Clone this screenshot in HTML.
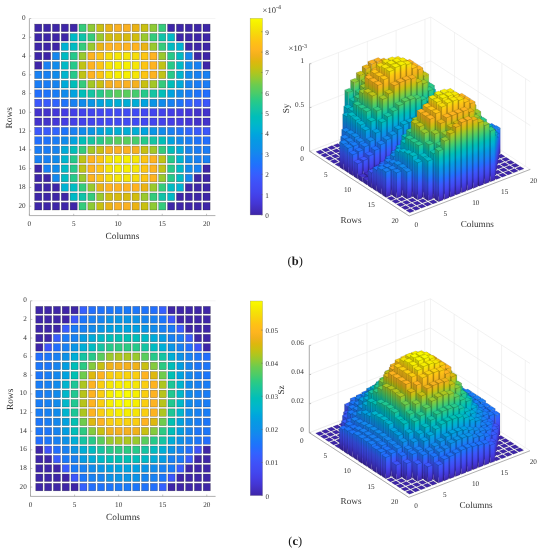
<!DOCTYPE html><html><head><meta charset="utf-8"><title>Sensitivity maps</title><style>html,body{margin:0;padding:0;background:#fff;width:550px;height:551px;overflow:hidden}svg{display:block}</style></head><body><svg width="550" height="551" viewBox="0 0 550 551" text-rendering="geometricPrecision" font-family='"Liberation Serif", "DejaVu Serif", serif'><defs><linearGradient id="cbb" x1="0" y1="1" x2="0" y2="0"><stop offset="0" stop-color="#3e26a8"/><stop offset="0.03" stop-color="#422ebf"/><stop offset="0.06" stop-color="#4436d5"/><stop offset="0.09" stop-color="#443ee5"/><stop offset="0.12" stop-color="#4247ef"/><stop offset="0.16" stop-color="#3f50f7"/><stop offset="0.19" stop-color="#3a59fc"/><stop offset="0.22" stop-color="#3163ff"/><stop offset="0.25" stop-color="#226ffd"/><stop offset="0.28" stop-color="#1a7af8"/><stop offset="0.31" stop-color="#1685f0"/><stop offset="0.34" stop-color="#0d90e9"/><stop offset="0.38" stop-color="#069ae3"/><stop offset="0.41" stop-color="#00a5dd"/><stop offset="0.44" stop-color="#00b1d3"/><stop offset="0.47" stop-color="#00b9c6"/><stop offset="0.5" stop-color="#00beb9"/><stop offset="0.53" stop-color="#11c2a8"/><stop offset="0.56" stop-color="#1ec795"/><stop offset="0.59" stop-color="#2fcb80"/><stop offset="0.62" stop-color="#4bcc69"/><stop offset="0.66" stop-color="#6acc50"/><stop offset="0.69" stop-color="#8cca37"/><stop offset="0.72" stop-color="#acc621"/><stop offset="0.75" stop-color="#c8c011"/><stop offset="0.78" stop-color="#deb70e"/><stop offset="0.81" stop-color="#f1b11b"/><stop offset="0.84" stop-color="#feb51f"/><stop offset="0.88" stop-color="#fec215"/><stop offset="0.91" stop-color="#f9d10e"/><stop offset="0.94" stop-color="#f5e008"/><stop offset="0.97" stop-color="#f6ee00"/><stop offset="1" stop-color="#f9fb00"/></linearGradient><linearGradient id="gbl" gradientUnits="userSpaceOnUse" x1="0" y1="0" x2="0" y2="-84.62" gradientTransform="matrix(1 0.6498 0 1 0 0)"><stop offset="0" stop-color="#311f87"/><stop offset="0.06" stop-color="#372baa"/><stop offset="0.12" stop-color="#3539c0"/><stop offset="0.19" stop-color="#2f47ca"/><stop offset="0.25" stop-color="#1b59ca"/><stop offset="0.31" stop-color="#126ac0"/><stop offset="0.38" stop-color="#057bb6"/><stop offset="0.44" stop-color="#008ea9"/><stop offset="0.5" stop-color="#009894"/><stop offset="0.56" stop-color="#189f77"/><stop offset="0.62" stop-color="#3ca454"/><stop offset="0.69" stop-color="#70a22c"/><stop offset="0.75" stop-color="#a09a0d"/><stop offset="0.81" stop-color="#c18e16"/><stop offset="0.88" stop-color="#cb9b11"/><stop offset="0.94" stop-color="#c4b407"/><stop offset="1" stop-color="#c7c900"/></linearGradient><linearGradient id="gbf" gradientUnits="userSpaceOnUse" x1="0" y1="0" x2="0" y2="-84.62" gradientTransform="matrix(1 -0.3847 0 1 0 0)"><stop offset="0" stop-color="#3e26a8"/><stop offset="0.06" stop-color="#4436d5"/><stop offset="0.12" stop-color="#4247ef"/><stop offset="0.19" stop-color="#3a59fc"/><stop offset="0.25" stop-color="#226ffd"/><stop offset="0.31" stop-color="#1685f0"/><stop offset="0.38" stop-color="#069ae3"/><stop offset="0.44" stop-color="#00b1d3"/><stop offset="0.5" stop-color="#00beb9"/><stop offset="0.56" stop-color="#1ec795"/><stop offset="0.62" stop-color="#4bcc69"/><stop offset="0.69" stop-color="#8cca37"/><stop offset="0.75" stop-color="#c8c011"/><stop offset="0.81" stop-color="#f1b11b"/><stop offset="0.88" stop-color="#fec215"/><stop offset="0.94" stop-color="#f5e008"/><stop offset="1" stop-color="#f9fb00"/></linearGradient><linearGradient id="cbc" x1="0" y1="1" x2="0" y2="0"><stop offset="0" stop-color="#3e26a8"/><stop offset="0.03" stop-color="#422ebf"/><stop offset="0.06" stop-color="#4436d5"/><stop offset="0.09" stop-color="#443ee5"/><stop offset="0.12" stop-color="#4247ef"/><stop offset="0.16" stop-color="#3f50f7"/><stop offset="0.19" stop-color="#3a59fc"/><stop offset="0.22" stop-color="#3163ff"/><stop offset="0.25" stop-color="#226ffd"/><stop offset="0.28" stop-color="#1a7af8"/><stop offset="0.31" stop-color="#1685f0"/><stop offset="0.34" stop-color="#0d90e9"/><stop offset="0.38" stop-color="#069ae3"/><stop offset="0.41" stop-color="#00a5dd"/><stop offset="0.44" stop-color="#00b1d3"/><stop offset="0.47" stop-color="#00b9c6"/><stop offset="0.5" stop-color="#00beb9"/><stop offset="0.53" stop-color="#11c2a8"/><stop offset="0.56" stop-color="#1ec795"/><stop offset="0.59" stop-color="#2fcb80"/><stop offset="0.62" stop-color="#4bcc69"/><stop offset="0.66" stop-color="#6acc50"/><stop offset="0.69" stop-color="#8cca37"/><stop offset="0.72" stop-color="#acc621"/><stop offset="0.75" stop-color="#c8c011"/><stop offset="0.78" stop-color="#deb70e"/><stop offset="0.81" stop-color="#f1b11b"/><stop offset="0.84" stop-color="#feb51f"/><stop offset="0.88" stop-color="#fec215"/><stop offset="0.91" stop-color="#f9d10e"/><stop offset="0.94" stop-color="#f5e008"/><stop offset="0.97" stop-color="#f6ee00"/><stop offset="1" stop-color="#f9fb00"/></linearGradient><linearGradient id="gcl" gradientUnits="userSpaceOnUse" x1="0" y1="0" x2="0" y2="-85.55" gradientTransform="matrix(1 0.6498 0 1 0 0)"><stop offset="0" stop-color="#311f87"/><stop offset="0.06" stop-color="#372baa"/><stop offset="0.12" stop-color="#3539c0"/><stop offset="0.19" stop-color="#2f47ca"/><stop offset="0.25" stop-color="#1b59ca"/><stop offset="0.31" stop-color="#126ac0"/><stop offset="0.38" stop-color="#057bb6"/><stop offset="0.44" stop-color="#008ea9"/><stop offset="0.5" stop-color="#009894"/><stop offset="0.56" stop-color="#189f77"/><stop offset="0.62" stop-color="#3ca454"/><stop offset="0.69" stop-color="#70a22c"/><stop offset="0.75" stop-color="#a09a0d"/><stop offset="0.81" stop-color="#c18e16"/><stop offset="0.88" stop-color="#cb9b11"/><stop offset="0.94" stop-color="#c4b407"/><stop offset="1" stop-color="#c7c900"/></linearGradient><linearGradient id="gcf" gradientUnits="userSpaceOnUse" x1="0" y1="0" x2="0" y2="-85.55" gradientTransform="matrix(1 -0.3847 0 1 0 0)"><stop offset="0" stop-color="#3e26a8"/><stop offset="0.06" stop-color="#4436d5"/><stop offset="0.12" stop-color="#4247ef"/><stop offset="0.19" stop-color="#3a59fc"/><stop offset="0.25" stop-color="#226ffd"/><stop offset="0.31" stop-color="#1685f0"/><stop offset="0.38" stop-color="#069ae3"/><stop offset="0.44" stop-color="#00b1d3"/><stop offset="0.5" stop-color="#00beb9"/><stop offset="0.56" stop-color="#1ec795"/><stop offset="0.62" stop-color="#4bcc69"/><stop offset="0.69" stop-color="#8cca37"/><stop offset="0.75" stop-color="#c8c011"/><stop offset="0.81" stop-color="#f1b11b"/><stop offset="0.88" stop-color="#fec215"/><stop offset="0.94" stop-color="#f5e008"/><stop offset="1" stop-color="#f9fb00"/></linearGradient></defs><rect width="550" height="551" fill="#fff"/><g stroke="#000" stroke-opacity="0.45" stroke-width="0.5"><rect x="34.71" y="24.13" width="7.09" height="7.51" fill="#3e26a8"/><rect x="43.57" y="24.13" width="7.09" height="7.51" fill="#3e26a8"/><rect x="52.43" y="24.13" width="7.09" height="7.51" fill="#3e26a8"/><rect x="61.29" y="24.13" width="7.09" height="7.51" fill="#3e26a8"/><rect x="70.14" y="24.13" width="7.09" height="7.51" fill="#3e26a8"/><rect x="79" y="24.13" width="7.09" height="7.51" fill="#34cb7c"/><rect x="87.86" y="24.13" width="7.09" height="7.51" fill="#8eca35"/><rect x="96.71" y="24.13" width="7.09" height="7.51" fill="#c8c011"/><rect x="105.57" y="24.13" width="7.09" height="7.51" fill="#eab314"/><rect x="114.43" y="24.13" width="7.09" height="7.51" fill="#fab122"/><rect x="123.29" y="24.13" width="7.09" height="7.51" fill="#fab122"/><rect x="132.14" y="24.13" width="7.09" height="7.51" fill="#eab314"/><rect x="141" y="24.13" width="7.09" height="7.51" fill="#c8c011"/><rect x="149.86" y="24.13" width="7.09" height="7.51" fill="#8eca35"/><rect x="158.71" y="24.13" width="7.09" height="7.51" fill="#34cb7c"/><rect x="167.57" y="24.13" width="7.09" height="7.51" fill="#3e26a8"/><rect x="176.43" y="24.13" width="7.09" height="7.51" fill="#3e26a8"/><rect x="185.29" y="24.13" width="7.09" height="7.51" fill="#3e26a8"/><rect x="194.14" y="24.13" width="7.09" height="7.51" fill="#3e26a8"/><rect x="203" y="24.13" width="7.09" height="7.51" fill="#3e26a8"/><rect x="34.71" y="33.52" width="7.09" height="7.51" fill="#3e26a8"/><rect x="43.57" y="33.52" width="7.09" height="7.51" fill="#3e26a8"/><rect x="52.43" y="33.52" width="7.09" height="7.51" fill="#3e26a8"/><rect x="61.29" y="33.52" width="7.09" height="7.51" fill="#3e26a8"/><rect x="70.14" y="33.52" width="7.09" height="7.51" fill="#00b9c6"/><rect x="79" y="33.52" width="7.09" height="7.51" fill="#10c2a8"/><rect x="87.86" y="33.52" width="7.09" height="7.51" fill="#34cb7c"/><rect x="96.71" y="33.52" width="7.09" height="7.51" fill="#99c92d"/><rect x="105.57" y="33.52" width="7.09" height="7.51" fill="#d0bd0e"/><rect x="114.43" y="33.52" width="7.09" height="7.51" fill="#d7ba0d"/><rect x="123.29" y="33.52" width="7.09" height="7.51" fill="#d7ba0d"/><rect x="132.14" y="33.52" width="7.09" height="7.51" fill="#d0bd0e"/><rect x="141" y="33.52" width="7.09" height="7.51" fill="#99c92d"/><rect x="149.86" y="33.52" width="7.09" height="7.51" fill="#34cb7c"/><rect x="158.71" y="33.52" width="7.09" height="7.51" fill="#10c2a8"/><rect x="167.57" y="33.52" width="7.09" height="7.51" fill="#00b9c6"/><rect x="176.43" y="33.52" width="7.09" height="7.51" fill="#3e26a8"/><rect x="185.29" y="33.52" width="7.09" height="7.51" fill="#3e26a8"/><rect x="194.14" y="33.52" width="7.09" height="7.51" fill="#3e26a8"/><rect x="203" y="33.52" width="7.09" height="7.51" fill="#3e26a8"/><rect x="34.71" y="42.9" width="7.09" height="7.51" fill="#3e26a8"/><rect x="43.57" y="42.9" width="7.09" height="7.51" fill="#3e26a8"/><rect x="52.43" y="42.9" width="7.09" height="7.51" fill="#3e26a8"/><rect x="61.29" y="42.9" width="7.09" height="7.51" fill="#00b2d2"/><rect x="70.14" y="42.9" width="7.09" height="7.51" fill="#00bbc2"/><rect x="79" y="42.9" width="7.09" height="7.51" fill="#34cb7c"/><rect x="87.86" y="42.9" width="7.09" height="7.51" fill="#99c92d"/><rect x="96.71" y="42.9" width="7.09" height="7.51" fill="#eab314"/><rect x="105.57" y="42.9" width="7.09" height="7.51" fill="#feb320"/><rect x="114.43" y="42.9" width="7.09" height="7.51" fill="#feb320"/><rect x="123.29" y="42.9" width="7.09" height="7.51" fill="#feb320"/><rect x="132.14" y="42.9" width="7.09" height="7.51" fill="#feb320"/><rect x="141" y="42.9" width="7.09" height="7.51" fill="#eab314"/><rect x="149.86" y="42.9" width="7.09" height="7.51" fill="#99c92d"/><rect x="158.71" y="42.9" width="7.09" height="7.51" fill="#34cb7c"/><rect x="167.57" y="42.9" width="7.09" height="7.51" fill="#00bbc2"/><rect x="176.43" y="42.9" width="7.09" height="7.51" fill="#00b2d2"/><rect x="185.29" y="42.9" width="7.09" height="7.51" fill="#3e26a8"/><rect x="194.14" y="42.9" width="7.09" height="7.51" fill="#3e26a8"/><rect x="203" y="42.9" width="7.09" height="7.51" fill="#3e26a8"/><rect x="34.71" y="52.29" width="7.09" height="7.51" fill="#3e26a8"/><rect x="43.57" y="52.29" width="7.09" height="7.51" fill="#3e26a8"/><rect x="52.43" y="52.29" width="7.09" height="7.51" fill="#1488ee"/><rect x="61.29" y="52.29" width="7.09" height="7.51" fill="#00bbc2"/><rect x="70.14" y="52.29" width="7.09" height="7.51" fill="#26c98a"/><rect x="79" y="52.29" width="7.09" height="7.51" fill="#99c92d"/><rect x="87.86" y="52.29" width="7.09" height="7.51" fill="#feb320"/><rect x="96.71" y="52.29" width="7.09" height="7.51" fill="#fdc513"/><rect x="105.57" y="52.29" width="7.09" height="7.51" fill="#f6dd09"/><rect x="114.43" y="52.29" width="7.09" height="7.51" fill="#f5e606"/><rect x="123.29" y="52.29" width="7.09" height="7.51" fill="#f5e606"/><rect x="132.14" y="52.29" width="7.09" height="7.51" fill="#f6dd09"/><rect x="141" y="52.29" width="7.09" height="7.51" fill="#fdc513"/><rect x="149.86" y="52.29" width="7.09" height="7.51" fill="#feb320"/><rect x="158.71" y="52.29" width="7.09" height="7.51" fill="#99c92d"/><rect x="167.57" y="52.29" width="7.09" height="7.51" fill="#26c98a"/><rect x="176.43" y="52.29" width="7.09" height="7.51" fill="#00bbc2"/><rect x="185.29" y="52.29" width="7.09" height="7.51" fill="#1488ee"/><rect x="194.14" y="52.29" width="7.09" height="7.51" fill="#3e26a8"/><rect x="203" y="52.29" width="7.09" height="7.51" fill="#3e26a8"/><rect x="34.71" y="61.67" width="7.09" height="7.51" fill="#3e26a8"/><rect x="43.57" y="61.67" width="7.09" height="7.51" fill="#1881f3"/><rect x="52.43" y="61.67" width="7.09" height="7.51" fill="#108bec"/><rect x="61.29" y="61.67" width="7.09" height="7.51" fill="#00b9c6"/><rect x="70.14" y="61.67" width="7.09" height="7.51" fill="#26c98a"/><rect x="79" y="61.67" width="7.09" height="7.51" fill="#c0c316"/><rect x="87.86" y="61.67" width="7.09" height="7.51" fill="#feb320"/><rect x="96.71" y="61.67" width="7.09" height="7.51" fill="#fdc513"/><rect x="105.57" y="61.67" width="7.09" height="7.51" fill="#f5e606"/><rect x="114.43" y="61.67" width="7.09" height="7.51" fill="#f6ef00"/><rect x="123.29" y="61.67" width="7.09" height="7.51" fill="#f6ef00"/><rect x="132.14" y="61.67" width="7.09" height="7.51" fill="#f5e606"/><rect x="141" y="61.67" width="7.09" height="7.51" fill="#fdc513"/><rect x="149.86" y="61.67" width="7.09" height="7.51" fill="#feb320"/><rect x="158.71" y="61.67" width="7.09" height="7.51" fill="#c0c316"/><rect x="167.57" y="61.67" width="7.09" height="7.51" fill="#26c98a"/><rect x="176.43" y="61.67" width="7.09" height="7.51" fill="#00b9c6"/><rect x="185.29" y="61.67" width="7.09" height="7.51" fill="#108bec"/><rect x="194.14" y="61.67" width="7.09" height="7.51" fill="#1881f3"/><rect x="203" y="61.67" width="7.09" height="7.51" fill="#3e26a8"/><rect x="34.71" y="71.06" width="7.09" height="7.51" fill="#1881f3"/><rect x="43.57" y="71.06" width="7.09" height="7.51" fill="#1881f3"/><rect x="52.43" y="71.06" width="7.09" height="7.51" fill="#108bec"/><rect x="61.29" y="71.06" width="7.09" height="7.51" fill="#00b5ce"/><rect x="70.14" y="71.06" width="7.09" height="7.51" fill="#26c98a"/><rect x="79" y="71.06" width="7.09" height="7.51" fill="#c0c316"/><rect x="87.86" y="71.06" width="7.09" height="7.51" fill="#feb320"/><rect x="96.71" y="71.06" width="7.09" height="7.51" fill="#fdc513"/><rect x="105.57" y="71.06" width="7.09" height="7.51" fill="#f5e606"/><rect x="114.43" y="71.06" width="7.09" height="7.51" fill="#f6ef00"/><rect x="123.29" y="71.06" width="7.09" height="7.51" fill="#f6ef00"/><rect x="132.14" y="71.06" width="7.09" height="7.51" fill="#f5e606"/><rect x="141" y="71.06" width="7.09" height="7.51" fill="#fdc513"/><rect x="149.86" y="71.06" width="7.09" height="7.51" fill="#feb320"/><rect x="158.71" y="71.06" width="7.09" height="7.51" fill="#c0c316"/><rect x="167.57" y="71.06" width="7.09" height="7.51" fill="#26c98a"/><rect x="176.43" y="71.06" width="7.09" height="7.51" fill="#00b5ce"/><rect x="185.29" y="71.06" width="7.09" height="7.51" fill="#108bec"/><rect x="194.14" y="71.06" width="7.09" height="7.51" fill="#1881f3"/><rect x="203" y="71.06" width="7.09" height="7.51" fill="#1881f3"/><rect x="34.71" y="80.45" width="7.09" height="7.51" fill="#197df6"/><rect x="43.57" y="80.45" width="7.09" height="7.51" fill="#197df6"/><rect x="52.43" y="80.45" width="7.09" height="7.51" fill="#1684f0"/><rect x="61.29" y="80.45" width="7.09" height="7.51" fill="#00abd9"/><rect x="70.14" y="80.45" width="7.09" height="7.51" fill="#00beb9"/><rect x="79" y="80.45" width="7.09" height="7.51" fill="#34cb7c"/><rect x="87.86" y="80.45" width="7.09" height="7.51" fill="#a3c726"/><rect x="96.71" y="80.45" width="7.09" height="7.51" fill="#c8c011"/><rect x="105.57" y="80.45" width="7.09" height="7.51" fill="#f5b11f"/><rect x="114.43" y="80.45" width="7.09" height="7.51" fill="#fab122"/><rect x="123.29" y="80.45" width="7.09" height="7.51" fill="#fab122"/><rect x="132.14" y="80.45" width="7.09" height="7.51" fill="#f5b11f"/><rect x="141" y="80.45" width="7.09" height="7.51" fill="#c8c011"/><rect x="149.86" y="80.45" width="7.09" height="7.51" fill="#a3c726"/><rect x="158.71" y="80.45" width="7.09" height="7.51" fill="#34cb7c"/><rect x="167.57" y="80.45" width="7.09" height="7.51" fill="#00beb9"/><rect x="176.43" y="80.45" width="7.09" height="7.51" fill="#00abd9"/><rect x="185.29" y="80.45" width="7.09" height="7.51" fill="#1684f0"/><rect x="194.14" y="80.45" width="7.09" height="7.51" fill="#197df6"/><rect x="203" y="80.45" width="7.09" height="7.51" fill="#197df6"/><rect x="34.71" y="89.83" width="7.09" height="7.51" fill="#226ffd"/><rect x="43.57" y="89.83" width="7.09" height="7.51" fill="#1e73fb"/><rect x="52.43" y="89.83" width="7.09" height="7.51" fill="#197df6"/><rect x="61.29" y="89.83" width="7.09" height="7.51" fill="#108bec"/><rect x="70.14" y="89.83" width="7.09" height="7.51" fill="#00a3df"/><rect x="79" y="89.83" width="7.09" height="7.51" fill="#00beb9"/><rect x="87.86" y="89.83" width="7.09" height="7.51" fill="#15c4a3"/><rect x="96.71" y="89.83" width="7.09" height="7.51" fill="#26c98a"/><rect x="105.57" y="89.83" width="7.09" height="7.51" fill="#46cc6d"/><rect x="114.43" y="89.83" width="7.09" height="7.51" fill="#59cd5d"/><rect x="123.29" y="89.83" width="7.09" height="7.51" fill="#59cd5d"/><rect x="132.14" y="89.83" width="7.09" height="7.51" fill="#46cc6d"/><rect x="141" y="89.83" width="7.09" height="7.51" fill="#26c98a"/><rect x="149.86" y="89.83" width="7.09" height="7.51" fill="#15c4a3"/><rect x="158.71" y="89.83" width="7.09" height="7.51" fill="#00beb9"/><rect x="167.57" y="89.83" width="7.09" height="7.51" fill="#00a3df"/><rect x="176.43" y="89.83" width="7.09" height="7.51" fill="#108bec"/><rect x="185.29" y="89.83" width="7.09" height="7.51" fill="#197df6"/><rect x="194.14" y="89.83" width="7.09" height="7.51" fill="#1e73fb"/><rect x="203" y="89.83" width="7.09" height="7.51" fill="#226ffd"/><rect x="34.71" y="99.22" width="7.09" height="7.51" fill="#3c57fb"/><rect x="43.57" y="99.22" width="7.09" height="7.51" fill="#3a5afd"/><rect x="52.43" y="99.22" width="7.09" height="7.51" fill="#3164ff"/><rect x="61.29" y="99.22" width="7.09" height="7.51" fill="#1e73fb"/><rect x="70.14" y="99.22" width="7.09" height="7.51" fill="#1881f3"/><rect x="79" y="99.22" width="7.09" height="7.51" fill="#108bec"/><rect x="87.86" y="99.22" width="7.09" height="7.51" fill="#0a95e6"/><rect x="96.71" y="99.22" width="7.09" height="7.51" fill="#00a3df"/><rect x="105.57" y="99.22" width="7.09" height="7.51" fill="#00aed6"/><rect x="114.43" y="99.22" width="7.09" height="7.51" fill="#00aed6"/><rect x="123.29" y="99.22" width="7.09" height="7.51" fill="#00aed6"/><rect x="132.14" y="99.22" width="7.09" height="7.51" fill="#00aed6"/><rect x="141" y="99.22" width="7.09" height="7.51" fill="#00a3df"/><rect x="149.86" y="99.22" width="7.09" height="7.51" fill="#0a95e6"/><rect x="158.71" y="99.22" width="7.09" height="7.51" fill="#108bec"/><rect x="167.57" y="99.22" width="7.09" height="7.51" fill="#1881f3"/><rect x="176.43" y="99.22" width="7.09" height="7.51" fill="#1e73fb"/><rect x="185.29" y="99.22" width="7.09" height="7.51" fill="#3164ff"/><rect x="194.14" y="99.22" width="7.09" height="7.51" fill="#3a5afd"/><rect x="203" y="99.22" width="7.09" height="7.51" fill="#3c57fb"/><rect x="34.71" y="108.6" width="7.09" height="7.51" fill="#4433cc"/><rect x="43.57" y="108.6" width="7.09" height="7.51" fill="#4433cc"/><rect x="52.43" y="108.6" width="7.09" height="7.51" fill="#4437d9"/><rect x="61.29" y="108.6" width="7.09" height="7.51" fill="#443de3"/><rect x="70.14" y="108.6" width="7.09" height="7.51" fill="#443fe7"/><rect x="79" y="108.6" width="7.09" height="7.51" fill="#4342eb"/><rect x="87.86" y="108.6" width="7.09" height="7.51" fill="#4345ee"/><rect x="96.71" y="108.6" width="7.09" height="7.51" fill="#4248f1"/><rect x="105.57" y="108.6" width="7.09" height="7.51" fill="#414bf4"/><rect x="114.43" y="108.6" width="7.09" height="7.51" fill="#414bf4"/><rect x="123.29" y="108.6" width="7.09" height="7.51" fill="#414bf4"/><rect x="132.14" y="108.6" width="7.09" height="7.51" fill="#414bf4"/><rect x="141" y="108.6" width="7.09" height="7.51" fill="#4248f1"/><rect x="149.86" y="108.6" width="7.09" height="7.51" fill="#4345ee"/><rect x="158.71" y="108.6" width="7.09" height="7.51" fill="#4342eb"/><rect x="167.57" y="108.6" width="7.09" height="7.51" fill="#443fe7"/><rect x="176.43" y="108.6" width="7.09" height="7.51" fill="#443de3"/><rect x="185.29" y="108.6" width="7.09" height="7.51" fill="#4437d9"/><rect x="194.14" y="108.6" width="7.09" height="7.51" fill="#4433cc"/><rect x="203" y="108.6" width="7.09" height="7.51" fill="#4433cc"/><rect x="34.71" y="117.99" width="7.09" height="7.51" fill="#4433cc"/><rect x="43.57" y="117.99" width="7.09" height="7.51" fill="#4433cc"/><rect x="52.43" y="117.99" width="7.09" height="7.51" fill="#4437d9"/><rect x="61.29" y="117.99" width="7.09" height="7.51" fill="#443de3"/><rect x="70.14" y="117.99" width="7.09" height="7.51" fill="#443fe7"/><rect x="79" y="117.99" width="7.09" height="7.51" fill="#4342eb"/><rect x="87.86" y="117.99" width="7.09" height="7.51" fill="#4345ee"/><rect x="96.71" y="117.99" width="7.09" height="7.51" fill="#4248f1"/><rect x="105.57" y="117.99" width="7.09" height="7.51" fill="#414bf4"/><rect x="114.43" y="117.99" width="7.09" height="7.51" fill="#414bf4"/><rect x="123.29" y="117.99" width="7.09" height="7.51" fill="#414bf4"/><rect x="132.14" y="117.99" width="7.09" height="7.51" fill="#414bf4"/><rect x="141" y="117.99" width="7.09" height="7.51" fill="#4248f1"/><rect x="149.86" y="117.99" width="7.09" height="7.51" fill="#4345ee"/><rect x="158.71" y="117.99" width="7.09" height="7.51" fill="#4342eb"/><rect x="167.57" y="117.99" width="7.09" height="7.51" fill="#443fe7"/><rect x="176.43" y="117.99" width="7.09" height="7.51" fill="#443de3"/><rect x="185.29" y="117.99" width="7.09" height="7.51" fill="#4437d9"/><rect x="194.14" y="117.99" width="7.09" height="7.51" fill="#4433cc"/><rect x="203" y="117.99" width="7.09" height="7.51" fill="#4433cc"/><rect x="34.71" y="127.37" width="7.09" height="7.51" fill="#3c57fb"/><rect x="43.57" y="127.37" width="7.09" height="7.51" fill="#3a5afd"/><rect x="52.43" y="127.37" width="7.09" height="7.51" fill="#3164ff"/><rect x="61.29" y="127.37" width="7.09" height="7.51" fill="#1e73fb"/><rect x="70.14" y="127.37" width="7.09" height="7.51" fill="#1881f3"/><rect x="79" y="127.37" width="7.09" height="7.51" fill="#108bec"/><rect x="87.86" y="127.37" width="7.09" height="7.51" fill="#0a95e6"/><rect x="96.71" y="127.37" width="7.09" height="7.51" fill="#00a3df"/><rect x="105.57" y="127.37" width="7.09" height="7.51" fill="#00aed6"/><rect x="114.43" y="127.37" width="7.09" height="7.51" fill="#00aed6"/><rect x="123.29" y="127.37" width="7.09" height="7.51" fill="#00aed6"/><rect x="132.14" y="127.37" width="7.09" height="7.51" fill="#00aed6"/><rect x="141" y="127.37" width="7.09" height="7.51" fill="#00a3df"/><rect x="149.86" y="127.37" width="7.09" height="7.51" fill="#0a95e6"/><rect x="158.71" y="127.37" width="7.09" height="7.51" fill="#108bec"/><rect x="167.57" y="127.37" width="7.09" height="7.51" fill="#1881f3"/><rect x="176.43" y="127.37" width="7.09" height="7.51" fill="#1e73fb"/><rect x="185.29" y="127.37" width="7.09" height="7.51" fill="#3164ff"/><rect x="194.14" y="127.37" width="7.09" height="7.51" fill="#3a5afd"/><rect x="203" y="127.37" width="7.09" height="7.51" fill="#3c57fb"/><rect x="34.71" y="136.76" width="7.09" height="7.51" fill="#226ffd"/><rect x="43.57" y="136.76" width="7.09" height="7.51" fill="#1e73fb"/><rect x="52.43" y="136.76" width="7.09" height="7.51" fill="#197df6"/><rect x="61.29" y="136.76" width="7.09" height="7.51" fill="#108bec"/><rect x="70.14" y="136.76" width="7.09" height="7.51" fill="#00a3df"/><rect x="79" y="136.76" width="7.09" height="7.51" fill="#00beb9"/><rect x="87.86" y="136.76" width="7.09" height="7.51" fill="#15c4a3"/><rect x="96.71" y="136.76" width="7.09" height="7.51" fill="#26c98a"/><rect x="105.57" y="136.76" width="7.09" height="7.51" fill="#46cc6d"/><rect x="114.43" y="136.76" width="7.09" height="7.51" fill="#59cd5d"/><rect x="123.29" y="136.76" width="7.09" height="7.51" fill="#59cd5d"/><rect x="132.14" y="136.76" width="7.09" height="7.51" fill="#46cc6d"/><rect x="141" y="136.76" width="7.09" height="7.51" fill="#26c98a"/><rect x="149.86" y="136.76" width="7.09" height="7.51" fill="#15c4a3"/><rect x="158.71" y="136.76" width="7.09" height="7.51" fill="#00beb9"/><rect x="167.57" y="136.76" width="7.09" height="7.51" fill="#00a3df"/><rect x="176.43" y="136.76" width="7.09" height="7.51" fill="#108bec"/><rect x="185.29" y="136.76" width="7.09" height="7.51" fill="#197df6"/><rect x="194.14" y="136.76" width="7.09" height="7.51" fill="#1e73fb"/><rect x="203" y="136.76" width="7.09" height="7.51" fill="#226ffd"/><rect x="34.71" y="146.15" width="7.09" height="7.51" fill="#197df6"/><rect x="43.57" y="146.15" width="7.09" height="7.51" fill="#197df6"/><rect x="52.43" y="146.15" width="7.09" height="7.51" fill="#1684f0"/><rect x="61.29" y="146.15" width="7.09" height="7.51" fill="#00abd9"/><rect x="70.14" y="146.15" width="7.09" height="7.51" fill="#00beb9"/><rect x="79" y="146.15" width="7.09" height="7.51" fill="#34cb7c"/><rect x="87.86" y="146.15" width="7.09" height="7.51" fill="#a3c726"/><rect x="96.71" y="146.15" width="7.09" height="7.51" fill="#c8c011"/><rect x="105.57" y="146.15" width="7.09" height="7.51" fill="#f5b11f"/><rect x="114.43" y="146.15" width="7.09" height="7.51" fill="#fab122"/><rect x="123.29" y="146.15" width="7.09" height="7.51" fill="#fab122"/><rect x="132.14" y="146.15" width="7.09" height="7.51" fill="#f5b11f"/><rect x="141" y="146.15" width="7.09" height="7.51" fill="#c8c011"/><rect x="149.86" y="146.15" width="7.09" height="7.51" fill="#a3c726"/><rect x="158.71" y="146.15" width="7.09" height="7.51" fill="#34cb7c"/><rect x="167.57" y="146.15" width="7.09" height="7.51" fill="#00beb9"/><rect x="176.43" y="146.15" width="7.09" height="7.51" fill="#00abd9"/><rect x="185.29" y="146.15" width="7.09" height="7.51" fill="#1684f0"/><rect x="194.14" y="146.15" width="7.09" height="7.51" fill="#197df6"/><rect x="203" y="146.15" width="7.09" height="7.51" fill="#197df6"/><rect x="34.71" y="155.53" width="7.09" height="7.51" fill="#1881f3"/><rect x="43.57" y="155.53" width="7.09" height="7.51" fill="#1881f3"/><rect x="52.43" y="155.53" width="7.09" height="7.51" fill="#108bec"/><rect x="61.29" y="155.53" width="7.09" height="7.51" fill="#00b5ce"/><rect x="70.14" y="155.53" width="7.09" height="7.51" fill="#26c98a"/><rect x="79" y="155.53" width="7.09" height="7.51" fill="#c0c316"/><rect x="87.86" y="155.53" width="7.09" height="7.51" fill="#feb320"/><rect x="96.71" y="155.53" width="7.09" height="7.51" fill="#fdc513"/><rect x="105.57" y="155.53" width="7.09" height="7.51" fill="#f5e606"/><rect x="114.43" y="155.53" width="7.09" height="7.51" fill="#f6ef00"/><rect x="123.29" y="155.53" width="7.09" height="7.51" fill="#f6ef00"/><rect x="132.14" y="155.53" width="7.09" height="7.51" fill="#f5e606"/><rect x="141" y="155.53" width="7.09" height="7.51" fill="#fdc513"/><rect x="149.86" y="155.53" width="7.09" height="7.51" fill="#feb320"/><rect x="158.71" y="155.53" width="7.09" height="7.51" fill="#c0c316"/><rect x="167.57" y="155.53" width="7.09" height="7.51" fill="#26c98a"/><rect x="176.43" y="155.53" width="7.09" height="7.51" fill="#00b5ce"/><rect x="185.29" y="155.53" width="7.09" height="7.51" fill="#108bec"/><rect x="194.14" y="155.53" width="7.09" height="7.51" fill="#1881f3"/><rect x="203" y="155.53" width="7.09" height="7.51" fill="#1881f3"/><rect x="34.71" y="164.92" width="7.09" height="7.51" fill="#3e26a8"/><rect x="43.57" y="164.92" width="7.09" height="7.51" fill="#1881f3"/><rect x="52.43" y="164.92" width="7.09" height="7.51" fill="#108bec"/><rect x="61.29" y="164.92" width="7.09" height="7.51" fill="#00b9c6"/><rect x="70.14" y="164.92" width="7.09" height="7.51" fill="#26c98a"/><rect x="79" y="164.92" width="7.09" height="7.51" fill="#c0c316"/><rect x="87.86" y="164.92" width="7.09" height="7.51" fill="#feb320"/><rect x="96.71" y="164.92" width="7.09" height="7.51" fill="#fdc513"/><rect x="105.57" y="164.92" width="7.09" height="7.51" fill="#f5e606"/><rect x="114.43" y="164.92" width="7.09" height="7.51" fill="#f6ef00"/><rect x="123.29" y="164.92" width="7.09" height="7.51" fill="#f6ef00"/><rect x="132.14" y="164.92" width="7.09" height="7.51" fill="#f5e606"/><rect x="141" y="164.92" width="7.09" height="7.51" fill="#fdc513"/><rect x="149.86" y="164.92" width="7.09" height="7.51" fill="#feb320"/><rect x="158.71" y="164.92" width="7.09" height="7.51" fill="#c0c316"/><rect x="167.57" y="164.92" width="7.09" height="7.51" fill="#26c98a"/><rect x="176.43" y="164.92" width="7.09" height="7.51" fill="#00b9c6"/><rect x="185.29" y="164.92" width="7.09" height="7.51" fill="#108bec"/><rect x="194.14" y="164.92" width="7.09" height="7.51" fill="#1881f3"/><rect x="203" y="164.92" width="7.09" height="7.51" fill="#3e26a8"/><rect x="34.71" y="174.3" width="7.09" height="7.51" fill="#3e26a8"/><rect x="43.57" y="174.3" width="7.09" height="7.51" fill="#3e26a8"/><rect x="52.43" y="174.3" width="7.09" height="7.51" fill="#1488ee"/><rect x="61.29" y="174.3" width="7.09" height="7.51" fill="#00bbc2"/><rect x="70.14" y="174.3" width="7.09" height="7.51" fill="#26c98a"/><rect x="79" y="174.3" width="7.09" height="7.51" fill="#99c92d"/><rect x="87.86" y="174.3" width="7.09" height="7.51" fill="#feb320"/><rect x="96.71" y="174.3" width="7.09" height="7.51" fill="#fdc513"/><rect x="105.57" y="174.3" width="7.09" height="7.51" fill="#f6dd09"/><rect x="114.43" y="174.3" width="7.09" height="7.51" fill="#f5e606"/><rect x="123.29" y="174.3" width="7.09" height="7.51" fill="#f5e606"/><rect x="132.14" y="174.3" width="7.09" height="7.51" fill="#f6dd09"/><rect x="141" y="174.3" width="7.09" height="7.51" fill="#fdc513"/><rect x="149.86" y="174.3" width="7.09" height="7.51" fill="#feb320"/><rect x="158.71" y="174.3" width="7.09" height="7.51" fill="#99c92d"/><rect x="167.57" y="174.3" width="7.09" height="7.51" fill="#26c98a"/><rect x="176.43" y="174.3" width="7.09" height="7.51" fill="#00bbc2"/><rect x="185.29" y="174.3" width="7.09" height="7.51" fill="#1488ee"/><rect x="194.14" y="174.3" width="7.09" height="7.51" fill="#3e26a8"/><rect x="203" y="174.3" width="7.09" height="7.51" fill="#3e26a8"/><rect x="34.71" y="183.69" width="7.09" height="7.51" fill="#3e26a8"/><rect x="43.57" y="183.69" width="7.09" height="7.51" fill="#3e26a8"/><rect x="52.43" y="183.69" width="7.09" height="7.51" fill="#3e26a8"/><rect x="61.29" y="183.69" width="7.09" height="7.51" fill="#00b2d2"/><rect x="70.14" y="183.69" width="7.09" height="7.51" fill="#00bbc2"/><rect x="79" y="183.69" width="7.09" height="7.51" fill="#34cb7c"/><rect x="87.86" y="183.69" width="7.09" height="7.51" fill="#99c92d"/><rect x="96.71" y="183.69" width="7.09" height="7.51" fill="#eab314"/><rect x="105.57" y="183.69" width="7.09" height="7.51" fill="#feb320"/><rect x="114.43" y="183.69" width="7.09" height="7.51" fill="#feb320"/><rect x="123.29" y="183.69" width="7.09" height="7.51" fill="#feb320"/><rect x="132.14" y="183.69" width="7.09" height="7.51" fill="#feb320"/><rect x="141" y="183.69" width="7.09" height="7.51" fill="#eab314"/><rect x="149.86" y="183.69" width="7.09" height="7.51" fill="#99c92d"/><rect x="158.71" y="183.69" width="7.09" height="7.51" fill="#34cb7c"/><rect x="167.57" y="183.69" width="7.09" height="7.51" fill="#00bbc2"/><rect x="176.43" y="183.69" width="7.09" height="7.51" fill="#00b2d2"/><rect x="185.29" y="183.69" width="7.09" height="7.51" fill="#3e26a8"/><rect x="194.14" y="183.69" width="7.09" height="7.51" fill="#3e26a8"/><rect x="203" y="183.69" width="7.09" height="7.51" fill="#3e26a8"/><rect x="34.71" y="193.07" width="7.09" height="7.51" fill="#3e26a8"/><rect x="43.57" y="193.07" width="7.09" height="7.51" fill="#3e26a8"/><rect x="52.43" y="193.07" width="7.09" height="7.51" fill="#3e26a8"/><rect x="61.29" y="193.07" width="7.09" height="7.51" fill="#3e26a8"/><rect x="70.14" y="193.07" width="7.09" height="7.51" fill="#00b9c6"/><rect x="79" y="193.07" width="7.09" height="7.51" fill="#10c2a8"/><rect x="87.86" y="193.07" width="7.09" height="7.51" fill="#34cb7c"/><rect x="96.71" y="193.07" width="7.09" height="7.51" fill="#99c92d"/><rect x="105.57" y="193.07" width="7.09" height="7.51" fill="#d0bd0e"/><rect x="114.43" y="193.07" width="7.09" height="7.51" fill="#d7ba0d"/><rect x="123.29" y="193.07" width="7.09" height="7.51" fill="#d7ba0d"/><rect x="132.14" y="193.07" width="7.09" height="7.51" fill="#d0bd0e"/><rect x="141" y="193.07" width="7.09" height="7.51" fill="#99c92d"/><rect x="149.86" y="193.07" width="7.09" height="7.51" fill="#34cb7c"/><rect x="158.71" y="193.07" width="7.09" height="7.51" fill="#10c2a8"/><rect x="167.57" y="193.07" width="7.09" height="7.51" fill="#00b9c6"/><rect x="176.43" y="193.07" width="7.09" height="7.51" fill="#3e26a8"/><rect x="185.29" y="193.07" width="7.09" height="7.51" fill="#3e26a8"/><rect x="194.14" y="193.07" width="7.09" height="7.51" fill="#3e26a8"/><rect x="203" y="193.07" width="7.09" height="7.51" fill="#3e26a8"/><rect x="34.71" y="202.46" width="7.09" height="7.51" fill="#3e26a8"/><rect x="43.57" y="202.46" width="7.09" height="7.51" fill="#3e26a8"/><rect x="52.43" y="202.46" width="7.09" height="7.51" fill="#3e26a8"/><rect x="61.29" y="202.46" width="7.09" height="7.51" fill="#3e26a8"/><rect x="70.14" y="202.46" width="7.09" height="7.51" fill="#3e26a8"/><rect x="79" y="202.46" width="7.09" height="7.51" fill="#34cb7c"/><rect x="87.86" y="202.46" width="7.09" height="7.51" fill="#8eca35"/><rect x="96.71" y="202.46" width="7.09" height="7.51" fill="#c8c011"/><rect x="105.57" y="202.46" width="7.09" height="7.51" fill="#eab314"/><rect x="114.43" y="202.46" width="7.09" height="7.51" fill="#fab122"/><rect x="123.29" y="202.46" width="7.09" height="7.51" fill="#fab122"/><rect x="132.14" y="202.46" width="7.09" height="7.51" fill="#eab314"/><rect x="141" y="202.46" width="7.09" height="7.51" fill="#c8c011"/><rect x="149.86" y="202.46" width="7.09" height="7.51" fill="#8eca35"/><rect x="158.71" y="202.46" width="7.09" height="7.51" fill="#34cb7c"/><rect x="167.57" y="202.46" width="7.09" height="7.51" fill="#3e26a8"/><rect x="176.43" y="202.46" width="7.09" height="7.51" fill="#3e26a8"/><rect x="185.29" y="202.46" width="7.09" height="7.51" fill="#3e26a8"/><rect x="194.14" y="202.46" width="7.09" height="7.51" fill="#3e26a8"/><rect x="203" y="202.46" width="7.09" height="7.51" fill="#3e26a8"/></g>
<path d="M29.4 18.5V215.6H215.4" fill="none" stroke="#9a9a9a" stroke-width="0.8"/>
<path d="M29.4 18.5H215.4" fill="none" stroke="#eeeeee" stroke-width="0.6"/>
<path d="M29.4 18.5h1.8M29.4 37.27h1.8M29.4 56.04h1.8M29.4 74.81h1.8M29.4 93.59h1.8M29.4 112.36h1.8M29.4 131.13h1.8M29.4 149.9h1.8M29.4 168.67h1.8M29.4 187.44h1.8M29.4 206.21h1.8M29.4 215.6v-1.8M73.69 215.6v-1.8M117.97 215.6v-1.8M162.26 215.6v-1.8M206.54 215.6v-1.8" stroke="#9a9a9a" stroke-width="0.6"/>
<text x="25.7" y="20" font-size="7.2" text-anchor="end" fill="#333333" >0</text>
<text x="25.7" y="38.77" font-size="7.2" text-anchor="end" fill="#333333" >2</text>
<text x="25.7" y="57.54" font-size="7.2" text-anchor="end" fill="#333333" >4</text>
<text x="25.7" y="76.31" font-size="7.2" text-anchor="end" fill="#333333" >6</text>
<text x="25.7" y="95.09" font-size="7.2" text-anchor="end" fill="#333333" >8</text>
<text x="25.7" y="113.86" font-size="7.2" text-anchor="end" fill="#333333" >10</text>
<text x="25.7" y="132.63" font-size="7.2" text-anchor="end" fill="#333333" >12</text>
<text x="25.7" y="151.4" font-size="7.2" text-anchor="end" fill="#333333" >14</text>
<text x="25.7" y="170.17" font-size="7.2" text-anchor="end" fill="#333333" >16</text>
<text x="25.7" y="188.94" font-size="7.2" text-anchor="end" fill="#333333" >18</text>
<text x="25.7" y="207.71" font-size="7.2" text-anchor="end" fill="#333333" >20</text>
<text x="29.4" y="226.2" font-size="7.2" text-anchor="middle" fill="#333333" >0</text>
<text x="73.69" y="226.2" font-size="7.2" text-anchor="middle" fill="#333333" >5</text>
<text x="117.97" y="226.2" font-size="7.2" text-anchor="middle" fill="#333333" >10</text>
<text x="162.26" y="226.2" font-size="7.2" text-anchor="middle" fill="#333333" >15</text>
<text x="206.54" y="226.2" font-size="7.2" text-anchor="middle" fill="#333333" >20</text>
<text x="122.4" y="239" font-size="9.4" text-anchor="middle" fill="#333333" >Columns</text>
<text x="0" y="0" font-size="9.4" text-anchor="middle" fill="#333333" transform="translate(11.9,117.85) rotate(-90)">Rows</text>
<rect x="250.1" y="18.3" width="12.4" height="196.7" fill="url(#cbb)" stroke="#888" stroke-width="0.3"/>
<text x="265.3" y="217.9" font-size="7.2" text-anchor="start" fill="#333333" >0</text>
<text x="265.3" y="197.54" font-size="7.2" text-anchor="start" fill="#333333" >1</text>
<text x="265.3" y="177.18" font-size="7.2" text-anchor="start" fill="#333333" >2</text>
<text x="265.3" y="156.81" font-size="7.2" text-anchor="start" fill="#333333" >3</text>
<text x="265.3" y="136.45" font-size="7.2" text-anchor="start" fill="#333333" >4</text>
<text x="265.3" y="116.09" font-size="7.2" text-anchor="start" fill="#333333" >5</text>
<text x="265.3" y="95.73" font-size="7.2" text-anchor="start" fill="#333333" >6</text>
<text x="265.3" y="75.36" font-size="7.2" text-anchor="start" fill="#333333" >7</text>
<text x="265.3" y="55" font-size="7.2" text-anchor="start" fill="#333333" >8</text>
<text x="265.3" y="34.64" font-size="7.2" text-anchor="start" fill="#333333" >9</text>
<path d="M262.5 215h-1.5M262.5 194.64h-1.5M262.5 174.28h-1.5M262.5 153.91h-1.5M262.5 133.55h-1.5M262.5 113.19h-1.5M262.5 92.83h-1.5M262.5 72.46h-1.5M262.5 52.1h-1.5M262.5 31.74h-1.5" stroke="#666" stroke-width="0.5"/>
<text x="262.6" y="12.6" font-size="8.5" fill="#333333">×10<tspan font-size="6" dy="-3.6">-4</tspan></text>
<path d="M309.6 151.3L309.6 63.7M430.77 104.68L430.77 17.08M309.6 151.3L409.14 215.98M309.6 151.3L430.77 104.68M338.45 140.2L338.45 52.6M454.47 120.08L454.47 32.48M338.45 140.2L437.99 204.88M333.3 166.7L454.47 120.08M367.3 129.1L367.3 41.5M478.17 135.48L478.17 47.88M367.3 129.1L466.84 193.78M357 182.1L478.17 135.48M396.15 118L396.15 30.4M501.87 150.88L501.87 63.28M396.15 118L495.69 182.68M380.7 197.5L501.87 150.88M425 106.9L425 19.3M525.57 166.28L525.57 78.68M425 106.9L524.54 171.58M404.4 212.9L525.57 166.28M309.6 151.3L430.77 104.68L530.31 169.36M309.6 107.5L430.77 60.88L530.31 125.56M309.6 63.7L430.77 17.08L530.31 81.76" fill="none" stroke="#e9e9e9" stroke-width="0.6"/>
<g stroke="#000" stroke-opacity="0.3" stroke-width="0.35" stroke-linejoin="round"><g transform="translate(429.33,112.1)"><path d="M0 0L4.62 -1.78L0.82 -4.24L-3.79 -2.46Z" fill="#3e26a8"/></g><g transform="translate(423.56,114.32)"><path d="M0 0L4.62 -1.78L0.82 -4.24L-3.79 -2.46Z" fill="#3e26a8"/></g><g transform="translate(434.07,115.18)"><path d="M0 0L4.62 -1.78L0.82 -4.24L-3.79 -2.46Z" fill="#3e26a8"/></g><g transform="translate(417.79,116.54)"><path d="M0 0L4.62 -1.78L0.82 -4.24L-3.79 -2.46Z" fill="#3e26a8"/></g><g transform="translate(428.3,117.4)"><path d="M0 0L4.62 -1.78L0.82 -4.24L-3.79 -2.46Z" fill="#3e26a8"/></g><g transform="translate(438.81,118.26)"><path d="M0 0L4.62 -1.78L0.82 -4.24L-3.79 -2.46Z" fill="#3e26a8"/></g><g transform="translate(412.02,118.76)"><path d="M0 0L4.62 -1.78L0.82 -4.24L-3.79 -2.46Z" fill="#3e26a8"/></g><g transform="translate(422.53,119.62)"><path d="M0 0L4.62 -1.78L0.82 -4.24L-3.79 -2.46Z" fill="#3e26a8"/></g><g transform="translate(433.04,120.48)"><path d="M0 0L4.62 -1.78L0.82 -4.24L-3.79 -2.46Z" fill="#3e26a8"/></g><g transform="translate(443.55,121.34)"><path d="M0 0L4.62 -1.78L0.82 -4.24L-3.79 -2.46Z" fill="#3e26a8"/></g><g transform="translate(406.25,120.98)"><path d="M0 0L4.62 -1.78L0.82 -4.24L-3.79 -2.46Z" fill="#3e26a8"/></g><g transform="translate(416.76,121.84)"><path d="M0 0L4.62 -1.78L0.82 -4.24L-3.79 -2.46Z" fill="#3e26a8"/></g><g transform="translate(427.27,122.7)"><path d="M0 0L4.62 -1.78L0.82 -4.24L-3.79 -2.46Z" fill="#3e26a8"/></g><g transform="translate(437.78,123.56)"><path d="M0 0L4.62 -1.78L0.82 -4.24L-3.79 -2.46Z" fill="#3e26a8"/></g><g transform="translate(400.48,123.2)"><path d="M-3.79 -2.46L0 0V-50.77L-3.79 -53.24Z" fill="url(#gbl)"/><path d="M0 0L4.62 -1.78V-52.55L0 -50.77Z" fill="url(#gbf)"/><path d="M0 -50.77L4.62 -52.55L0.82 -55.01L-3.79 -53.24Z" fill="#34cb7c"/></g><g transform="translate(448.29,124.42)"><path d="M0 0L4.62 -1.78L0.82 -4.24L-3.79 -2.46Z" fill="#3e26a8"/></g><g transform="translate(410.99,124.06)"><path d="M-3.79 -2.46L0 0V-39.77L-3.79 -42.24Z" fill="url(#gbl)"/><path d="M0 0L4.62 -1.78V-41.55L0 -39.77Z" fill="url(#gbf)"/><path d="M0 -39.77L4.62 -41.55L0.82 -44.01L-3.79 -42.24Z" fill="#00b9c6"/></g><g transform="translate(421.5,124.92)"><path d="M-3.79 -2.46L0 0V-37.23L-3.79 -39.7Z" fill="url(#gbl)"/><path d="M0 0L4.62 -1.78V-39.01L0 -37.23Z" fill="url(#gbf)"/><path d="M0 -37.23L4.62 -39.01L0.82 -41.47L-3.79 -39.7Z" fill="#00b2d2"/></g><g transform="translate(432.01,125.78)"><path d="M-3.79 -2.46L0 0V-27.08L-3.79 -29.54Z" fill="url(#gbl)"/><path d="M0 0L4.62 -1.78V-28.85L0 -27.08Z" fill="url(#gbf)"/><path d="M0 -27.08L4.62 -28.85L0.82 -31.32L-3.79 -29.54Z" fill="#1488ee"/></g><g transform="translate(394.71,125.42)"><path d="M-3.79 -2.46L0 0V-58.39L-3.79 -60.85Z" fill="url(#gbl)"/><path d="M0 0L4.62 -1.78V-60.16L0 -58.39Z" fill="url(#gbf)"/><path d="M0 -58.39L4.62 -60.16L0.82 -62.63L-3.79 -60.85Z" fill="#8eca35"/></g><g transform="translate(442.52,126.64)"><path d="M-3.79 -2.46L0 0V-25.39L-3.79 -27.85Z" fill="url(#gbl)"/><path d="M0 0L4.62 -1.78V-27.16L0 -25.39Z" fill="url(#gbf)"/><path d="M0 -25.39L4.62 -27.16L0.82 -29.63L-3.79 -27.85Z" fill="#1881f3"/></g><g transform="translate(405.22,126.28)"><path d="M-3.79 -2.46L0 0V-44.85L-3.79 -47.31Z" fill="url(#gbl)"/><path d="M0 0L4.62 -1.78V-46.63L0 -44.85Z" fill="url(#gbf)"/><path d="M0 -44.85L4.62 -46.63L0.82 -49.09L-3.79 -47.31Z" fill="#10c2a8"/></g><g transform="translate(453.03,127.5)"><path d="M-3.79 -2.46L0 0V-25.39L-3.79 -27.85Z" fill="url(#gbl)"/><path d="M0 0L4.62 -1.78V-27.16L0 -25.39Z" fill="url(#gbf)"/><path d="M0 -25.39L4.62 -27.16L0.82 -29.63L-3.79 -27.85Z" fill="#1881f3"/></g><g transform="translate(415.73,127.14)"><path d="M-3.79 -2.46L0 0V-40.62L-3.79 -43.08Z" fill="url(#gbl)"/><path d="M0 0L4.62 -1.78V-42.39L0 -40.62Z" fill="url(#gbf)"/><path d="M0 -40.62L4.62 -42.39L0.82 -44.86L-3.79 -43.08Z" fill="#00bbc2"/></g><g transform="translate(426.24,128)"><path d="M-3.79 -2.46L0 0V-40.62L-3.79 -43.08Z" fill="url(#gbl)"/><path d="M0 0L4.62 -1.78V-42.39L0 -40.62Z" fill="url(#gbf)"/><path d="M0 -40.62L4.62 -42.39L0.82 -44.86L-3.79 -43.08Z" fill="#00bbc2"/></g><g transform="translate(388.94,127.64)"><path d="M-3.79 -2.46L0 0V-63.47L-3.79 -65.93Z" fill="url(#gbl)"/><path d="M0 0L4.62 -1.78V-65.24L0 -63.47Z" fill="url(#gbf)"/><path d="M0 -63.47L4.62 -65.24L0.82 -67.71L-3.79 -65.93Z" fill="#c8c011"/></g><g transform="translate(436.75,128.86)"><path d="M-3.79 -2.46L0 0V-27.93L-3.79 -30.39Z" fill="url(#gbl)"/><path d="M0 0L4.62 -1.78V-29.7L0 -27.93Z" fill="url(#gbf)"/><path d="M0 -27.93L4.62 -29.7L0.82 -32.17L-3.79 -30.39Z" fill="#108bec"/></g><g transform="translate(399.45,128.5)"><path d="M-3.79 -2.46L0 0V-50.77L-3.79 -53.24Z" fill="url(#gbl)"/><path d="M0 0L4.62 -1.78V-52.55L0 -50.77Z" fill="url(#gbf)"/><path d="M0 -50.77L4.62 -52.55L0.82 -55.01L-3.79 -53.24Z" fill="#34cb7c"/></g><g transform="translate(447.26,129.72)"><path d="M-3.79 -2.46L0 0V-25.39L-3.79 -27.85Z" fill="url(#gbl)"/><path d="M0 0L4.62 -1.78V-27.16L0 -25.39Z" fill="url(#gbf)"/><path d="M0 -25.39L4.62 -27.16L0.82 -29.63L-3.79 -27.85Z" fill="#1881f3"/></g><g transform="translate(409.96,129.36)"><path d="M-3.79 -2.46L0 0V-50.77L-3.79 -53.24Z" fill="url(#gbl)"/><path d="M0 0L4.62 -1.78V-52.55L0 -50.77Z" fill="url(#gbf)"/><path d="M0 -50.77L4.62 -52.55L0.82 -55.01L-3.79 -53.24Z" fill="#34cb7c"/></g><g transform="translate(457.77,130.58)"><path d="M-3.79 -2.46L0 0V-24.54L-3.79 -27Z" fill="url(#gbl)"/><path d="M0 0L4.62 -1.78V-26.32L0 -24.54Z" fill="url(#gbf)"/><path d="M0 -24.54L4.62 -26.32L0.82 -28.78L-3.79 -27Z" fill="#197df6"/></g><g transform="translate(420.47,130.22)"><path d="M-3.79 -2.46L0 0V-49.08L-3.79 -51.54Z" fill="url(#gbl)"/><path d="M0 0L4.62 -1.78V-50.86L0 -49.08Z" fill="url(#gbf)"/><path d="M0 -49.08L4.62 -50.86L0.82 -53.32L-3.79 -51.54Z" fill="#26c98a"/></g><g transform="translate(383.17,129.86)"><path d="M-3.79 -2.46L0 0V-67.7L-3.79 -70.16Z" fill="url(#gbl)"/><path d="M0 0L4.62 -1.78V-69.47L0 -67.7Z" fill="url(#gbf)"/><path d="M0 -67.7L4.62 -69.47L0.82 -71.94L-3.79 -70.16Z" fill="#eab314"/></g><g transform="translate(430.98,131.08)"><path d="M-3.79 -2.46L0 0V-39.77L-3.79 -42.24Z" fill="url(#gbl)"/><path d="M0 0L4.62 -1.78V-41.55L0 -39.77Z" fill="url(#gbf)"/><path d="M0 -39.77L4.62 -41.55L0.82 -44.01L-3.79 -42.24Z" fill="#00b9c6"/></g><g transform="translate(393.68,130.72)"><path d="M-3.79 -2.46L0 0V-59.24L-3.79 -61.7Z" fill="url(#gbl)"/><path d="M0 0L4.62 -1.78V-61.01L0 -59.24Z" fill="url(#gbf)"/><path d="M0 -59.24L4.62 -61.01L0.82 -63.48L-3.79 -61.7Z" fill="#99c92d"/></g><g transform="translate(441.49,131.94)"><path d="M-3.79 -2.46L0 0V-27.93L-3.79 -30.39Z" fill="url(#gbl)"/><path d="M0 0L4.62 -1.78V-29.7L0 -27.93Z" fill="url(#gbf)"/><path d="M0 -27.93L4.62 -29.7L0.82 -32.17L-3.79 -30.39Z" fill="#108bec"/></g><g transform="translate(404.19,131.58)"><path d="M-3.79 -2.46L0 0V-59.24L-3.79 -61.7Z" fill="url(#gbl)"/><path d="M0 0L4.62 -1.78V-61.01L0 -59.24Z" fill="url(#gbf)"/><path d="M0 -59.24L4.62 -61.01L0.82 -63.48L-3.79 -61.7Z" fill="#99c92d"/></g><g transform="translate(452,132.8)"><path d="M-3.79 -2.46L0 0V-24.54L-3.79 -27Z" fill="url(#gbl)"/><path d="M0 0L4.62 -1.78V-26.32L0 -24.54Z" fill="url(#gbf)"/><path d="M0 -24.54L4.62 -26.32L0.82 -28.78L-3.79 -27Z" fill="#197df6"/></g><g transform="translate(414.7,132.44)"><path d="M-3.79 -2.46L0 0V-59.24L-3.79 -61.7Z" fill="url(#gbl)"/><path d="M0 0L4.62 -1.78V-61.01L0 -59.24Z" fill="url(#gbf)"/><path d="M0 -59.24L4.62 -61.01L0.82 -63.48L-3.79 -61.7Z" fill="#99c92d"/></g><g transform="translate(377.4,132.08)"><path d="M-3.79 -2.46L0 0V-70.24L-3.79 -72.7Z" fill="url(#gbl)"/><path d="M0 0L4.62 -1.78V-72.01L0 -70.24Z" fill="url(#gbf)"/><path d="M0 -70.24L4.62 -72.01L0.82 -74.48L-3.79 -72.7Z" fill="#fab122"/></g><g transform="translate(462.51,133.66)"><path d="M-3.79 -2.46L0 0V-21.16L-3.79 -23.62Z" fill="url(#gbl)"/><path d="M0 0L4.62 -1.78V-22.93L0 -21.16Z" fill="url(#gbf)"/><path d="M0 -21.16L4.62 -22.93L0.82 -25.4L-3.79 -23.62Z" fill="#226ffd"/></g><g transform="translate(425.21,133.3)"><path d="M-3.79 -2.46L0 0V-49.08L-3.79 -51.54Z" fill="url(#gbl)"/><path d="M0 0L4.62 -1.78V-50.86L0 -49.08Z" fill="url(#gbf)"/><path d="M0 -49.08L4.62 -50.86L0.82 -53.32L-3.79 -51.54Z" fill="#26c98a"/></g><g transform="translate(387.91,132.94)"><path d="M-3.79 -2.46L0 0V-64.31L-3.79 -66.78Z" fill="url(#gbl)"/><path d="M0 0L4.62 -1.78V-66.09L0 -64.31Z" fill="url(#gbf)"/><path d="M0 -64.31L4.62 -66.09L0.82 -68.55L-3.79 -66.78Z" fill="#d0bd0e"/></g><g transform="translate(435.72,134.16)"><path d="M-3.79 -2.46L0 0V-38.08L-3.79 -40.54Z" fill="url(#gbl)"/><path d="M0 0L4.62 -1.78V-39.86L0 -38.08Z" fill="url(#gbf)"/><path d="M0 -38.08L4.62 -39.86L0.82 -42.32L-3.79 -40.54Z" fill="#00b5ce"/></g><g transform="translate(398.42,133.8)"><path d="M-3.79 -2.46L0 0V-67.7L-3.79 -70.16Z" fill="url(#gbl)"/><path d="M0 0L4.62 -1.78V-69.47L0 -67.7Z" fill="url(#gbf)"/><path d="M0 -67.7L4.62 -69.47L0.82 -71.94L-3.79 -70.16Z" fill="#eab314"/></g><g transform="translate(446.23,135.02)"><path d="M-3.79 -2.46L0 0V-26.23L-3.79 -28.7Z" fill="url(#gbl)"/><path d="M0 0L4.62 -1.78V-28.01L0 -26.23Z" fill="url(#gbf)"/><path d="M0 -26.23L4.62 -28.01L0.82 -30.47L-3.79 -28.7Z" fill="#1684f0"/></g><g transform="translate(408.93,134.66)"><path d="M-3.79 -2.46L0 0V-71.08L-3.79 -73.55Z" fill="url(#gbl)"/><path d="M0 0L4.62 -1.78V-72.86L0 -71.08Z" fill="url(#gbf)"/><path d="M0 -71.08L4.62 -72.86L0.82 -75.32L-3.79 -73.55Z" fill="#feb320"/></g><g transform="translate(371.63,134.3)"><path d="M-3.79 -2.46L0 0V-70.24L-3.79 -72.7Z" fill="url(#gbl)"/><path d="M0 0L4.62 -1.78V-72.01L0 -70.24Z" fill="url(#gbf)"/><path d="M0 -70.24L4.62 -72.01L0.82 -74.48L-3.79 -72.7Z" fill="#fab122"/></g><g transform="translate(456.74,135.88)"><path d="M-3.79 -2.46L0 0V-22L-3.79 -24.47Z" fill="url(#gbl)"/><path d="M0 0L4.62 -1.78V-23.78L0 -22Z" fill="url(#gbf)"/><path d="M0 -22L4.62 -23.78L0.82 -26.24L-3.79 -24.47Z" fill="#1e73fb"/></g><g transform="translate(419.44,135.52)"><path d="M-3.79 -2.46L0 0V-62.62L-3.79 -65.08Z" fill="url(#gbl)"/><path d="M0 0L4.62 -1.78V-64.4L0 -62.62Z" fill="url(#gbf)"/><path d="M0 -62.62L4.62 -64.4L0.82 -66.86L-3.79 -65.08Z" fill="#c0c316"/></g><g transform="translate(382.14,135.16)"><path d="M-3.79 -2.46L0 0V-65.16L-3.79 -67.62Z" fill="url(#gbl)"/><path d="M0 0L4.62 -1.78V-66.93L0 -65.16Z" fill="url(#gbf)"/><path d="M0 -65.16L4.62 -66.93L0.82 -69.4L-3.79 -67.62Z" fill="#d7ba0d"/></g><g transform="translate(467.25,136.74)"><path d="M-3.79 -2.46L0 0V-15.23L-3.79 -17.7Z" fill="url(#gbl)"/><path d="M0 0L4.62 -1.78V-17.01L0 -15.23Z" fill="url(#gbf)"/><path d="M0 -15.23L4.62 -17.01L0.82 -19.47L-3.79 -17.7Z" fill="#3c57fb"/></g><g transform="translate(429.95,136.38)"><path d="M-3.79 -2.46L0 0V-49.08L-3.79 -51.54Z" fill="url(#gbl)"/><path d="M0 0L4.62 -1.78V-50.86L0 -49.08Z" fill="url(#gbf)"/><path d="M0 -49.08L4.62 -50.86L0.82 -53.32L-3.79 -51.54Z" fill="#26c98a"/></g><g transform="translate(392.65,136.02)"><path d="M-3.79 -2.46L0 0V-71.08L-3.79 -73.55Z" fill="url(#gbl)"/><path d="M0 0L4.62 -1.78V-72.86L0 -71.08Z" fill="url(#gbf)"/><path d="M0 -71.08L4.62 -72.86L0.82 -75.32L-3.79 -73.55Z" fill="#feb320"/></g><g transform="translate(440.46,137.24)"><path d="M-3.79 -2.46L0 0V-35.54L-3.79 -38.01Z" fill="url(#gbl)"/><path d="M0 0L4.62 -1.78V-37.32L0 -35.54Z" fill="url(#gbf)"/><path d="M0 -35.54L4.62 -37.32L0.82 -39.78L-3.79 -38.01Z" fill="#00abd9"/></g><g transform="translate(403.16,136.88)"><path d="M-3.79 -2.46L0 0V-74.47L-3.79 -76.93Z" fill="url(#gbl)"/><path d="M0 0L4.62 -1.78V-76.24L0 -74.47Z" fill="url(#gbf)"/><path d="M0 -74.47L4.62 -76.24L0.82 -78.71L-3.79 -76.93Z" fill="#fdc513"/></g><g transform="translate(365.86,136.52)"><path d="M-3.79 -2.46L0 0V-67.7L-3.79 -70.16Z" fill="url(#gbl)"/><path d="M0 0L4.62 -1.78V-69.47L0 -67.7Z" fill="url(#gbf)"/><path d="M0 -67.7L4.62 -69.47L0.82 -71.94L-3.79 -70.16Z" fill="#eab314"/></g><g transform="translate(450.97,138.1)"><path d="M-3.79 -2.46L0 0V-24.54L-3.79 -27Z" fill="url(#gbl)"/><path d="M0 0L4.62 -1.78V-26.32L0 -24.54Z" fill="url(#gbf)"/><path d="M0 -24.54L4.62 -26.32L0.82 -28.78L-3.79 -27Z" fill="#197df6"/></g><g transform="translate(413.67,137.74)"><path d="M-3.79 -2.46L0 0V-71.08L-3.79 -73.55Z" fill="url(#gbl)"/><path d="M0 0L4.62 -1.78V-72.86L0 -71.08Z" fill="url(#gbf)"/><path d="M0 -71.08L4.62 -72.86L0.82 -75.32L-3.79 -73.55Z" fill="#feb320"/></g><g transform="translate(376.37,137.38)"><path d="M-3.79 -2.46L0 0V-65.16L-3.79 -67.62Z" fill="url(#gbl)"/><path d="M0 0L4.62 -1.78V-66.93L0 -65.16Z" fill="url(#gbf)"/><path d="M0 -65.16L4.62 -66.93L0.82 -69.4L-3.79 -67.62Z" fill="#d7ba0d"/></g><g transform="translate(461.48,138.96)"><path d="M-3.79 -2.46L0 0V-16.08L-3.79 -18.54Z" fill="url(#gbl)"/><path d="M0 0L4.62 -1.78V-17.85L0 -16.08Z" fill="url(#gbf)"/><path d="M0 -16.08L4.62 -17.85L0.82 -20.32L-3.79 -18.54Z" fill="#3a5afd"/></g><g transform="translate(424.18,138.6)"><path d="M-3.79 -2.46L0 0V-62.62L-3.79 -65.08Z" fill="url(#gbl)"/><path d="M0 0L4.62 -1.78V-64.4L0 -62.62Z" fill="url(#gbf)"/><path d="M0 -62.62L4.62 -64.4L0.82 -66.86L-3.79 -65.08Z" fill="#c0c316"/></g><g transform="translate(386.88,138.24)"><path d="M-3.79 -2.46L0 0V-71.08L-3.79 -73.55Z" fill="url(#gbl)"/><path d="M0 0L4.62 -1.78V-72.86L0 -71.08Z" fill="url(#gbf)"/><path d="M0 -71.08L4.62 -72.86L0.82 -75.32L-3.79 -73.55Z" fill="#feb320"/></g><g transform="translate(471.99,139.82)"><path d="M-3.79 -2.46L0 0V-4.23L-3.79 -6.7Z" fill="url(#gbl)"/><path d="M0 0L4.62 -1.78V-6.01L0 -4.23Z" fill="url(#gbf)"/><path d="M0 -4.23L4.62 -6.01L0.82 -8.47L-3.79 -6.7Z" fill="#4433cc"/></g><g transform="translate(434.69,139.46)"><path d="M-3.79 -2.46L0 0V-42.31L-3.79 -44.77Z" fill="url(#gbl)"/><path d="M0 0L4.62 -1.78V-44.09L0 -42.31Z" fill="url(#gbf)"/><path d="M0 -42.31L4.62 -44.09L0.82 -46.55L-3.79 -44.77Z" fill="#00beb9"/></g><g transform="translate(397.39,139.1)"><path d="M-3.79 -2.46L0 0V-78.7L-3.79 -81.16Z" fill="url(#gbl)"/><path d="M0 0L4.62 -1.78V-80.47L0 -78.7Z" fill="url(#gbf)"/><path d="M0 -78.7L4.62 -80.47L0.82 -82.94L-3.79 -81.16Z" fill="#f6dd09"/></g><g transform="translate(360.09,138.74)"><path d="M-3.79 -2.46L0 0V-63.47L-3.79 -65.93Z" fill="url(#gbl)"/><path d="M0 0L4.62 -1.78V-65.24L0 -63.47Z" fill="url(#gbf)"/><path d="M0 -63.47L4.62 -65.24L0.82 -67.71L-3.79 -65.93Z" fill="#c8c011"/></g><g transform="translate(445.2,140.32)"><path d="M-3.79 -2.46L0 0V-27.93L-3.79 -30.39Z" fill="url(#gbl)"/><path d="M0 0L4.62 -1.78V-29.7L0 -27.93Z" fill="url(#gbf)"/><path d="M0 -27.93L4.62 -29.7L0.82 -32.17L-3.79 -30.39Z" fill="#108bec"/></g><g transform="translate(407.9,139.96)"><path d="M-3.79 -2.46L0 0V-74.47L-3.79 -76.93Z" fill="url(#gbl)"/><path d="M0 0L4.62 -1.78V-76.24L0 -74.47Z" fill="url(#gbf)"/><path d="M0 -74.47L4.62 -76.24L0.82 -78.71L-3.79 -76.93Z" fill="#fdc513"/></g><g transform="translate(370.6,139.6)"><path d="M-3.79 -2.46L0 0V-64.31L-3.79 -66.78Z" fill="url(#gbl)"/><path d="M0 0L4.62 -1.78V-66.09L0 -64.31Z" fill="url(#gbf)"/><path d="M0 -64.31L4.62 -66.09L0.82 -68.55L-3.79 -66.78Z" fill="#d0bd0e"/></g><g transform="translate(455.71,141.18)"><path d="M-3.79 -2.46L0 0V-18.62L-3.79 -21.08Z" fill="url(#gbl)"/><path d="M0 0L4.62 -1.78V-20.39L0 -18.62Z" fill="url(#gbf)"/><path d="M0 -18.62L4.62 -20.39L0.82 -22.86L-3.79 -21.08Z" fill="#3164ff"/></g><g transform="translate(418.41,140.82)"><path d="M-3.79 -2.46L0 0V-71.08L-3.79 -73.55Z" fill="url(#gbl)"/><path d="M0 0L4.62 -1.78V-72.86L0 -71.08Z" fill="url(#gbf)"/><path d="M0 -71.08L4.62 -72.86L0.82 -75.32L-3.79 -73.55Z" fill="#feb320"/></g><g transform="translate(381.11,140.46)"><path d="M-3.79 -2.46L0 0V-71.08L-3.79 -73.55Z" fill="url(#gbl)"/><path d="M0 0L4.62 -1.78V-72.86L0 -71.08Z" fill="url(#gbf)"/><path d="M0 -71.08L4.62 -72.86L0.82 -75.32L-3.79 -73.55Z" fill="#feb320"/></g><g transform="translate(466.22,142.04)"><path d="M-3.79 -2.46L0 0V-4.23L-3.79 -6.7Z" fill="url(#gbl)"/><path d="M0 0L4.62 -1.78V-6.01L0 -4.23Z" fill="url(#gbf)"/><path d="M0 -4.23L4.62 -6.01L0.82 -8.47L-3.79 -6.7Z" fill="#4433cc"/></g><g transform="translate(428.92,141.68)"><path d="M-3.79 -2.46L0 0V-50.77L-3.79 -53.24Z" fill="url(#gbl)"/><path d="M0 0L4.62 -1.78V-52.55L0 -50.77Z" fill="url(#gbf)"/><path d="M0 -50.77L4.62 -52.55L0.82 -55.01L-3.79 -53.24Z" fill="#34cb7c"/></g><g transform="translate(391.62,141.32)"><path d="M-3.79 -2.46L0 0V-80.39L-3.79 -82.85Z" fill="url(#gbl)"/><path d="M0 0L4.62 -1.78V-82.17L0 -80.39Z" fill="url(#gbf)"/><path d="M0 -80.39L4.62 -82.17L0.82 -84.63L-3.79 -82.85Z" fill="#f5e606"/></g><g transform="translate(354.32,140.96)"><path d="M-3.79 -2.46L0 0V-58.39L-3.79 -60.85Z" fill="url(#gbl)"/><path d="M0 0L4.62 -1.78V-60.16L0 -58.39Z" fill="url(#gbf)"/><path d="M0 -58.39L4.62 -60.16L0.82 -62.63L-3.79 -60.85Z" fill="#8eca35"/></g><g transform="translate(476.73,142.9)"><path d="M-3.79 -2.46L0 0V-4.23L-3.79 -6.7Z" fill="url(#gbl)"/><path d="M0 0L4.62 -1.78V-6.01L0 -4.23Z" fill="url(#gbf)"/><path d="M0 -4.23L4.62 -6.01L0.82 -8.47L-3.79 -6.7Z" fill="#4433cc"/></g><g transform="translate(439.43,142.54)"><path d="M-3.79 -2.46L0 0V-33.85L-3.79 -36.31Z" fill="url(#gbl)"/><path d="M0 0L4.62 -1.78V-35.62L0 -33.85Z" fill="url(#gbf)"/><path d="M0 -33.85L4.62 -35.62L0.82 -38.09L-3.79 -36.31Z" fill="#00a3df"/></g><g transform="translate(402.13,142.18)"><path d="M-3.79 -2.46L0 0V-80.39L-3.79 -82.85Z" fill="url(#gbl)"/><path d="M0 0L4.62 -1.78V-82.17L0 -80.39Z" fill="url(#gbf)"/><path d="M0 -80.39L4.62 -82.17L0.82 -84.63L-3.79 -82.85Z" fill="#f5e606"/></g><g transform="translate(364.83,141.82)"><path d="M-3.79 -2.46L0 0V-59.24L-3.79 -61.7Z" fill="url(#gbl)"/><path d="M0 0L4.62 -1.78V-61.01L0 -59.24Z" fill="url(#gbf)"/><path d="M0 -59.24L4.62 -61.01L0.82 -63.48L-3.79 -61.7Z" fill="#99c92d"/></g><g transform="translate(449.94,143.4)"><path d="M-3.79 -2.46L0 0V-22L-3.79 -24.47Z" fill="url(#gbl)"/><path d="M0 0L4.62 -1.78V-23.78L0 -22Z" fill="url(#gbf)"/><path d="M0 -22L4.62 -23.78L0.82 -26.24L-3.79 -24.47Z" fill="#1e73fb"/></g><g transform="translate(412.64,143.04)"><path d="M-3.79 -2.46L0 0V-74.47L-3.79 -76.93Z" fill="url(#gbl)"/><path d="M0 0L4.62 -1.78V-76.24L0 -74.47Z" fill="url(#gbf)"/><path d="M0 -74.47L4.62 -76.24L0.82 -78.71L-3.79 -76.93Z" fill="#fdc513"/></g><g transform="translate(375.34,142.68)"><path d="M-3.79 -2.46L0 0V-71.08L-3.79 -73.55Z" fill="url(#gbl)"/><path d="M0 0L4.62 -1.78V-72.86L0 -71.08Z" fill="url(#gbf)"/><path d="M0 -71.08L4.62 -72.86L0.82 -75.32L-3.79 -73.55Z" fill="#feb320"/></g><g transform="translate(460.45,144.26)"><path d="M-3.79 -2.46L0 0V-5.92L-3.79 -8.39Z" fill="url(#gbl)"/><path d="M0 0L4.62 -1.78V-7.7L0 -5.92Z" fill="url(#gbf)"/><path d="M0 -5.92L4.62 -7.7L0.82 -10.16L-3.79 -8.39Z" fill="#4437d9"/></g><g transform="translate(423.15,143.9)"><path d="M-3.79 -2.46L0 0V-60.08L-3.79 -62.55Z" fill="url(#gbl)"/><path d="M0 0L4.62 -1.78V-61.86L0 -60.08Z" fill="url(#gbf)"/><path d="M0 -60.08L4.62 -61.86L0.82 -64.32L-3.79 -62.55Z" fill="#a3c726"/></g><g transform="translate(385.85,143.54)"><path d="M-3.79 -2.46L0 0V-80.39L-3.79 -82.85Z" fill="url(#gbl)"/><path d="M0 0L4.62 -1.78V-82.17L0 -80.39Z" fill="url(#gbf)"/><path d="M0 -80.39L4.62 -82.17L0.82 -84.63L-3.79 -82.85Z" fill="#f5e606"/></g><g transform="translate(348.55,143.18)"><path d="M-3.79 -2.46L0 0V-50.77L-3.79 -53.24Z" fill="url(#gbl)"/><path d="M0 0L4.62 -1.78V-52.55L0 -50.77Z" fill="url(#gbf)"/><path d="M0 -50.77L4.62 -52.55L0.82 -55.01L-3.79 -53.24Z" fill="#34cb7c"/></g><g transform="translate(470.96,145.12)"><path d="M-3.79 -2.46L0 0V-4.23L-3.79 -6.7Z" fill="url(#gbl)"/><path d="M0 0L4.62 -1.78V-6.01L0 -4.23Z" fill="url(#gbf)"/><path d="M0 -4.23L4.62 -6.01L0.82 -8.47L-3.79 -6.7Z" fill="#4433cc"/></g><g transform="translate(433.66,144.76)"><path d="M-3.79 -2.46L0 0V-42.31L-3.79 -44.77Z" fill="url(#gbl)"/><path d="M0 0L4.62 -1.78V-44.09L0 -42.31Z" fill="url(#gbf)"/><path d="M0 -42.31L4.62 -44.09L0.82 -46.55L-3.79 -44.77Z" fill="#00beb9"/></g><g transform="translate(396.36,144.4)"><path d="M-3.79 -2.46L0 0V-82.08L-3.79 -84.55Z" fill="url(#gbl)"/><path d="M0 0L4.62 -1.78V-83.86L0 -82.08Z" fill="url(#gbf)"/><path d="M0 -82.08L4.62 -83.86L0.82 -86.32L-3.79 -84.55Z" fill="#f6ef00"/></g><g transform="translate(359.06,144.04)"><path d="M-3.79 -2.46L0 0V-50.77L-3.79 -53.24Z" fill="url(#gbl)"/><path d="M0 0L4.62 -1.78V-52.55L0 -50.77Z" fill="url(#gbf)"/><path d="M0 -50.77L4.62 -52.55L0.82 -55.01L-3.79 -53.24Z" fill="#34cb7c"/></g><g transform="translate(481.47,145.98)"><path d="M-3.79 -2.46L0 0V-15.23L-3.79 -17.7Z" fill="url(#gbl)"/><path d="M0 0L4.62 -1.78V-17.01L0 -15.23Z" fill="url(#gbf)"/><path d="M0 -15.23L4.62 -17.01L0.82 -19.47L-3.79 -17.7Z" fill="#3c57fb"/></g><g transform="translate(444.17,145.62)"><path d="M-3.79 -2.46L0 0V-25.39L-3.79 -27.85Z" fill="url(#gbl)"/><path d="M0 0L4.62 -1.78V-27.16L0 -25.39Z" fill="url(#gbf)"/><path d="M0 -25.39L4.62 -27.16L0.82 -29.63L-3.79 -27.85Z" fill="#1881f3"/></g><g transform="translate(406.87,145.26)"><path d="M-3.79 -2.46L0 0V-80.39L-3.79 -82.85Z" fill="url(#gbl)"/><path d="M0 0L4.62 -1.78V-82.17L0 -80.39Z" fill="url(#gbf)"/><path d="M0 -80.39L4.62 -82.17L0.82 -84.63L-3.79 -82.85Z" fill="#f5e606"/></g><g transform="translate(369.57,144.9)"><path d="M-3.79 -2.46L0 0V-67.7L-3.79 -70.16Z" fill="url(#gbl)"/><path d="M0 0L4.62 -1.78V-69.47L0 -67.7Z" fill="url(#gbf)"/><path d="M0 -67.7L4.62 -69.47L0.82 -71.94L-3.79 -70.16Z" fill="#eab314"/></g><g transform="translate(454.68,146.48)"><path d="M-3.79 -2.46L0 0V-7.62L-3.79 -10.08Z" fill="url(#gbl)"/><path d="M0 0L4.62 -1.78V-9.39L0 -7.62Z" fill="url(#gbf)"/><path d="M0 -7.62L4.62 -9.39L0.82 -11.86L-3.79 -10.08Z" fill="#443de3"/></g><g transform="translate(417.38,146.12)"><path d="M-3.79 -2.46L0 0V-63.47L-3.79 -65.93Z" fill="url(#gbl)"/><path d="M0 0L4.62 -1.78V-65.24L0 -63.47Z" fill="url(#gbf)"/><path d="M0 -63.47L4.62 -65.24L0.82 -67.71L-3.79 -65.93Z" fill="#c8c011"/></g><g transform="translate(380.08,145.76)"><path d="M-3.79 -2.46L0 0V-78.7L-3.79 -81.16Z" fill="url(#gbl)"/><path d="M0 0L4.62 -1.78V-80.47L0 -78.7Z" fill="url(#gbf)"/><path d="M0 -78.7L4.62 -80.47L0.82 -82.94L-3.79 -81.16Z" fill="#f6dd09"/></g><g transform="translate(342.78,145.4)"><path d="M0 0L4.62 -1.78L0.82 -4.24L-3.79 -2.46Z" fill="#3e26a8"/></g><g transform="translate(465.19,147.34)"><path d="M-3.79 -2.46L0 0V-5.92L-3.79 -8.39Z" fill="url(#gbl)"/><path d="M0 0L4.62 -1.78V-7.7L0 -5.92Z" fill="url(#gbf)"/><path d="M0 -5.92L4.62 -7.7L0.82 -10.16L-3.79 -8.39Z" fill="#4437d9"/></g><g transform="translate(427.89,146.98)"><path d="M-3.79 -2.46L0 0V-45.7L-3.79 -48.16Z" fill="url(#gbl)"/><path d="M0 0L4.62 -1.78V-47.47L0 -45.7Z" fill="url(#gbf)"/><path d="M0 -45.7L4.62 -47.47L0.82 -49.94L-3.79 -48.16Z" fill="#15c4a3"/></g><g transform="translate(390.59,146.62)"><path d="M-3.79 -2.46L0 0V-82.08L-3.79 -84.55Z" fill="url(#gbl)"/><path d="M0 0L4.62 -1.78V-83.86L0 -82.08Z" fill="url(#gbf)"/><path d="M0 -82.08L4.62 -83.86L0.82 -86.32L-3.79 -84.55Z" fill="#f6ef00"/></g><g transform="translate(353.29,146.26)"><path d="M-3.79 -2.46L0 0V-44.85L-3.79 -47.31Z" fill="url(#gbl)"/><path d="M0 0L4.62 -1.78V-46.63L0 -44.85Z" fill="url(#gbf)"/><path d="M0 -44.85L4.62 -46.63L0.82 -49.09L-3.79 -47.31Z" fill="#10c2a8"/></g><g transform="translate(475.7,148.2)"><path d="M-3.79 -2.46L0 0V-16.08L-3.79 -18.54Z" fill="url(#gbl)"/><path d="M0 0L4.62 -1.78V-17.85L0 -16.08Z" fill="url(#gbf)"/><path d="M0 -16.08L4.62 -17.85L0.82 -20.32L-3.79 -18.54Z" fill="#3a5afd"/></g><g transform="translate(438.4,147.84)"><path d="M-3.79 -2.46L0 0V-27.93L-3.79 -30.39Z" fill="url(#gbl)"/><path d="M0 0L4.62 -1.78V-29.7L0 -27.93Z" fill="url(#gbf)"/><path d="M0 -27.93L4.62 -29.7L0.82 -32.17L-3.79 -30.39Z" fill="#108bec"/></g><g transform="translate(401.1,147.48)"><path d="M-3.79 -2.46L0 0V-82.08L-3.79 -84.55Z" fill="url(#gbl)"/><path d="M0 0L4.62 -1.78V-83.86L0 -82.08Z" fill="url(#gbf)"/><path d="M0 -82.08L4.62 -83.86L0.82 -86.32L-3.79 -84.55Z" fill="#f6ef00"/></g><g transform="translate(363.8,147.12)"><path d="M-3.79 -2.46L0 0V-59.24L-3.79 -61.7Z" fill="url(#gbl)"/><path d="M0 0L4.62 -1.78V-61.01L0 -59.24Z" fill="url(#gbf)"/><path d="M0 -59.24L4.62 -61.01L0.82 -63.48L-3.79 -61.7Z" fill="#99c92d"/></g><g transform="translate(486.21,149.06)"><path d="M-3.79 -2.46L0 0V-21.16L-3.79 -23.62Z" fill="url(#gbl)"/><path d="M0 0L4.62 -1.78V-22.93L0 -21.16Z" fill="url(#gbf)"/><path d="M0 -21.16L4.62 -22.93L0.82 -25.4L-3.79 -23.62Z" fill="#226ffd"/></g><g transform="translate(448.91,148.7)"><path d="M-3.79 -2.46L0 0V-8.46L-3.79 -10.93Z" fill="url(#gbl)"/><path d="M0 0L4.62 -1.78V-10.24L0 -8.46Z" fill="url(#gbf)"/><path d="M0 -8.46L4.62 -10.24L0.82 -12.7L-3.79 -10.93Z" fill="#443fe7"/></g><g transform="translate(411.61,148.34)"><path d="M-3.79 -2.46L0 0V-69.39L-3.79 -71.85Z" fill="url(#gbl)"/><path d="M0 0L4.62 -1.78V-71.17L0 -69.39Z" fill="url(#gbf)"/><path d="M0 -69.39L4.62 -71.17L0.82 -73.63L-3.79 -71.85Z" fill="#f5b11f"/></g><g transform="translate(374.31,147.98)"><path d="M-3.79 -2.46L0 0V-74.47L-3.79 -76.93Z" fill="url(#gbl)"/><path d="M0 0L4.62 -1.78V-76.24L0 -74.47Z" fill="url(#gbf)"/><path d="M0 -74.47L4.62 -76.24L0.82 -78.71L-3.79 -76.93Z" fill="#fdc513"/></g><g transform="translate(337.01,147.62)"><path d="M0 0L4.62 -1.78L0.82 -4.24L-3.79 -2.46Z" fill="#3e26a8"/></g><g transform="translate(459.42,149.56)"><path d="M-3.79 -2.46L0 0V-7.62L-3.79 -10.08Z" fill="url(#gbl)"/><path d="M0 0L4.62 -1.78V-9.39L0 -7.62Z" fill="url(#gbf)"/><path d="M0 -7.62L4.62 -9.39L0.82 -11.86L-3.79 -10.08Z" fill="#443de3"/></g><g transform="translate(422.12,149.2)"><path d="M-3.79 -2.46L0 0V-49.08L-3.79 -51.54Z" fill="url(#gbl)"/><path d="M0 0L4.62 -1.78V-50.86L0 -49.08Z" fill="url(#gbf)"/><path d="M0 -49.08L4.62 -50.86L0.82 -53.32L-3.79 -51.54Z" fill="#26c98a"/></g><g transform="translate(384.82,148.84)"><path d="M-3.79 -2.46L0 0V-80.39L-3.79 -82.85Z" fill="url(#gbl)"/><path d="M0 0L4.62 -1.78V-82.17L0 -80.39Z" fill="url(#gbf)"/><path d="M0 -80.39L4.62 -82.17L0.82 -84.63L-3.79 -82.85Z" fill="#f5e606"/></g><g transform="translate(347.52,148.48)"><path d="M-3.79 -2.46L0 0V-39.77L-3.79 -42.24Z" fill="url(#gbl)"/><path d="M0 0L4.62 -1.78V-41.55L0 -39.77Z" fill="url(#gbf)"/><path d="M0 -39.77L4.62 -41.55L0.82 -44.01L-3.79 -42.24Z" fill="#00b9c6"/></g><g transform="translate(469.93,150.42)"><path d="M-3.79 -2.46L0 0V-18.62L-3.79 -21.08Z" fill="url(#gbl)"/><path d="M0 0L4.62 -1.78V-20.39L0 -18.62Z" fill="url(#gbf)"/><path d="M0 -18.62L4.62 -20.39L0.82 -22.86L-3.79 -21.08Z" fill="#3164ff"/></g><g transform="translate(432.63,150.06)"><path d="M-3.79 -2.46L0 0V-30.46L-3.79 -32.93Z" fill="url(#gbl)"/><path d="M0 0L4.62 -1.78V-32.24L0 -30.46Z" fill="url(#gbf)"/><path d="M0 -30.46L4.62 -32.24L0.82 -34.7L-3.79 -32.93Z" fill="#0a95e6"/></g><g transform="translate(395.33,149.7)"><path d="M-3.79 -2.46L0 0V-82.08L-3.79 -84.55Z" fill="url(#gbl)"/><path d="M0 0L4.62 -1.78V-83.86L0 -82.08Z" fill="url(#gbf)"/><path d="M0 -82.08L4.62 -83.86L0.82 -86.32L-3.79 -84.55Z" fill="#f6ef00"/></g><g transform="translate(358.03,149.34)"><path d="M-3.79 -2.46L0 0V-50.77L-3.79 -53.24Z" fill="url(#gbl)"/><path d="M0 0L4.62 -1.78V-52.55L0 -50.77Z" fill="url(#gbf)"/><path d="M0 -50.77L4.62 -52.55L0.82 -55.01L-3.79 -53.24Z" fill="#34cb7c"/></g><g transform="translate(480.44,151.28)"><path d="M-3.79 -2.46L0 0V-22L-3.79 -24.47Z" fill="url(#gbl)"/><path d="M0 0L4.62 -1.78V-23.78L0 -22Z" fill="url(#gbf)"/><path d="M0 -22L4.62 -23.78L0.82 -26.24L-3.79 -24.47Z" fill="#1e73fb"/></g><g transform="translate(443.14,150.92)"><path d="M-3.79 -2.46L0 0V-9.31L-3.79 -11.77Z" fill="url(#gbl)"/><path d="M0 0L4.62 -1.78V-11.08L0 -9.31Z" fill="url(#gbf)"/><path d="M0 -9.31L4.62 -11.08L0.82 -13.55L-3.79 -11.77Z" fill="#4342eb"/></g><g transform="translate(405.84,150.56)"><path d="M-3.79 -2.46L0 0V-70.24L-3.79 -72.7Z" fill="url(#gbl)"/><path d="M0 0L4.62 -1.78V-72.01L0 -70.24Z" fill="url(#gbf)"/><path d="M0 -70.24L4.62 -72.01L0.82 -74.48L-3.79 -72.7Z" fill="#fab122"/></g><g transform="translate(368.54,150.2)"><path d="M-3.79 -2.46L0 0V-71.08L-3.79 -73.55Z" fill="url(#gbl)"/><path d="M0 0L4.62 -1.78V-72.86L0 -71.08Z" fill="url(#gbf)"/><path d="M0 -71.08L4.62 -72.86L0.82 -75.32L-3.79 -73.55Z" fill="#feb320"/></g><g transform="translate(490.95,152.14)"><path d="M-3.79 -2.46L0 0V-24.54L-3.79 -27Z" fill="url(#gbl)"/><path d="M0 0L4.62 -1.78V-26.32L0 -24.54Z" fill="url(#gbf)"/><path d="M0 -24.54L4.62 -26.32L0.82 -28.78L-3.79 -27Z" fill="#197df6"/></g><g transform="translate(331.24,149.84)"><path d="M0 0L4.62 -1.78L0.82 -4.24L-3.79 -2.46Z" fill="#3e26a8"/></g><g transform="translate(453.65,151.78)"><path d="M-3.79 -2.46L0 0V-8.46L-3.79 -10.93Z" fill="url(#gbl)"/><path d="M0 0L4.62 -1.78V-10.24L0 -8.46Z" fill="url(#gbf)"/><path d="M0 -8.46L4.62 -10.24L0.82 -12.7L-3.79 -10.93Z" fill="#443fe7"/></g><g transform="translate(416.35,151.42)"><path d="M-3.79 -2.46L0 0V-52.47L-3.79 -54.93Z" fill="url(#gbl)"/><path d="M0 0L4.62 -1.78V-54.24L0 -52.47Z" fill="url(#gbf)"/><path d="M0 -52.47L4.62 -54.24L0.82 -56.71L-3.79 -54.93Z" fill="#46cc6d"/></g><g transform="translate(379.05,151.06)"><path d="M-3.79 -2.46L0 0V-74.47L-3.79 -76.93Z" fill="url(#gbl)"/><path d="M0 0L4.62 -1.78V-76.24L0 -74.47Z" fill="url(#gbf)"/><path d="M0 -74.47L4.62 -76.24L0.82 -78.71L-3.79 -76.93Z" fill="#fdc513"/></g><g transform="translate(341.75,150.7)"><path d="M0 0L4.62 -1.78L0.82 -4.24L-3.79 -2.46Z" fill="#3e26a8"/></g><g transform="translate(464.16,152.64)"><path d="M-3.79 -2.46L0 0V-22L-3.79 -24.47Z" fill="url(#gbl)"/><path d="M0 0L4.62 -1.78V-23.78L0 -22Z" fill="url(#gbf)"/><path d="M0 -22L4.62 -23.78L0.82 -26.24L-3.79 -24.47Z" fill="#1e73fb"/></g><g transform="translate(426.86,152.28)"><path d="M-3.79 -2.46L0 0V-33.85L-3.79 -36.31Z" fill="url(#gbl)"/><path d="M0 0L4.62 -1.78V-35.62L0 -33.85Z" fill="url(#gbf)"/><path d="M0 -33.85L4.62 -35.62L0.82 -38.09L-3.79 -36.31Z" fill="#00a3df"/></g><g transform="translate(389.56,151.92)"><path d="M-3.79 -2.46L0 0V-80.39L-3.79 -82.85Z" fill="url(#gbl)"/><path d="M0 0L4.62 -1.78V-82.17L0 -80.39Z" fill="url(#gbf)"/><path d="M0 -80.39L4.62 -82.17L0.82 -84.63L-3.79 -82.85Z" fill="#f5e606"/></g><g transform="translate(352.26,151.56)"><path d="M-3.79 -2.46L0 0V-40.62L-3.79 -43.08Z" fill="url(#gbl)"/><path d="M0 0L4.62 -1.78V-42.39L0 -40.62Z" fill="url(#gbf)"/><path d="M0 -40.62L4.62 -42.39L0.82 -44.86L-3.79 -43.08Z" fill="#00bbc2"/></g><g transform="translate(474.67,153.5)"><path d="M-3.79 -2.46L0 0V-24.54L-3.79 -27Z" fill="url(#gbl)"/><path d="M0 0L4.62 -1.78V-26.32L0 -24.54Z" fill="url(#gbf)"/><path d="M0 -24.54L4.62 -26.32L0.82 -28.78L-3.79 -27Z" fill="#197df6"/></g><g transform="translate(437.37,153.14)"><path d="M-3.79 -2.46L0 0V-10.15L-3.79 -12.62Z" fill="url(#gbl)"/><path d="M0 0L4.62 -1.78V-11.93L0 -10.15Z" fill="url(#gbf)"/><path d="M0 -10.15L4.62 -11.93L0.82 -14.39L-3.79 -12.62Z" fill="#4345ee"/></g><g transform="translate(400.07,152.78)"><path d="M-3.79 -2.46L0 0V-70.24L-3.79 -72.7Z" fill="url(#gbl)"/><path d="M0 0L4.62 -1.78V-72.01L0 -70.24Z" fill="url(#gbf)"/><path d="M0 -70.24L4.62 -72.01L0.82 -74.48L-3.79 -72.7Z" fill="#fab122"/></g><g transform="translate(362.77,152.42)"><path d="M-3.79 -2.46L0 0V-59.24L-3.79 -61.7Z" fill="url(#gbl)"/><path d="M0 0L4.62 -1.78V-61.01L0 -59.24Z" fill="url(#gbf)"/><path d="M0 -59.24L4.62 -61.01L0.82 -63.48L-3.79 -61.7Z" fill="#99c92d"/></g><g transform="translate(485.18,154.36)"><path d="M-3.79 -2.46L0 0V-24.54L-3.79 -27Z" fill="url(#gbl)"/><path d="M0 0L4.62 -1.78V-26.32L0 -24.54Z" fill="url(#gbf)"/><path d="M0 -24.54L4.62 -26.32L0.82 -28.78L-3.79 -27Z" fill="#197df6"/></g><g transform="translate(325.47,152.06)"><path d="M0 0L4.62 -1.78L0.82 -4.24L-3.79 -2.46Z" fill="#3e26a8"/></g><g transform="translate(447.88,154)"><path d="M-3.79 -2.46L0 0V-9.31L-3.79 -11.77Z" fill="url(#gbl)"/><path d="M0 0L4.62 -1.78V-11.08L0 -9.31Z" fill="url(#gbf)"/><path d="M0 -9.31L4.62 -11.08L0.82 -13.55L-3.79 -11.77Z" fill="#4342eb"/></g><g transform="translate(410.58,153.64)"><path d="M-3.79 -2.46L0 0V-54.16L-3.79 -56.62Z" fill="url(#gbl)"/><path d="M0 0L4.62 -1.78V-55.93L0 -54.16Z" fill="url(#gbf)"/><path d="M0 -54.16L4.62 -55.93L0.82 -58.4L-3.79 -56.62Z" fill="#59cd5d"/></g><g transform="translate(373.28,153.28)"><path d="M-3.79 -2.46L0 0V-71.08L-3.79 -73.55Z" fill="url(#gbl)"/><path d="M0 0L4.62 -1.78V-72.86L0 -71.08Z" fill="url(#gbf)"/><path d="M0 -71.08L4.62 -72.86L0.82 -75.32L-3.79 -73.55Z" fill="#feb320"/></g><g transform="translate(495.69,155.22)"><path d="M-3.79 -2.46L0 0V-25.39L-3.79 -27.85Z" fill="url(#gbl)"/><path d="M0 0L4.62 -1.78V-27.16L0 -25.39Z" fill="url(#gbf)"/><path d="M0 -25.39L4.62 -27.16L0.82 -29.63L-3.79 -27.85Z" fill="#1881f3"/></g><g transform="translate(335.98,152.92)"><path d="M0 0L4.62 -1.78L0.82 -4.24L-3.79 -2.46Z" fill="#3e26a8"/></g><g transform="translate(458.39,154.86)"><path d="M-3.79 -2.46L0 0V-25.39L-3.79 -27.85Z" fill="url(#gbl)"/><path d="M0 0L4.62 -1.78V-27.16L0 -25.39Z" fill="url(#gbf)"/><path d="M0 -25.39L4.62 -27.16L0.82 -29.63L-3.79 -27.85Z" fill="#1881f3"/></g><g transform="translate(421.09,154.5)"><path d="M-3.79 -2.46L0 0V-36.39L-3.79 -38.85Z" fill="url(#gbl)"/><path d="M0 0L4.62 -1.78V-38.16L0 -36.39Z" fill="url(#gbf)"/><path d="M0 -36.39L4.62 -38.16L0.82 -40.63L-3.79 -38.85Z" fill="#00aed6"/></g><g transform="translate(383.79,154.14)"><path d="M-3.79 -2.46L0 0V-74.47L-3.79 -76.93Z" fill="url(#gbl)"/><path d="M0 0L4.62 -1.78V-76.24L0 -74.47Z" fill="url(#gbf)"/><path d="M0 -74.47L4.62 -76.24L0.82 -78.71L-3.79 -76.93Z" fill="#fdc513"/></g><g transform="translate(346.49,153.78)"><path d="M-3.79 -2.46L0 0V-37.23L-3.79 -39.7Z" fill="url(#gbl)"/><path d="M0 0L4.62 -1.78V-39.01L0 -37.23Z" fill="url(#gbf)"/><path d="M0 -37.23L4.62 -39.01L0.82 -41.47L-3.79 -39.7Z" fill="#00b2d2"/></g><g transform="translate(468.9,155.72)"><path d="M-3.79 -2.46L0 0V-27.93L-3.79 -30.39Z" fill="url(#gbl)"/><path d="M0 0L4.62 -1.78V-29.7L0 -27.93Z" fill="url(#gbf)"/><path d="M0 -27.93L4.62 -29.7L0.82 -32.17L-3.79 -30.39Z" fill="#108bec"/></g><g transform="translate(431.6,155.36)"><path d="M-3.79 -2.46L0 0V-11L-3.79 -13.46Z" fill="url(#gbl)"/><path d="M0 0L4.62 -1.78V-12.78L0 -11Z" fill="url(#gbf)"/><path d="M0 -11L4.62 -12.78L0.82 -15.24L-3.79 -13.46Z" fill="#4248f1"/></g><g transform="translate(394.3,155)"><path d="M-3.79 -2.46L0 0V-69.39L-3.79 -71.85Z" fill="url(#gbl)"/><path d="M0 0L4.62 -1.78V-71.17L0 -69.39Z" fill="url(#gbf)"/><path d="M0 -69.39L4.62 -71.17L0.82 -73.63L-3.79 -71.85Z" fill="#f5b11f"/></g><g transform="translate(357,154.64)"><path d="M-3.79 -2.46L0 0V-49.08L-3.79 -51.54Z" fill="url(#gbl)"/><path d="M0 0L4.62 -1.78V-50.86L0 -49.08Z" fill="url(#gbf)"/><path d="M0 -49.08L4.62 -50.86L0.82 -53.32L-3.79 -51.54Z" fill="#26c98a"/></g><g transform="translate(479.41,156.58)"><path d="M-3.79 -2.46L0 0V-26.23L-3.79 -28.7Z" fill="url(#gbl)"/><path d="M0 0L4.62 -1.78V-28.01L0 -26.23Z" fill="url(#gbf)"/><path d="M0 -26.23L4.62 -28.01L0.82 -30.47L-3.79 -28.7Z" fill="#1684f0"/></g><g transform="translate(319.7,154.28)"><path d="M0 0L4.62 -1.78L0.82 -4.24L-3.79 -2.46Z" fill="#3e26a8"/></g><g transform="translate(442.11,156.22)"><path d="M-3.79 -2.46L0 0V-10.15L-3.79 -12.62Z" fill="url(#gbl)"/><path d="M0 0L4.62 -1.78V-11.93L0 -10.15Z" fill="url(#gbf)"/><path d="M0 -10.15L4.62 -11.93L0.82 -14.39L-3.79 -12.62Z" fill="#4345ee"/></g><g transform="translate(404.81,155.86)"><path d="M-3.79 -2.46L0 0V-54.16L-3.79 -56.62Z" fill="url(#gbl)"/><path d="M0 0L4.62 -1.78V-55.93L0 -54.16Z" fill="url(#gbf)"/><path d="M0 -54.16L4.62 -55.93L0.82 -58.4L-3.79 -56.62Z" fill="#59cd5d"/></g><g transform="translate(367.51,155.5)"><path d="M-3.79 -2.46L0 0V-62.62L-3.79 -65.08Z" fill="url(#gbl)"/><path d="M0 0L4.62 -1.78V-64.4L0 -62.62Z" fill="url(#gbf)"/><path d="M0 -62.62L4.62 -64.4L0.82 -66.86L-3.79 -65.08Z" fill="#c0c316"/></g><g transform="translate(489.92,157.44)"><path d="M-3.79 -2.46L0 0V-25.39L-3.79 -27.85Z" fill="url(#gbl)"/><path d="M0 0L4.62 -1.78V-27.16L0 -25.39Z" fill="url(#gbf)"/><path d="M0 -25.39L4.62 -27.16L0.82 -29.63L-3.79 -27.85Z" fill="#1881f3"/></g><g transform="translate(330.21,155.14)"><path d="M0 0L4.62 -1.78L0.82 -4.24L-3.79 -2.46Z" fill="#3e26a8"/></g><g transform="translate(452.62,157.08)"><path d="M-3.79 -2.46L0 0V-27.93L-3.79 -30.39Z" fill="url(#gbl)"/><path d="M0 0L4.62 -1.78V-29.7L0 -27.93Z" fill="url(#gbf)"/><path d="M0 -27.93L4.62 -29.7L0.82 -32.17L-3.79 -30.39Z" fill="#108bec"/></g><g transform="translate(415.32,156.72)"><path d="M-3.79 -2.46L0 0V-36.39L-3.79 -38.85Z" fill="url(#gbl)"/><path d="M0 0L4.62 -1.78V-38.16L0 -36.39Z" fill="url(#gbf)"/><path d="M0 -36.39L4.62 -38.16L0.82 -40.63L-3.79 -38.85Z" fill="#00aed6"/></g><g transform="translate(378.02,156.36)"><path d="M-3.79 -2.46L0 0V-71.08L-3.79 -73.55Z" fill="url(#gbl)"/><path d="M0 0L4.62 -1.78V-72.86L0 -71.08Z" fill="url(#gbf)"/><path d="M0 -71.08L4.62 -72.86L0.82 -75.32L-3.79 -73.55Z" fill="#feb320"/></g><g transform="translate(500.43,158.3)"><path d="M0 0L4.62 -1.78L0.82 -4.24L-3.79 -2.46Z" fill="#3e26a8"/></g><g transform="translate(340.72,156)"><path d="M0 0L4.62 -1.78L0.82 -4.24L-3.79 -2.46Z" fill="#3e26a8"/></g><g transform="translate(463.13,157.94)"><path d="M-3.79 -2.46L0 0V-33.85L-3.79 -36.31Z" fill="url(#gbl)"/><path d="M0 0L4.62 -1.78V-35.62L0 -33.85Z" fill="url(#gbf)"/><path d="M0 -33.85L4.62 -35.62L0.82 -38.09L-3.79 -36.31Z" fill="#00a3df"/></g><g transform="translate(425.83,157.58)"><path d="M-3.79 -2.46L0 0V-11.85L-3.79 -14.31Z" fill="url(#gbl)"/><path d="M0 0L4.62 -1.78V-13.62L0 -11.85Z" fill="url(#gbf)"/><path d="M0 -11.85L4.62 -13.62L0.82 -16.09L-3.79 -14.31Z" fill="#414bf4"/></g><g transform="translate(388.53,157.22)"><path d="M-3.79 -2.46L0 0V-63.47L-3.79 -65.93Z" fill="url(#gbl)"/><path d="M0 0L4.62 -1.78V-65.24L0 -63.47Z" fill="url(#gbf)"/><path d="M0 -63.47L4.62 -65.24L0.82 -67.71L-3.79 -65.93Z" fill="#c8c011"/></g><g transform="translate(351.23,156.86)"><path d="M-3.79 -2.46L0 0V-40.62L-3.79 -43.08Z" fill="url(#gbl)"/><path d="M0 0L4.62 -1.78V-42.39L0 -40.62Z" fill="url(#gbf)"/><path d="M0 -40.62L4.62 -42.39L0.82 -44.86L-3.79 -43.08Z" fill="#00bbc2"/></g><g transform="translate(473.64,158.8)"><path d="M-3.79 -2.46L0 0V-35.54L-3.79 -38.01Z" fill="url(#gbl)"/><path d="M0 0L4.62 -1.78V-37.32L0 -35.54Z" fill="url(#gbf)"/><path d="M0 -35.54L4.62 -37.32L0.82 -39.78L-3.79 -38.01Z" fill="#00abd9"/></g><g transform="translate(436.34,158.44)"><path d="M-3.79 -2.46L0 0V-11L-3.79 -13.46Z" fill="url(#gbl)"/><path d="M0 0L4.62 -1.78V-12.78L0 -11Z" fill="url(#gbf)"/><path d="M0 -11L4.62 -12.78L0.82 -15.24L-3.79 -13.46Z" fill="#4248f1"/></g><g transform="translate(399.04,158.08)"><path d="M-3.79 -2.46L0 0V-52.47L-3.79 -54.93Z" fill="url(#gbl)"/><path d="M0 0L4.62 -1.78V-54.24L0 -52.47Z" fill="url(#gbf)"/><path d="M0 -52.47L4.62 -54.24L0.82 -56.71L-3.79 -54.93Z" fill="#46cc6d"/></g><g transform="translate(361.74,157.72)"><path d="M-3.79 -2.46L0 0V-49.08L-3.79 -51.54Z" fill="url(#gbl)"/><path d="M0 0L4.62 -1.78V-50.86L0 -49.08Z" fill="url(#gbf)"/><path d="M0 -49.08L4.62 -50.86L0.82 -53.32L-3.79 -51.54Z" fill="#26c98a"/></g><g transform="translate(484.15,159.66)"><path d="M-3.79 -2.46L0 0V-27.93L-3.79 -30.39Z" fill="url(#gbl)"/><path d="M0 0L4.62 -1.78V-29.7L0 -27.93Z" fill="url(#gbf)"/><path d="M0 -27.93L4.62 -29.7L0.82 -32.17L-3.79 -30.39Z" fill="#108bec"/></g><g transform="translate(324.44,157.36)"><path d="M0 0L4.62 -1.78L0.82 -4.24L-3.79 -2.46Z" fill="#3e26a8"/></g><g transform="translate(446.85,159.3)"><path d="M-3.79 -2.46L0 0V-30.46L-3.79 -32.93Z" fill="url(#gbl)"/><path d="M0 0L4.62 -1.78V-32.24L0 -30.46Z" fill="url(#gbf)"/><path d="M0 -30.46L4.62 -32.24L0.82 -34.7L-3.79 -32.93Z" fill="#0a95e6"/></g><g transform="translate(409.55,158.94)"><path d="M-3.79 -2.46L0 0V-36.39L-3.79 -38.85Z" fill="url(#gbl)"/><path d="M0 0L4.62 -1.78V-38.16L0 -36.39Z" fill="url(#gbf)"/><path d="M0 -36.39L4.62 -38.16L0.82 -40.63L-3.79 -38.85Z" fill="#00aed6"/></g><g transform="translate(372.25,158.58)"><path d="M-3.79 -2.46L0 0V-62.62L-3.79 -65.08Z" fill="url(#gbl)"/><path d="M0 0L4.62 -1.78V-64.4L0 -62.62Z" fill="url(#gbf)"/><path d="M0 -62.62L4.62 -64.4L0.82 -66.86L-3.79 -65.08Z" fill="#c0c316"/></g><g transform="translate(494.66,160.52)"><path d="M-3.79 -2.46L0 0V-25.39L-3.79 -27.85Z" fill="url(#gbl)"/><path d="M0 0L4.62 -1.78V-27.16L0 -25.39Z" fill="url(#gbf)"/><path d="M0 -25.39L4.62 -27.16L0.82 -29.63L-3.79 -27.85Z" fill="#1881f3"/></g><g transform="translate(334.95,158.22)"><path d="M0 0L4.62 -1.78L0.82 -4.24L-3.79 -2.46Z" fill="#3e26a8"/></g><g transform="translate(457.36,160.16)"><path d="M-3.79 -2.46L0 0V-42.31L-3.79 -44.77Z" fill="url(#gbl)"/><path d="M0 0L4.62 -1.78V-44.09L0 -42.31Z" fill="url(#gbf)"/><path d="M0 -42.31L4.62 -44.09L0.82 -46.55L-3.79 -44.77Z" fill="#00beb9"/></g><g transform="translate(420.06,159.8)"><path d="M-3.79 -2.46L0 0V-11.85L-3.79 -14.31Z" fill="url(#gbl)"/><path d="M0 0L4.62 -1.78V-13.62L0 -11.85Z" fill="url(#gbf)"/><path d="M0 -11.85L4.62 -13.62L0.82 -16.09L-3.79 -14.31Z" fill="#414bf4"/></g><g transform="translate(382.76,159.44)"><path d="M-3.79 -2.46L0 0V-60.08L-3.79 -62.55Z" fill="url(#gbl)"/><path d="M0 0L4.62 -1.78V-61.86L0 -60.08Z" fill="url(#gbf)"/><path d="M0 -60.08L4.62 -61.86L0.82 -64.32L-3.79 -62.55Z" fill="#a3c726"/></g><g transform="translate(505.17,161.38)"><path d="M0 0L4.62 -1.78L0.82 -4.24L-3.79 -2.46Z" fill="#3e26a8"/></g><g transform="translate(345.46,159.08)"><path d="M-3.79 -2.46L0 0V-27.08L-3.79 -29.54Z" fill="url(#gbl)"/><path d="M0 0L4.62 -1.78V-28.85L0 -27.08Z" fill="url(#gbf)"/><path d="M0 -27.08L4.62 -28.85L0.82 -31.32L-3.79 -29.54Z" fill="#1488ee"/></g><g transform="translate(467.87,161.02)"><path d="M-3.79 -2.46L0 0V-42.31L-3.79 -44.77Z" fill="url(#gbl)"/><path d="M0 0L4.62 -1.78V-44.09L0 -42.31Z" fill="url(#gbf)"/><path d="M0 -42.31L4.62 -44.09L0.82 -46.55L-3.79 -44.77Z" fill="#00beb9"/></g><g transform="translate(430.57,160.66)"><path d="M-3.79 -2.46L0 0V-11.85L-3.79 -14.31Z" fill="url(#gbl)"/><path d="M0 0L4.62 -1.78V-13.62L0 -11.85Z" fill="url(#gbf)"/><path d="M0 -11.85L4.62 -13.62L0.82 -16.09L-3.79 -14.31Z" fill="#414bf4"/></g><g transform="translate(393.27,160.3)"><path d="M-3.79 -2.46L0 0V-49.08L-3.79 -51.54Z" fill="url(#gbl)"/><path d="M0 0L4.62 -1.78V-50.86L0 -49.08Z" fill="url(#gbf)"/><path d="M0 -49.08L4.62 -50.86L0.82 -53.32L-3.79 -51.54Z" fill="#26c98a"/></g><g transform="translate(355.97,159.94)"><path d="M-3.79 -2.46L0 0V-39.77L-3.79 -42.24Z" fill="url(#gbl)"/><path d="M0 0L4.62 -1.78V-41.55L0 -39.77Z" fill="url(#gbf)"/><path d="M0 -39.77L4.62 -41.55L0.82 -44.01L-3.79 -42.24Z" fill="#00b9c6"/></g><g transform="translate(478.38,161.88)"><path d="M-3.79 -2.46L0 0V-38.08L-3.79 -40.54Z" fill="url(#gbl)"/><path d="M0 0L4.62 -1.78V-39.86L0 -38.08Z" fill="url(#gbf)"/><path d="M0 -38.08L4.62 -39.86L0.82 -42.32L-3.79 -40.54Z" fill="#00b5ce"/></g><g transform="translate(441.08,161.52)"><path d="M-3.79 -2.46L0 0V-33.85L-3.79 -36.31Z" fill="url(#gbl)"/><path d="M0 0L4.62 -1.78V-35.62L0 -33.85Z" fill="url(#gbf)"/><path d="M0 -33.85L4.62 -35.62L0.82 -38.09L-3.79 -36.31Z" fill="#00a3df"/></g><g transform="translate(403.78,161.16)"><path d="M-3.79 -2.46L0 0V-36.39L-3.79 -38.85Z" fill="url(#gbl)"/><path d="M0 0L4.62 -1.78V-38.16L0 -36.39Z" fill="url(#gbf)"/><path d="M0 -36.39L4.62 -38.16L0.82 -40.63L-3.79 -38.85Z" fill="#00aed6"/></g><g transform="translate(366.48,160.8)"><path d="M-3.79 -2.46L0 0V-49.08L-3.79 -51.54Z" fill="url(#gbl)"/><path d="M0 0L4.62 -1.78V-50.86L0 -49.08Z" fill="url(#gbf)"/><path d="M0 -49.08L4.62 -50.86L0.82 -53.32L-3.79 -51.54Z" fill="#26c98a"/></g><g transform="translate(488.89,162.74)"><path d="M-3.79 -2.46L0 0V-27.93L-3.79 -30.39Z" fill="url(#gbl)"/><path d="M0 0L4.62 -1.78V-29.7L0 -27.93Z" fill="url(#gbf)"/><path d="M0 -27.93L4.62 -29.7L0.82 -32.17L-3.79 -30.39Z" fill="#108bec"/></g><g transform="translate(329.18,160.44)"><path d="M0 0L4.62 -1.78L0.82 -4.24L-3.79 -2.46Z" fill="#3e26a8"/></g><g transform="translate(451.59,162.38)"><path d="M-3.79 -2.46L0 0V-45.7L-3.79 -48.16Z" fill="url(#gbl)"/><path d="M0 0L4.62 -1.78V-47.47L0 -45.7Z" fill="url(#gbf)"/><path d="M0 -45.7L4.62 -47.47L0.82 -49.94L-3.79 -48.16Z" fill="#15c4a3"/></g><g transform="translate(414.29,162.02)"><path d="M-3.79 -2.46L0 0V-11.85L-3.79 -14.31Z" fill="url(#gbl)"/><path d="M0 0L4.62 -1.78V-13.62L0 -11.85Z" fill="url(#gbf)"/><path d="M0 -11.85L4.62 -13.62L0.82 -16.09L-3.79 -14.31Z" fill="#414bf4"/></g><g transform="translate(376.99,161.66)"><path d="M-3.79 -2.46L0 0V-50.77L-3.79 -53.24Z" fill="url(#gbl)"/><path d="M0 0L4.62 -1.78V-52.55L0 -50.77Z" fill="url(#gbf)"/><path d="M0 -50.77L4.62 -52.55L0.82 -55.01L-3.79 -53.24Z" fill="#34cb7c"/></g><g transform="translate(499.4,163.6)"><path d="M0 0L4.62 -1.78L0.82 -4.24L-3.79 -2.46Z" fill="#3e26a8"/></g><g transform="translate(339.69,161.3)"><path d="M0 0L4.62 -1.78L0.82 -4.24L-3.79 -2.46Z" fill="#3e26a8"/></g><g transform="translate(462.1,163.24)"><path d="M-3.79 -2.46L0 0V-50.77L-3.79 -53.24Z" fill="url(#gbl)"/><path d="M0 0L4.62 -1.78V-52.55L0 -50.77Z" fill="url(#gbf)"/><path d="M0 -50.77L4.62 -52.55L0.82 -55.01L-3.79 -53.24Z" fill="#34cb7c"/></g><g transform="translate(424.8,162.88)"><path d="M-3.79 -2.46L0 0V-11.85L-3.79 -14.31Z" fill="url(#gbl)"/><path d="M0 0L4.62 -1.78V-13.62L0 -11.85Z" fill="url(#gbf)"/><path d="M0 -11.85L4.62 -13.62L0.82 -16.09L-3.79 -14.31Z" fill="#414bf4"/></g><g transform="translate(387.5,162.52)"><path d="M-3.79 -2.46L0 0V-45.7L-3.79 -48.16Z" fill="url(#gbl)"/><path d="M0 0L4.62 -1.78V-47.47L0 -45.7Z" fill="url(#gbf)"/><path d="M0 -45.7L4.62 -47.47L0.82 -49.94L-3.79 -48.16Z" fill="#15c4a3"/></g><g transform="translate(509.91,164.46)"><path d="M0 0L4.62 -1.78L0.82 -4.24L-3.79 -2.46Z" fill="#3e26a8"/></g><g transform="translate(350.2,162.16)"><path d="M-3.79 -2.46L0 0V-27.93L-3.79 -30.39Z" fill="url(#gbl)"/><path d="M0 0L4.62 -1.78V-29.7L0 -27.93Z" fill="url(#gbf)"/><path d="M0 -27.93L4.62 -29.7L0.82 -32.17L-3.79 -30.39Z" fill="#108bec"/></g><g transform="translate(472.61,164.1)"><path d="M-3.79 -2.46L0 0V-49.08L-3.79 -51.54Z" fill="url(#gbl)"/><path d="M0 0L4.62 -1.78V-50.86L0 -49.08Z" fill="url(#gbf)"/><path d="M0 -49.08L4.62 -50.86L0.82 -53.32L-3.79 -51.54Z" fill="#26c98a"/></g><g transform="translate(435.31,163.74)"><path d="M-3.79 -2.46L0 0V-36.39L-3.79 -38.85Z" fill="url(#gbl)"/><path d="M0 0L4.62 -1.78V-38.16L0 -36.39Z" fill="url(#gbf)"/><path d="M0 -36.39L4.62 -38.16L0.82 -40.63L-3.79 -38.85Z" fill="#00aed6"/></g><g transform="translate(398.01,163.38)"><path d="M-3.79 -2.46L0 0V-33.85L-3.79 -36.31Z" fill="url(#gbl)"/><path d="M0 0L4.62 -1.78V-35.62L0 -33.85Z" fill="url(#gbf)"/><path d="M0 -33.85L4.62 -35.62L0.82 -38.09L-3.79 -36.31Z" fill="#00a3df"/></g><g transform="translate(360.71,163.02)"><path d="M-3.79 -2.46L0 0V-38.08L-3.79 -40.54Z" fill="url(#gbl)"/><path d="M0 0L4.62 -1.78V-39.86L0 -38.08Z" fill="url(#gbf)"/><path d="M0 -38.08L4.62 -39.86L0.82 -42.32L-3.79 -40.54Z" fill="#00b5ce"/></g><g transform="translate(483.12,164.96)"><path d="M-3.79 -2.46L0 0V-39.77L-3.79 -42.24Z" fill="url(#gbl)"/><path d="M0 0L4.62 -1.78V-41.55L0 -39.77Z" fill="url(#gbf)"/><path d="M0 -39.77L4.62 -41.55L0.82 -44.01L-3.79 -42.24Z" fill="#00b9c6"/></g><g transform="translate(445.82,164.6)"><path d="M-3.79 -2.46L0 0V-49.08L-3.79 -51.54Z" fill="url(#gbl)"/><path d="M0 0L4.62 -1.78V-50.86L0 -49.08Z" fill="url(#gbf)"/><path d="M0 -49.08L4.62 -50.86L0.82 -53.32L-3.79 -51.54Z" fill="#26c98a"/></g><g transform="translate(408.52,164.24)"><path d="M-3.79 -2.46L0 0V-11.85L-3.79 -14.31Z" fill="url(#gbl)"/><path d="M0 0L4.62 -1.78V-13.62L0 -11.85Z" fill="url(#gbf)"/><path d="M0 -11.85L4.62 -13.62L0.82 -16.09L-3.79 -14.31Z" fill="#414bf4"/></g><g transform="translate(371.22,163.88)"><path d="M-3.79 -2.46L0 0V-42.31L-3.79 -44.77Z" fill="url(#gbl)"/><path d="M0 0L4.62 -1.78V-44.09L0 -42.31Z" fill="url(#gbf)"/><path d="M0 -42.31L4.62 -44.09L0.82 -46.55L-3.79 -44.77Z" fill="#00beb9"/></g><g transform="translate(493.63,165.82)"><path d="M-3.79 -2.46L0 0V-27.08L-3.79 -29.54Z" fill="url(#gbl)"/><path d="M0 0L4.62 -1.78V-28.85L0 -27.08Z" fill="url(#gbf)"/><path d="M0 -27.08L4.62 -28.85L0.82 -31.32L-3.79 -29.54Z" fill="#1488ee"/></g><g transform="translate(333.92,163.52)"><path d="M0 0L4.62 -1.78L0.82 -4.24L-3.79 -2.46Z" fill="#3e26a8"/></g><g transform="translate(456.33,165.46)"><path d="M-3.79 -2.46L0 0V-60.08L-3.79 -62.55Z" fill="url(#gbl)"/><path d="M0 0L4.62 -1.78V-61.86L0 -60.08Z" fill="url(#gbf)"/><path d="M0 -60.08L4.62 -61.86L0.82 -64.32L-3.79 -62.55Z" fill="#a3c726"/></g><g transform="translate(419.03,165.1)"><path d="M-3.79 -2.46L0 0V-11.85L-3.79 -14.31Z" fill="url(#gbl)"/><path d="M0 0L4.62 -1.78V-13.62L0 -11.85Z" fill="url(#gbf)"/><path d="M0 -11.85L4.62 -13.62L0.82 -16.09L-3.79 -14.31Z" fill="#414bf4"/></g><g transform="translate(381.73,164.74)"><path d="M-3.79 -2.46L0 0V-42.31L-3.79 -44.77Z" fill="url(#gbl)"/><path d="M0 0L4.62 -1.78V-44.09L0 -42.31Z" fill="url(#gbf)"/><path d="M0 -42.31L4.62 -44.09L0.82 -46.55L-3.79 -44.77Z" fill="#00beb9"/></g><g transform="translate(504.14,166.68)"><path d="M0 0L4.62 -1.78L0.82 -4.24L-3.79 -2.46Z" fill="#3e26a8"/></g><g transform="translate(344.43,164.38)"><path d="M-3.79 -2.46L0 0V-25.39L-3.79 -27.85Z" fill="url(#gbl)"/><path d="M0 0L4.62 -1.78V-27.16L0 -25.39Z" fill="url(#gbf)"/><path d="M0 -25.39L4.62 -27.16L0.82 -29.63L-3.79 -27.85Z" fill="#1881f3"/></g><g transform="translate(466.84,166.32)"><path d="M-3.79 -2.46L0 0V-62.62L-3.79 -65.08Z" fill="url(#gbl)"/><path d="M0 0L4.62 -1.78V-64.4L0 -62.62Z" fill="url(#gbf)"/><path d="M0 -62.62L4.62 -64.4L0.82 -66.86L-3.79 -65.08Z" fill="#c0c316"/></g><g transform="translate(429.54,165.96)"><path d="M-3.79 -2.46L0 0V-36.39L-3.79 -38.85Z" fill="url(#gbl)"/><path d="M0 0L4.62 -1.78V-38.16L0 -36.39Z" fill="url(#gbf)"/><path d="M0 -36.39L4.62 -38.16L0.82 -40.63L-3.79 -38.85Z" fill="#00aed6"/></g><g transform="translate(392.24,165.6)"><path d="M-3.79 -2.46L0 0V-30.46L-3.79 -32.93Z" fill="url(#gbl)"/><path d="M0 0L4.62 -1.78V-32.24L0 -30.46Z" fill="url(#gbf)"/><path d="M0 -30.46L4.62 -32.24L0.82 -34.7L-3.79 -32.93Z" fill="#0a95e6"/></g><g transform="translate(514.65,167.54)"><path d="M0 0L4.62 -1.78L0.82 -4.24L-3.79 -2.46Z" fill="#3e26a8"/></g><g transform="translate(354.94,165.24)"><path d="M-3.79 -2.46L0 0V-27.93L-3.79 -30.39Z" fill="url(#gbl)"/><path d="M0 0L4.62 -1.78V-29.7L0 -27.93Z" fill="url(#gbf)"/><path d="M0 -27.93L4.62 -29.7L0.82 -32.17L-3.79 -30.39Z" fill="#108bec"/></g><g transform="translate(477.35,167.18)"><path d="M-3.79 -2.46L0 0V-49.08L-3.79 -51.54Z" fill="url(#gbl)"/><path d="M0 0L4.62 -1.78V-50.86L0 -49.08Z" fill="url(#gbf)"/><path d="M0 -49.08L4.62 -50.86L0.82 -53.32L-3.79 -51.54Z" fill="#26c98a"/></g><g transform="translate(440.05,166.82)"><path d="M-3.79 -2.46L0 0V-52.47L-3.79 -54.93Z" fill="url(#gbl)"/><path d="M0 0L4.62 -1.78V-54.24L0 -52.47Z" fill="url(#gbf)"/><path d="M0 -52.47L4.62 -54.24L0.82 -56.71L-3.79 -54.93Z" fill="#46cc6d"/></g><g transform="translate(402.75,166.46)"><path d="M-3.79 -2.46L0 0V-11L-3.79 -13.46Z" fill="url(#gbl)"/><path d="M0 0L4.62 -1.78V-12.78L0 -11Z" fill="url(#gbf)"/><path d="M0 -11L4.62 -12.78L0.82 -15.24L-3.79 -13.46Z" fill="#4248f1"/></g><g transform="translate(365.45,166.1)"><path d="M-3.79 -2.46L0 0V-35.54L-3.79 -38.01Z" fill="url(#gbl)"/><path d="M0 0L4.62 -1.78V-37.32L0 -35.54Z" fill="url(#gbf)"/><path d="M0 -35.54L4.62 -37.32L0.82 -39.78L-3.79 -38.01Z" fill="#00abd9"/></g><g transform="translate(487.86,168.04)"><path d="M-3.79 -2.46L0 0V-40.62L-3.79 -43.08Z" fill="url(#gbl)"/><path d="M0 0L4.62 -1.78V-42.39L0 -40.62Z" fill="url(#gbf)"/><path d="M0 -40.62L4.62 -42.39L0.82 -44.86L-3.79 -43.08Z" fill="#00bbc2"/></g><g transform="translate(450.56,167.68)"><path d="M-3.79 -2.46L0 0V-63.47L-3.79 -65.93Z" fill="url(#gbl)"/><path d="M0 0L4.62 -1.78V-65.24L0 -63.47Z" fill="url(#gbf)"/><path d="M0 -63.47L4.62 -65.24L0.82 -67.71L-3.79 -65.93Z" fill="#c8c011"/></g><g transform="translate(413.26,167.32)"><path d="M-3.79 -2.46L0 0V-11.85L-3.79 -14.31Z" fill="url(#gbl)"/><path d="M0 0L4.62 -1.78V-13.62L0 -11.85Z" fill="url(#gbf)"/><path d="M0 -11.85L4.62 -13.62L0.82 -16.09L-3.79 -14.31Z" fill="#414bf4"/></g><g transform="translate(375.96,166.96)"><path d="M-3.79 -2.46L0 0V-33.85L-3.79 -36.31Z" fill="url(#gbl)"/><path d="M0 0L4.62 -1.78V-35.62L0 -33.85Z" fill="url(#gbf)"/><path d="M0 -33.85L4.62 -35.62L0.82 -38.09L-3.79 -36.31Z" fill="#00a3df"/></g><g transform="translate(498.37,168.9)"><path d="M0 0L4.62 -1.78L0.82 -4.24L-3.79 -2.46Z" fill="#3e26a8"/></g><g transform="translate(338.66,166.6)"><path d="M0 0L4.62 -1.78L0.82 -4.24L-3.79 -2.46Z" fill="#3e26a8"/></g><g transform="translate(461.07,168.54)"><path d="M-3.79 -2.46L0 0V-71.08L-3.79 -73.55Z" fill="url(#gbl)"/><path d="M0 0L4.62 -1.78V-72.86L0 -71.08Z" fill="url(#gbf)"/><path d="M0 -71.08L4.62 -72.86L0.82 -75.32L-3.79 -73.55Z" fill="#feb320"/></g><g transform="translate(423.77,168.18)"><path d="M-3.79 -2.46L0 0V-36.39L-3.79 -38.85Z" fill="url(#gbl)"/><path d="M0 0L4.62 -1.78V-38.16L0 -36.39Z" fill="url(#gbf)"/><path d="M0 -36.39L4.62 -38.16L0.82 -40.63L-3.79 -38.85Z" fill="#00aed6"/></g><g transform="translate(386.47,167.82)"><path d="M-3.79 -2.46L0 0V-27.93L-3.79 -30.39Z" fill="url(#gbl)"/><path d="M0 0L4.62 -1.78V-29.7L0 -27.93Z" fill="url(#gbf)"/><path d="M0 -27.93L4.62 -29.7L0.82 -32.17L-3.79 -30.39Z" fill="#108bec"/></g><g transform="translate(508.88,169.76)"><path d="M0 0L4.62 -1.78L0.82 -4.24L-3.79 -2.46Z" fill="#3e26a8"/></g><g transform="translate(349.17,167.46)"><path d="M-3.79 -2.46L0 0V-25.39L-3.79 -27.85Z" fill="url(#gbl)"/><path d="M0 0L4.62 -1.78V-27.16L0 -25.39Z" fill="url(#gbf)"/><path d="M0 -25.39L4.62 -27.16L0.82 -29.63L-3.79 -27.85Z" fill="#1881f3"/></g><g transform="translate(471.58,169.4)"><path d="M-3.79 -2.46L0 0V-62.62L-3.79 -65.08Z" fill="url(#gbl)"/><path d="M0 0L4.62 -1.78V-64.4L0 -62.62Z" fill="url(#gbf)"/><path d="M0 -62.62L4.62 -64.4L0.82 -66.86L-3.79 -65.08Z" fill="#c0c316"/></g><g transform="translate(434.28,169.04)"><path d="M-3.79 -2.46L0 0V-54.16L-3.79 -56.62Z" fill="url(#gbl)"/><path d="M0 0L4.62 -1.78V-55.93L0 -54.16Z" fill="url(#gbf)"/><path d="M0 -54.16L4.62 -55.93L0.82 -58.4L-3.79 -56.62Z" fill="#59cd5d"/></g><g transform="translate(396.98,168.68)"><path d="M-3.79 -2.46L0 0V-10.15L-3.79 -12.62Z" fill="url(#gbl)"/><path d="M0 0L4.62 -1.78V-11.93L0 -10.15Z" fill="url(#gbf)"/><path d="M0 -10.15L4.62 -11.93L0.82 -14.39L-3.79 -12.62Z" fill="#4345ee"/></g><g transform="translate(519.39,170.62)"><path d="M0 0L4.62 -1.78L0.82 -4.24L-3.79 -2.46Z" fill="#3e26a8"/></g><g transform="translate(359.68,168.32)"><path d="M-3.79 -2.46L0 0V-26.23L-3.79 -28.7Z" fill="url(#gbl)"/><path d="M0 0L4.62 -1.78V-28.01L0 -26.23Z" fill="url(#gbf)"/><path d="M0 -26.23L4.62 -28.01L0.82 -30.47L-3.79 -28.7Z" fill="#1684f0"/></g><g transform="translate(482.09,170.26)"><path d="M-3.79 -2.46L0 0V-49.08L-3.79 -51.54Z" fill="url(#gbl)"/><path d="M0 0L4.62 -1.78V-50.86L0 -49.08Z" fill="url(#gbf)"/><path d="M0 -49.08L4.62 -50.86L0.82 -53.32L-3.79 -51.54Z" fill="#26c98a"/></g><g transform="translate(444.79,169.9)"><path d="M-3.79 -2.46L0 0V-69.39L-3.79 -71.85Z" fill="url(#gbl)"/><path d="M0 0L4.62 -1.78V-71.17L0 -69.39Z" fill="url(#gbf)"/><path d="M0 -69.39L4.62 -71.17L0.82 -73.63L-3.79 -71.85Z" fill="#f5b11f"/></g><g transform="translate(407.49,169.54)"><path d="M-3.79 -2.46L0 0V-11L-3.79 -13.46Z" fill="url(#gbl)"/><path d="M0 0L4.62 -1.78V-12.78L0 -11Z" fill="url(#gbf)"/><path d="M0 -11L4.62 -12.78L0.82 -15.24L-3.79 -13.46Z" fill="#4248f1"/></g><g transform="translate(370.19,169.18)"><path d="M-3.79 -2.46L0 0V-27.93L-3.79 -30.39Z" fill="url(#gbl)"/><path d="M0 0L4.62 -1.78V-29.7L0 -27.93Z" fill="url(#gbf)"/><path d="M0 -27.93L4.62 -29.7L0.82 -32.17L-3.79 -30.39Z" fill="#108bec"/></g><g transform="translate(492.6,171.12)"><path d="M-3.79 -2.46L0 0V-37.23L-3.79 -39.7Z" fill="url(#gbl)"/><path d="M0 0L4.62 -1.78V-39.01L0 -37.23Z" fill="url(#gbf)"/><path d="M0 -37.23L4.62 -39.01L0.82 -41.47L-3.79 -39.7Z" fill="#00b2d2"/></g><g transform="translate(455.3,170.76)"><path d="M-3.79 -2.46L0 0V-74.47L-3.79 -76.93Z" fill="url(#gbl)"/><path d="M0 0L4.62 -1.78V-76.24L0 -74.47Z" fill="url(#gbf)"/><path d="M0 -74.47L4.62 -76.24L0.82 -78.71L-3.79 -76.93Z" fill="#fdc513"/></g><g transform="translate(418,170.4)"><path d="M-3.79 -2.46L0 0V-36.39L-3.79 -38.85Z" fill="url(#gbl)"/><path d="M0 0L4.62 -1.78V-38.16L0 -36.39Z" fill="url(#gbf)"/><path d="M0 -36.39L4.62 -38.16L0.82 -40.63L-3.79 -38.85Z" fill="#00aed6"/></g><g transform="translate(380.7,170.04)"><path d="M-3.79 -2.46L0 0V-25.39L-3.79 -27.85Z" fill="url(#gbl)"/><path d="M0 0L4.62 -1.78V-27.16L0 -25.39Z" fill="url(#gbf)"/><path d="M0 -25.39L4.62 -27.16L0.82 -29.63L-3.79 -27.85Z" fill="#1881f3"/></g><g transform="translate(503.11,171.98)"><path d="M0 0L4.62 -1.78L0.82 -4.24L-3.79 -2.46Z" fill="#3e26a8"/></g><g transform="translate(343.4,169.68)"><path d="M-3.79 -2.46L0 0V-25.39L-3.79 -27.85Z" fill="url(#gbl)"/><path d="M0 0L4.62 -1.78V-27.16L0 -25.39Z" fill="url(#gbf)"/><path d="M0 -25.39L4.62 -27.16L0.82 -29.63L-3.79 -27.85Z" fill="#1881f3"/></g><g transform="translate(465.81,171.62)"><path d="M-3.79 -2.46L0 0V-71.08L-3.79 -73.55Z" fill="url(#gbl)"/><path d="M0 0L4.62 -1.78V-72.86L0 -71.08Z" fill="url(#gbf)"/><path d="M0 -71.08L4.62 -72.86L0.82 -75.32L-3.79 -73.55Z" fill="#feb320"/></g><g transform="translate(428.51,171.26)"><path d="M-3.79 -2.46L0 0V-54.16L-3.79 -56.62Z" fill="url(#gbl)"/><path d="M0 0L4.62 -1.78V-55.93L0 -54.16Z" fill="url(#gbf)"/><path d="M0 -54.16L4.62 -55.93L0.82 -58.4L-3.79 -56.62Z" fill="#59cd5d"/></g><g transform="translate(391.21,170.9)"><path d="M-3.79 -2.46L0 0V-9.31L-3.79 -11.77Z" fill="url(#gbl)"/><path d="M0 0L4.62 -1.78V-11.08L0 -9.31Z" fill="url(#gbf)"/><path d="M0 -9.31L4.62 -11.08L0.82 -13.55L-3.79 -11.77Z" fill="#4342eb"/></g><g transform="translate(513.62,172.84)"><path d="M0 0L4.62 -1.78L0.82 -4.24L-3.79 -2.46Z" fill="#3e26a8"/></g><g transform="translate(353.91,170.54)"><path d="M-3.79 -2.46L0 0V-24.54L-3.79 -27Z" fill="url(#gbl)"/><path d="M0 0L4.62 -1.78V-26.32L0 -24.54Z" fill="url(#gbf)"/><path d="M0 -24.54L4.62 -26.32L0.82 -28.78L-3.79 -27Z" fill="#197df6"/></g><g transform="translate(476.32,172.48)"><path d="M-3.79 -2.46L0 0V-59.24L-3.79 -61.7Z" fill="url(#gbl)"/><path d="M0 0L4.62 -1.78V-61.01L0 -59.24Z" fill="url(#gbf)"/><path d="M0 -59.24L4.62 -61.01L0.82 -63.48L-3.79 -61.7Z" fill="#99c92d"/></g><g transform="translate(439.02,172.12)"><path d="M-3.79 -2.46L0 0V-70.24L-3.79 -72.7Z" fill="url(#gbl)"/><path d="M0 0L4.62 -1.78V-72.01L0 -70.24Z" fill="url(#gbf)"/><path d="M0 -70.24L4.62 -72.01L0.82 -74.48L-3.79 -72.7Z" fill="#fab122"/></g><g transform="translate(401.72,171.76)"><path d="M-3.79 -2.46L0 0V-10.15L-3.79 -12.62Z" fill="url(#gbl)"/><path d="M0 0L4.62 -1.78V-11.93L0 -10.15Z" fill="url(#gbf)"/><path d="M0 -10.15L4.62 -11.93L0.82 -14.39L-3.79 -12.62Z" fill="#4345ee"/></g><g transform="translate(364.42,171.4)"><path d="M-3.79 -2.46L0 0V-24.54L-3.79 -27Z" fill="url(#gbl)"/><path d="M0 0L4.62 -1.78V-26.32L0 -24.54Z" fill="url(#gbf)"/><path d="M0 -24.54L4.62 -26.32L0.82 -28.78L-3.79 -27Z" fill="#197df6"/></g><g transform="translate(486.83,173.34)"><path d="M-3.79 -2.46L0 0V-40.62L-3.79 -43.08Z" fill="url(#gbl)"/><path d="M0 0L4.62 -1.78V-42.39L0 -40.62Z" fill="url(#gbf)"/><path d="M0 -40.62L4.62 -42.39L0.82 -44.86L-3.79 -43.08Z" fill="#00bbc2"/></g><g transform="translate(449.53,172.98)"><path d="M-3.79 -2.46L0 0V-80.39L-3.79 -82.85Z" fill="url(#gbl)"/><path d="M0 0L4.62 -1.78V-82.17L0 -80.39Z" fill="url(#gbf)"/><path d="M0 -80.39L4.62 -82.17L0.82 -84.63L-3.79 -82.85Z" fill="#f5e606"/></g><g transform="translate(412.23,172.62)"><path d="M-3.79 -2.46L0 0V-33.85L-3.79 -36.31Z" fill="url(#gbl)"/><path d="M0 0L4.62 -1.78V-35.62L0 -33.85Z" fill="url(#gbf)"/><path d="M0 -33.85L4.62 -35.62L0.82 -38.09L-3.79 -36.31Z" fill="#00a3df"/></g><g transform="translate(374.93,172.26)"><path d="M-3.79 -2.46L0 0V-22L-3.79 -24.47Z" fill="url(#gbl)"/><path d="M0 0L4.62 -1.78V-23.78L0 -22Z" fill="url(#gbf)"/><path d="M0 -22L4.62 -23.78L0.82 -26.24L-3.79 -24.47Z" fill="#1e73fb"/></g><g transform="translate(497.34,174.2)"><path d="M0 0L4.62 -1.78L0.82 -4.24L-3.79 -2.46Z" fill="#3e26a8"/></g><g transform="translate(460.04,173.84)"><path d="M-3.79 -2.46L0 0V-74.47L-3.79 -76.93Z" fill="url(#gbl)"/><path d="M0 0L4.62 -1.78V-76.24L0 -74.47Z" fill="url(#gbf)"/><path d="M0 -74.47L4.62 -76.24L0.82 -78.71L-3.79 -76.93Z" fill="#fdc513"/></g><g transform="translate(422.74,173.48)"><path d="M-3.79 -2.46L0 0V-52.47L-3.79 -54.93Z" fill="url(#gbl)"/><path d="M0 0L4.62 -1.78V-54.24L0 -52.47Z" fill="url(#gbf)"/><path d="M0 -52.47L4.62 -54.24L0.82 -56.71L-3.79 -54.93Z" fill="#46cc6d"/></g><g transform="translate(385.44,173.12)"><path d="M-3.79 -2.46L0 0V-8.46L-3.79 -10.93Z" fill="url(#gbl)"/><path d="M0 0L4.62 -1.78V-10.24L0 -8.46Z" fill="url(#gbf)"/><path d="M0 -8.46L4.62 -10.24L0.82 -12.7L-3.79 -10.93Z" fill="#443fe7"/></g><g transform="translate(507.85,175.06)"><path d="M0 0L4.62 -1.78L0.82 -4.24L-3.79 -2.46Z" fill="#3e26a8"/></g><g transform="translate(348.14,172.76)"><path d="M-3.79 -2.46L0 0V-24.54L-3.79 -27Z" fill="url(#gbl)"/><path d="M0 0L4.62 -1.78V-26.32L0 -24.54Z" fill="url(#gbf)"/><path d="M0 -24.54L4.62 -26.32L0.82 -28.78L-3.79 -27Z" fill="#197df6"/></g><g transform="translate(470.55,174.7)"><path d="M-3.79 -2.46L0 0V-71.08L-3.79 -73.55Z" fill="url(#gbl)"/><path d="M0 0L4.62 -1.78V-72.86L0 -71.08Z" fill="url(#gbf)"/><path d="M0 -71.08L4.62 -72.86L0.82 -75.32L-3.79 -73.55Z" fill="#feb320"/></g><g transform="translate(433.25,174.34)"><path d="M-3.79 -2.46L0 0V-70.24L-3.79 -72.7Z" fill="url(#gbl)"/><path d="M0 0L4.62 -1.78V-72.01L0 -70.24Z" fill="url(#gbf)"/><path d="M0 -70.24L4.62 -72.01L0.82 -74.48L-3.79 -72.7Z" fill="#fab122"/></g><g transform="translate(395.95,173.98)"><path d="M-3.79 -2.46L0 0V-9.31L-3.79 -11.77Z" fill="url(#gbl)"/><path d="M0 0L4.62 -1.78V-11.08L0 -9.31Z" fill="url(#gbf)"/><path d="M0 -9.31L4.62 -11.08L0.82 -13.55L-3.79 -11.77Z" fill="#4342eb"/></g><g transform="translate(358.65,173.62)"><path d="M-3.79 -2.46L0 0V-22L-3.79 -24.47Z" fill="url(#gbl)"/><path d="M0 0L4.62 -1.78V-23.78L0 -22Z" fill="url(#gbf)"/><path d="M0 -22L4.62 -23.78L0.82 -26.24L-3.79 -24.47Z" fill="#1e73fb"/></g><g transform="translate(481.06,175.56)"><path d="M-3.79 -2.46L0 0V-50.77L-3.79 -53.24Z" fill="url(#gbl)"/><path d="M0 0L4.62 -1.78V-52.55L0 -50.77Z" fill="url(#gbf)"/><path d="M0 -50.77L4.62 -52.55L0.82 -55.01L-3.79 -53.24Z" fill="#34cb7c"/></g><g transform="translate(443.76,175.2)"><path d="M-3.79 -2.46L0 0V-82.08L-3.79 -84.55Z" fill="url(#gbl)"/><path d="M0 0L4.62 -1.78V-83.86L0 -82.08Z" fill="url(#gbf)"/><path d="M0 -82.08L4.62 -83.86L0.82 -86.32L-3.79 -84.55Z" fill="#f6ef00"/></g><g transform="translate(406.46,174.84)"><path d="M-3.79 -2.46L0 0V-30.46L-3.79 -32.93Z" fill="url(#gbl)"/><path d="M0 0L4.62 -1.78V-32.24L0 -30.46Z" fill="url(#gbf)"/><path d="M0 -30.46L4.62 -32.24L0.82 -34.7L-3.79 -32.93Z" fill="#0a95e6"/></g><g transform="translate(369.16,174.48)"><path d="M-3.79 -2.46L0 0V-18.62L-3.79 -21.08Z" fill="url(#gbl)"/><path d="M0 0L4.62 -1.78V-20.39L0 -18.62Z" fill="url(#gbf)"/><path d="M0 -18.62L4.62 -20.39L0.82 -22.86L-3.79 -21.08Z" fill="#3164ff"/></g><g transform="translate(491.57,176.42)"><path d="M-3.79 -2.46L0 0V-39.77L-3.79 -42.24Z" fill="url(#gbl)"/><path d="M0 0L4.62 -1.78V-41.55L0 -39.77Z" fill="url(#gbf)"/><path d="M0 -39.77L4.62 -41.55L0.82 -44.01L-3.79 -42.24Z" fill="#00b9c6"/></g><g transform="translate(454.27,176.06)"><path d="M-3.79 -2.46L0 0V-80.39L-3.79 -82.85Z" fill="url(#gbl)"/><path d="M0 0L4.62 -1.78V-82.17L0 -80.39Z" fill="url(#gbf)"/><path d="M0 -80.39L4.62 -82.17L0.82 -84.63L-3.79 -82.85Z" fill="#f5e606"/></g><g transform="translate(416.97,175.7)"><path d="M-3.79 -2.46L0 0V-49.08L-3.79 -51.54Z" fill="url(#gbl)"/><path d="M0 0L4.62 -1.78V-50.86L0 -49.08Z" fill="url(#gbf)"/><path d="M0 -49.08L4.62 -50.86L0.82 -53.32L-3.79 -51.54Z" fill="#26c98a"/></g><g transform="translate(379.67,175.34)"><path d="M-3.79 -2.46L0 0V-7.62L-3.79 -10.08Z" fill="url(#gbl)"/><path d="M0 0L4.62 -1.78V-9.39L0 -7.62Z" fill="url(#gbf)"/><path d="M0 -7.62L4.62 -9.39L0.82 -11.86L-3.79 -10.08Z" fill="#443de3"/></g><g transform="translate(502.08,177.28)"><path d="M0 0L4.62 -1.78L0.82 -4.24L-3.79 -2.46Z" fill="#3e26a8"/></g><g transform="translate(464.78,176.92)"><path d="M-3.79 -2.46L0 0V-74.47L-3.79 -76.93Z" fill="url(#gbl)"/><path d="M0 0L4.62 -1.78V-76.24L0 -74.47Z" fill="url(#gbf)"/><path d="M0 -74.47L4.62 -76.24L0.82 -78.71L-3.79 -76.93Z" fill="#fdc513"/></g><g transform="translate(427.48,176.56)"><path d="M-3.79 -2.46L0 0V-69.39L-3.79 -71.85Z" fill="url(#gbl)"/><path d="M0 0L4.62 -1.78V-71.17L0 -69.39Z" fill="url(#gbf)"/><path d="M0 -69.39L4.62 -71.17L0.82 -73.63L-3.79 -71.85Z" fill="#f5b11f"/></g><g transform="translate(390.18,176.2)"><path d="M-3.79 -2.46L0 0V-8.46L-3.79 -10.93Z" fill="url(#gbl)"/><path d="M0 0L4.62 -1.78V-10.24L0 -8.46Z" fill="url(#gbf)"/><path d="M0 -8.46L4.62 -10.24L0.82 -12.7L-3.79 -10.93Z" fill="#443fe7"/></g><g transform="translate(352.88,175.84)"><path d="M-3.79 -2.46L0 0V-21.16L-3.79 -23.62Z" fill="url(#gbl)"/><path d="M0 0L4.62 -1.78V-22.93L0 -21.16Z" fill="url(#gbf)"/><path d="M0 -21.16L4.62 -22.93L0.82 -25.4L-3.79 -23.62Z" fill="#226ffd"/></g><g transform="translate(475.29,177.78)"><path d="M-3.79 -2.46L0 0V-59.24L-3.79 -61.7Z" fill="url(#gbl)"/><path d="M0 0L4.62 -1.78V-61.01L0 -59.24Z" fill="url(#gbf)"/><path d="M0 -59.24L4.62 -61.01L0.82 -63.48L-3.79 -61.7Z" fill="#99c92d"/></g><g transform="translate(437.99,177.42)"><path d="M-3.79 -2.46L0 0V-82.08L-3.79 -84.55Z" fill="url(#gbl)"/><path d="M0 0L4.62 -1.78V-83.86L0 -82.08Z" fill="url(#gbf)"/><path d="M0 -82.08L4.62 -83.86L0.82 -86.32L-3.79 -84.55Z" fill="#f6ef00"/></g><g transform="translate(400.69,177.06)"><path d="M-3.79 -2.46L0 0V-27.93L-3.79 -30.39Z" fill="url(#gbl)"/><path d="M0 0L4.62 -1.78V-29.7L0 -27.93Z" fill="url(#gbf)"/><path d="M0 -27.93L4.62 -29.7L0.82 -32.17L-3.79 -30.39Z" fill="#108bec"/></g><g transform="translate(363.39,176.7)"><path d="M-3.79 -2.46L0 0V-16.08L-3.79 -18.54Z" fill="url(#gbl)"/><path d="M0 0L4.62 -1.78V-17.85L0 -16.08Z" fill="url(#gbf)"/><path d="M0 -16.08L4.62 -17.85L0.82 -20.32L-3.79 -18.54Z" fill="#3a5afd"/></g><g transform="translate(485.8,178.64)"><path d="M-3.79 -2.46L0 0V-44.85L-3.79 -47.31Z" fill="url(#gbl)"/><path d="M0 0L4.62 -1.78V-46.63L0 -44.85Z" fill="url(#gbf)"/><path d="M0 -44.85L4.62 -46.63L0.82 -49.09L-3.79 -47.31Z" fill="#10c2a8"/></g><g transform="translate(448.5,178.28)"><path d="M-3.79 -2.46L0 0V-82.08L-3.79 -84.55Z" fill="url(#gbl)"/><path d="M0 0L4.62 -1.78V-83.86L0 -82.08Z" fill="url(#gbf)"/><path d="M0 -82.08L4.62 -83.86L0.82 -86.32L-3.79 -84.55Z" fill="#f6ef00"/></g><g transform="translate(411.2,177.92)"><path d="M-3.79 -2.46L0 0V-45.7L-3.79 -48.16Z" fill="url(#gbl)"/><path d="M0 0L4.62 -1.78V-47.47L0 -45.7Z" fill="url(#gbf)"/><path d="M0 -45.7L4.62 -47.47L0.82 -49.94L-3.79 -48.16Z" fill="#15c4a3"/></g><g transform="translate(373.9,177.56)"><path d="M-3.79 -2.46L0 0V-5.92L-3.79 -8.39Z" fill="url(#gbl)"/><path d="M0 0L4.62 -1.78V-7.7L0 -5.92Z" fill="url(#gbf)"/><path d="M0 -5.92L4.62 -7.7L0.82 -10.16L-3.79 -8.39Z" fill="#4437d9"/></g><g transform="translate(496.31,179.5)"><path d="M0 0L4.62 -1.78L0.82 -4.24L-3.79 -2.46Z" fill="#3e26a8"/></g><g transform="translate(459.01,179.14)"><path d="M-3.79 -2.46L0 0V-78.7L-3.79 -81.16Z" fill="url(#gbl)"/><path d="M0 0L4.62 -1.78V-80.47L0 -78.7Z" fill="url(#gbf)"/><path d="M0 -78.7L4.62 -80.47L0.82 -82.94L-3.79 -81.16Z" fill="#f6dd09"/></g><g transform="translate(421.71,178.78)"><path d="M-3.79 -2.46L0 0V-63.47L-3.79 -65.93Z" fill="url(#gbl)"/><path d="M0 0L4.62 -1.78V-65.24L0 -63.47Z" fill="url(#gbf)"/><path d="M0 -63.47L4.62 -65.24L0.82 -67.71L-3.79 -65.93Z" fill="#c8c011"/></g><g transform="translate(384.41,178.42)"><path d="M-3.79 -2.46L0 0V-7.62L-3.79 -10.08Z" fill="url(#gbl)"/><path d="M0 0L4.62 -1.78V-9.39L0 -7.62Z" fill="url(#gbf)"/><path d="M0 -7.62L4.62 -9.39L0.82 -11.86L-3.79 -10.08Z" fill="#443de3"/></g><g transform="translate(469.52,180)"><path d="M-3.79 -2.46L0 0V-67.7L-3.79 -70.16Z" fill="url(#gbl)"/><path d="M0 0L4.62 -1.78V-69.47L0 -67.7Z" fill="url(#gbf)"/><path d="M0 -67.7L4.62 -69.47L0.82 -71.94L-3.79 -70.16Z" fill="#eab314"/></g><g transform="translate(432.22,179.64)"><path d="M-3.79 -2.46L0 0V-80.39L-3.79 -82.85Z" fill="url(#gbl)"/><path d="M0 0L4.62 -1.78V-82.17L0 -80.39Z" fill="url(#gbf)"/><path d="M0 -80.39L4.62 -82.17L0.82 -84.63L-3.79 -82.85Z" fill="#f5e606"/></g><g transform="translate(394.92,179.28)"><path d="M-3.79 -2.46L0 0V-25.39L-3.79 -27.85Z" fill="url(#gbl)"/><path d="M0 0L4.62 -1.78V-27.16L0 -25.39Z" fill="url(#gbf)"/><path d="M0 -25.39L4.62 -27.16L0.82 -29.63L-3.79 -27.85Z" fill="#1881f3"/></g><g transform="translate(357.62,178.92)"><path d="M-3.79 -2.46L0 0V-15.23L-3.79 -17.7Z" fill="url(#gbl)"/><path d="M0 0L4.62 -1.78V-17.01L0 -15.23Z" fill="url(#gbf)"/><path d="M0 -15.23L4.62 -17.01L0.82 -19.47L-3.79 -17.7Z" fill="#3c57fb"/></g><g transform="translate(480.03,180.86)"><path d="M-3.79 -2.46L0 0V-50.77L-3.79 -53.24Z" fill="url(#gbl)"/><path d="M0 0L4.62 -1.78V-52.55L0 -50.77Z" fill="url(#gbf)"/><path d="M0 -50.77L4.62 -52.55L0.82 -55.01L-3.79 -53.24Z" fill="#34cb7c"/></g><g transform="translate(442.73,180.5)"><path d="M-3.79 -2.46L0 0V-82.08L-3.79 -84.55Z" fill="url(#gbl)"/><path d="M0 0L4.62 -1.78V-83.86L0 -82.08Z" fill="url(#gbf)"/><path d="M0 -82.08L4.62 -83.86L0.82 -86.32L-3.79 -84.55Z" fill="#f6ef00"/></g><g transform="translate(405.43,180.14)"><path d="M-3.79 -2.46L0 0V-42.31L-3.79 -44.77Z" fill="url(#gbl)"/><path d="M0 0L4.62 -1.78V-44.09L0 -42.31Z" fill="url(#gbf)"/><path d="M0 -42.31L4.62 -44.09L0.82 -46.55L-3.79 -44.77Z" fill="#00beb9"/></g><g transform="translate(368.13,179.78)"><path d="M-3.79 -2.46L0 0V-4.23L-3.79 -6.7Z" fill="url(#gbl)"/><path d="M0 0L4.62 -1.78V-6.01L0 -4.23Z" fill="url(#gbf)"/><path d="M0 -4.23L4.62 -6.01L0.82 -8.47L-3.79 -6.7Z" fill="#4433cc"/></g><g transform="translate(490.54,181.72)"><path d="M-3.79 -2.46L0 0V-50.77L-3.79 -53.24Z" fill="url(#gbl)"/><path d="M0 0L4.62 -1.78V-52.55L0 -50.77Z" fill="url(#gbf)"/><path d="M0 -50.77L4.62 -52.55L0.82 -55.01L-3.79 -53.24Z" fill="#34cb7c"/></g><g transform="translate(453.24,181.36)"><path d="M-3.79 -2.46L0 0V-80.39L-3.79 -82.85Z" fill="url(#gbl)"/><path d="M0 0L4.62 -1.78V-82.17L0 -80.39Z" fill="url(#gbf)"/><path d="M0 -80.39L4.62 -82.17L0.82 -84.63L-3.79 -82.85Z" fill="#f5e606"/></g><g transform="translate(415.94,181)"><path d="M-3.79 -2.46L0 0V-60.08L-3.79 -62.55Z" fill="url(#gbl)"/><path d="M0 0L4.62 -1.78V-61.86L0 -60.08Z" fill="url(#gbf)"/><path d="M0 -60.08L4.62 -61.86L0.82 -64.32L-3.79 -62.55Z" fill="#a3c726"/></g><g transform="translate(378.64,180.64)"><path d="M-3.79 -2.46L0 0V-5.92L-3.79 -8.39Z" fill="url(#gbl)"/><path d="M0 0L4.62 -1.78V-7.7L0 -5.92Z" fill="url(#gbf)"/><path d="M0 -5.92L4.62 -7.7L0.82 -10.16L-3.79 -8.39Z" fill="#4437d9"/></g><g transform="translate(463.75,182.22)"><path d="M-3.79 -2.46L0 0V-71.08L-3.79 -73.55Z" fill="url(#gbl)"/><path d="M0 0L4.62 -1.78V-72.86L0 -71.08Z" fill="url(#gbf)"/><path d="M0 -71.08L4.62 -72.86L0.82 -75.32L-3.79 -73.55Z" fill="#feb320"/></g><g transform="translate(426.45,181.86)"><path d="M-3.79 -2.46L0 0V-74.47L-3.79 -76.93Z" fill="url(#gbl)"/><path d="M0 0L4.62 -1.78V-76.24L0 -74.47Z" fill="url(#gbf)"/><path d="M0 -74.47L4.62 -76.24L0.82 -78.71L-3.79 -76.93Z" fill="#fdc513"/></g><g transform="translate(389.15,181.5)"><path d="M-3.79 -2.46L0 0V-22L-3.79 -24.47Z" fill="url(#gbl)"/><path d="M0 0L4.62 -1.78V-23.78L0 -22Z" fill="url(#gbf)"/><path d="M0 -22L4.62 -23.78L0.82 -26.24L-3.79 -24.47Z" fill="#1e73fb"/></g><g transform="translate(474.26,183.08)"><path d="M-3.79 -2.46L0 0V-59.24L-3.79 -61.7Z" fill="url(#gbl)"/><path d="M0 0L4.62 -1.78V-61.01L0 -59.24Z" fill="url(#gbf)"/><path d="M0 -59.24L4.62 -61.01L0.82 -63.48L-3.79 -61.7Z" fill="#99c92d"/></g><g transform="translate(436.96,182.72)"><path d="M-3.79 -2.46L0 0V-80.39L-3.79 -82.85Z" fill="url(#gbl)"/><path d="M0 0L4.62 -1.78V-82.17L0 -80.39Z" fill="url(#gbf)"/><path d="M0 -80.39L4.62 -82.17L0.82 -84.63L-3.79 -82.85Z" fill="#f5e606"/></g><g transform="translate(399.66,182.36)"><path d="M-3.79 -2.46L0 0V-33.85L-3.79 -36.31Z" fill="url(#gbl)"/><path d="M0 0L4.62 -1.78V-35.62L0 -33.85Z" fill="url(#gbf)"/><path d="M0 -33.85L4.62 -35.62L0.82 -38.09L-3.79 -36.31Z" fill="#00a3df"/></g><g transform="translate(362.36,182)"><path d="M-3.79 -2.46L0 0V-4.23L-3.79 -6.7Z" fill="url(#gbl)"/><path d="M0 0L4.62 -1.78V-6.01L0 -4.23Z" fill="url(#gbf)"/><path d="M0 -4.23L4.62 -6.01L0.82 -8.47L-3.79 -6.7Z" fill="#4433cc"/></g><g transform="translate(484.77,183.94)"><path d="M-3.79 -2.46L0 0V-58.39L-3.79 -60.85Z" fill="url(#gbl)"/><path d="M0 0L4.62 -1.78V-60.16L0 -58.39Z" fill="url(#gbf)"/><path d="M0 -58.39L4.62 -60.16L0.82 -62.63L-3.79 -60.85Z" fill="#8eca35"/></g><g transform="translate(447.47,183.58)"><path d="M-3.79 -2.46L0 0V-80.39L-3.79 -82.85Z" fill="url(#gbl)"/><path d="M0 0L4.62 -1.78V-82.17L0 -80.39Z" fill="url(#gbf)"/><path d="M0 -80.39L4.62 -82.17L0.82 -84.63L-3.79 -82.85Z" fill="#f5e606"/></g><g transform="translate(410.17,183.22)"><path d="M-3.79 -2.46L0 0V-50.77L-3.79 -53.24Z" fill="url(#gbl)"/><path d="M0 0L4.62 -1.78V-52.55L0 -50.77Z" fill="url(#gbf)"/><path d="M0 -50.77L4.62 -52.55L0.82 -55.01L-3.79 -53.24Z" fill="#34cb7c"/></g><g transform="translate(372.87,182.86)"><path d="M-3.79 -2.46L0 0V-4.23L-3.79 -6.7Z" fill="url(#gbl)"/><path d="M0 0L4.62 -1.78V-6.01L0 -4.23Z" fill="url(#gbf)"/><path d="M0 -4.23L4.62 -6.01L0.82 -8.47L-3.79 -6.7Z" fill="#4433cc"/></g><g transform="translate(457.98,184.44)"><path d="M-3.79 -2.46L0 0V-71.08L-3.79 -73.55Z" fill="url(#gbl)"/><path d="M0 0L4.62 -1.78V-72.86L0 -71.08Z" fill="url(#gbf)"/><path d="M0 -71.08L4.62 -72.86L0.82 -75.32L-3.79 -73.55Z" fill="#feb320"/></g><g transform="translate(420.68,184.08)"><path d="M-3.79 -2.46L0 0V-71.08L-3.79 -73.55Z" fill="url(#gbl)"/><path d="M0 0L4.62 -1.78V-72.86L0 -71.08Z" fill="url(#gbf)"/><path d="M0 -71.08L4.62 -72.86L0.82 -75.32L-3.79 -73.55Z" fill="#feb320"/></g><g transform="translate(383.38,183.72)"><path d="M-3.79 -2.46L0 0V-18.62L-3.79 -21.08Z" fill="url(#gbl)"/><path d="M0 0L4.62 -1.78V-20.39L0 -18.62Z" fill="url(#gbf)"/><path d="M0 -18.62L4.62 -20.39L0.82 -22.86L-3.79 -21.08Z" fill="#3164ff"/></g><g transform="translate(468.49,185.3)"><path d="M-3.79 -2.46L0 0V-64.31L-3.79 -66.78Z" fill="url(#gbl)"/><path d="M0 0L4.62 -1.78V-66.09L0 -64.31Z" fill="url(#gbf)"/><path d="M0 -64.31L4.62 -66.09L0.82 -68.55L-3.79 -66.78Z" fill="#d0bd0e"/></g><g transform="translate(431.19,184.94)"><path d="M-3.79 -2.46L0 0V-74.47L-3.79 -76.93Z" fill="url(#gbl)"/><path d="M0 0L4.62 -1.78V-76.24L0 -74.47Z" fill="url(#gbf)"/><path d="M0 -74.47L4.62 -76.24L0.82 -78.71L-3.79 -76.93Z" fill="#fdc513"/></g><g transform="translate(393.89,184.58)"><path d="M-3.79 -2.46L0 0V-27.93L-3.79 -30.39Z" fill="url(#gbl)"/><path d="M0 0L4.62 -1.78V-29.7L0 -27.93Z" fill="url(#gbf)"/><path d="M0 -27.93L4.62 -29.7L0.82 -32.17L-3.79 -30.39Z" fill="#108bec"/></g><g transform="translate(479,186.16)"><path d="M-3.79 -2.46L0 0V-63.47L-3.79 -65.93Z" fill="url(#gbl)"/><path d="M0 0L4.62 -1.78V-65.24L0 -63.47Z" fill="url(#gbf)"/><path d="M0 -63.47L4.62 -65.24L0.82 -67.71L-3.79 -65.93Z" fill="#c8c011"/></g><g transform="translate(441.7,185.8)"><path d="M-3.79 -2.46L0 0V-78.7L-3.79 -81.16Z" fill="url(#gbl)"/><path d="M0 0L4.62 -1.78V-80.47L0 -78.7Z" fill="url(#gbf)"/><path d="M0 -78.7L4.62 -80.47L0.82 -82.94L-3.79 -81.16Z" fill="#f6dd09"/></g><g transform="translate(404.4,185.44)"><path d="M-3.79 -2.46L0 0V-42.31L-3.79 -44.77Z" fill="url(#gbl)"/><path d="M0 0L4.62 -1.78V-44.09L0 -42.31Z" fill="url(#gbf)"/><path d="M0 -42.31L4.62 -44.09L0.82 -46.55L-3.79 -44.77Z" fill="#00beb9"/></g><g transform="translate(367.1,185.08)"><path d="M-3.79 -2.46L0 0V-4.23L-3.79 -6.7Z" fill="url(#gbl)"/><path d="M0 0L4.62 -1.78V-6.01L0 -4.23Z" fill="url(#gbf)"/><path d="M0 -4.23L4.62 -6.01L0.82 -8.47L-3.79 -6.7Z" fill="#4433cc"/></g><g transform="translate(452.21,186.66)"><path d="M-3.79 -2.46L0 0V-71.08L-3.79 -73.55Z" fill="url(#gbl)"/><path d="M0 0L4.62 -1.78V-72.86L0 -71.08Z" fill="url(#gbf)"/><path d="M0 -71.08L4.62 -72.86L0.82 -75.32L-3.79 -73.55Z" fill="#feb320"/></g><g transform="translate(414.91,186.3)"><path d="M-3.79 -2.46L0 0V-62.62L-3.79 -65.08Z" fill="url(#gbl)"/><path d="M0 0L4.62 -1.78V-64.4L0 -62.62Z" fill="url(#gbf)"/><path d="M0 -62.62L4.62 -64.4L0.82 -66.86L-3.79 -65.08Z" fill="#c0c316"/></g><g transform="translate(377.61,185.94)"><path d="M-3.79 -2.46L0 0V-16.08L-3.79 -18.54Z" fill="url(#gbl)"/><path d="M0 0L4.62 -1.78V-17.85L0 -16.08Z" fill="url(#gbf)"/><path d="M0 -16.08L4.62 -17.85L0.82 -20.32L-3.79 -18.54Z" fill="#3a5afd"/></g><g transform="translate(462.72,187.52)"><path d="M-3.79 -2.46L0 0V-65.16L-3.79 -67.62Z" fill="url(#gbl)"/><path d="M0 0L4.62 -1.78V-66.93L0 -65.16Z" fill="url(#gbf)"/><path d="M0 -65.16L4.62 -66.93L0.82 -69.4L-3.79 -67.62Z" fill="#d7ba0d"/></g><g transform="translate(425.42,187.16)"><path d="M-3.79 -2.46L0 0V-71.08L-3.79 -73.55Z" fill="url(#gbl)"/><path d="M0 0L4.62 -1.78V-72.86L0 -71.08Z" fill="url(#gbf)"/><path d="M0 -71.08L4.62 -72.86L0.82 -75.32L-3.79 -73.55Z" fill="#feb320"/></g><g transform="translate(388.12,186.8)"><path d="M-3.79 -2.46L0 0V-24.54L-3.79 -27Z" fill="url(#gbl)"/><path d="M0 0L4.62 -1.78V-26.32L0 -24.54Z" fill="url(#gbf)"/><path d="M0 -24.54L4.62 -26.32L0.82 -28.78L-3.79 -27Z" fill="#197df6"/></g><g transform="translate(473.23,188.38)"><path d="M-3.79 -2.46L0 0V-67.7L-3.79 -70.16Z" fill="url(#gbl)"/><path d="M0 0L4.62 -1.78V-69.47L0 -67.7Z" fill="url(#gbf)"/><path d="M0 -67.7L4.62 -69.47L0.82 -71.94L-3.79 -70.16Z" fill="#eab314"/></g><g transform="translate(435.93,188.02)"><path d="M-3.79 -2.46L0 0V-74.47L-3.79 -76.93Z" fill="url(#gbl)"/><path d="M0 0L4.62 -1.78V-76.24L0 -74.47Z" fill="url(#gbf)"/><path d="M0 -74.47L4.62 -76.24L0.82 -78.71L-3.79 -76.93Z" fill="#fdc513"/></g><g transform="translate(398.63,187.66)"><path d="M-3.79 -2.46L0 0V-35.54L-3.79 -38.01Z" fill="url(#gbl)"/><path d="M0 0L4.62 -1.78V-37.32L0 -35.54Z" fill="url(#gbf)"/><path d="M0 -35.54L4.62 -37.32L0.82 -39.78L-3.79 -38.01Z" fill="#00abd9"/></g><g transform="translate(446.44,188.88)"><path d="M-3.79 -2.46L0 0V-71.08L-3.79 -73.55Z" fill="url(#gbl)"/><path d="M0 0L4.62 -1.78V-72.86L0 -71.08Z" fill="url(#gbf)"/><path d="M0 -71.08L4.62 -72.86L0.82 -75.32L-3.79 -73.55Z" fill="#feb320"/></g><g transform="translate(409.14,188.52)"><path d="M-3.79 -2.46L0 0V-49.08L-3.79 -51.54Z" fill="url(#gbl)"/><path d="M0 0L4.62 -1.78V-50.86L0 -49.08Z" fill="url(#gbf)"/><path d="M0 -49.08L4.62 -50.86L0.82 -53.32L-3.79 -51.54Z" fill="#26c98a"/></g><g transform="translate(371.84,188.16)"><path d="M-3.79 -2.46L0 0V-15.23L-3.79 -17.7Z" fill="url(#gbl)"/><path d="M0 0L4.62 -1.78V-17.01L0 -15.23Z" fill="url(#gbf)"/><path d="M0 -15.23L4.62 -17.01L0.82 -19.47L-3.79 -17.7Z" fill="#3c57fb"/></g><g transform="translate(456.95,189.74)"><path d="M-3.79 -2.46L0 0V-65.16L-3.79 -67.62Z" fill="url(#gbl)"/><path d="M0 0L4.62 -1.78V-66.93L0 -65.16Z" fill="url(#gbf)"/><path d="M0 -65.16L4.62 -66.93L0.82 -69.4L-3.79 -67.62Z" fill="#d7ba0d"/></g><g transform="translate(419.65,189.38)"><path d="M-3.79 -2.46L0 0V-62.62L-3.79 -65.08Z" fill="url(#gbl)"/><path d="M0 0L4.62 -1.78V-64.4L0 -62.62Z" fill="url(#gbf)"/><path d="M0 -62.62L4.62 -64.4L0.82 -66.86L-3.79 -65.08Z" fill="#c0c316"/></g><g transform="translate(382.35,189.02)"><path d="M-3.79 -2.46L0 0V-22L-3.79 -24.47Z" fill="url(#gbl)"/><path d="M0 0L4.62 -1.78V-23.78L0 -22Z" fill="url(#gbf)"/><path d="M0 -22L4.62 -23.78L0.82 -26.24L-3.79 -24.47Z" fill="#1e73fb"/></g><g transform="translate(467.46,190.6)"><path d="M-3.79 -2.46L0 0V-70.24L-3.79 -72.7Z" fill="url(#gbl)"/><path d="M0 0L4.62 -1.78V-72.01L0 -70.24Z" fill="url(#gbf)"/><path d="M0 -70.24L4.62 -72.01L0.82 -74.48L-3.79 -72.7Z" fill="#fab122"/></g><g transform="translate(430.16,190.24)"><path d="M-3.79 -2.46L0 0V-71.08L-3.79 -73.55Z" fill="url(#gbl)"/><path d="M0 0L4.62 -1.78V-72.86L0 -71.08Z" fill="url(#gbf)"/><path d="M0 -71.08L4.62 -72.86L0.82 -75.32L-3.79 -73.55Z" fill="#feb320"/></g><g transform="translate(392.86,189.88)"><path d="M-3.79 -2.46L0 0V-26.23L-3.79 -28.7Z" fill="url(#gbl)"/><path d="M0 0L4.62 -1.78V-28.01L0 -26.23Z" fill="url(#gbf)"/><path d="M0 -26.23L4.62 -28.01L0.82 -30.47L-3.79 -28.7Z" fill="#1684f0"/></g><g transform="translate(440.67,191.1)"><path d="M-3.79 -2.46L0 0V-67.7L-3.79 -70.16Z" fill="url(#gbl)"/><path d="M0 0L4.62 -1.78V-69.47L0 -67.7Z" fill="url(#gbf)"/><path d="M0 -67.7L4.62 -69.47L0.82 -71.94L-3.79 -70.16Z" fill="#eab314"/></g><g transform="translate(403.37,190.74)"><path d="M-3.79 -2.46L0 0V-38.08L-3.79 -40.54Z" fill="url(#gbl)"/><path d="M0 0L4.62 -1.78V-39.86L0 -38.08Z" fill="url(#gbf)"/><path d="M0 -38.08L4.62 -39.86L0.82 -42.32L-3.79 -40.54Z" fill="#00b5ce"/></g><g transform="translate(451.18,191.96)"><path d="M-3.79 -2.46L0 0V-64.31L-3.79 -66.78Z" fill="url(#gbl)"/><path d="M0 0L4.62 -1.78V-66.09L0 -64.31Z" fill="url(#gbf)"/><path d="M0 -64.31L4.62 -66.09L0.82 -68.55L-3.79 -66.78Z" fill="#d0bd0e"/></g><g transform="translate(413.88,191.6)"><path d="M-3.79 -2.46L0 0V-49.08L-3.79 -51.54Z" fill="url(#gbl)"/><path d="M0 0L4.62 -1.78V-50.86L0 -49.08Z" fill="url(#gbf)"/><path d="M0 -49.08L4.62 -50.86L0.82 -53.32L-3.79 -51.54Z" fill="#26c98a"/></g><g transform="translate(376.58,191.24)"><path d="M-3.79 -2.46L0 0V-21.16L-3.79 -23.62Z" fill="url(#gbl)"/><path d="M0 0L4.62 -1.78V-22.93L0 -21.16Z" fill="url(#gbf)"/><path d="M0 -21.16L4.62 -22.93L0.82 -25.4L-3.79 -23.62Z" fill="#226ffd"/></g><g transform="translate(461.69,192.82)"><path d="M-3.79 -2.46L0 0V-70.24L-3.79 -72.7Z" fill="url(#gbl)"/><path d="M0 0L4.62 -1.78V-72.01L0 -70.24Z" fill="url(#gbf)"/><path d="M0 -70.24L4.62 -72.01L0.82 -74.48L-3.79 -72.7Z" fill="#fab122"/></g><g transform="translate(424.39,192.46)"><path d="M-3.79 -2.46L0 0V-59.24L-3.79 -61.7Z" fill="url(#gbl)"/><path d="M0 0L4.62 -1.78V-61.01L0 -59.24Z" fill="url(#gbf)"/><path d="M0 -59.24L4.62 -61.01L0.82 -63.48L-3.79 -61.7Z" fill="#99c92d"/></g><g transform="translate(387.09,192.1)"><path d="M-3.79 -2.46L0 0V-24.54L-3.79 -27Z" fill="url(#gbl)"/><path d="M0 0L4.62 -1.78V-26.32L0 -24.54Z" fill="url(#gbf)"/><path d="M0 -24.54L4.62 -26.32L0.82 -28.78L-3.79 -27Z" fill="#197df6"/></g><g transform="translate(434.9,193.32)"><path d="M-3.79 -2.46L0 0V-59.24L-3.79 -61.7Z" fill="url(#gbl)"/><path d="M0 0L4.62 -1.78V-61.01L0 -59.24Z" fill="url(#gbf)"/><path d="M0 -59.24L4.62 -61.01L0.82 -63.48L-3.79 -61.7Z" fill="#99c92d"/></g><g transform="translate(397.6,192.96)"><path d="M-3.79 -2.46L0 0V-27.93L-3.79 -30.39Z" fill="url(#gbl)"/><path d="M0 0L4.62 -1.78V-29.7L0 -27.93Z" fill="url(#gbf)"/><path d="M0 -27.93L4.62 -29.7L0.82 -32.17L-3.79 -30.39Z" fill="#108bec"/></g><g transform="translate(445.41,194.18)"><path d="M-3.79 -2.46L0 0V-59.24L-3.79 -61.7Z" fill="url(#gbl)"/><path d="M0 0L4.62 -1.78V-61.01L0 -59.24Z" fill="url(#gbf)"/><path d="M0 -59.24L4.62 -61.01L0.82 -63.48L-3.79 -61.7Z" fill="#99c92d"/></g><g transform="translate(408.11,193.82)"><path d="M-3.79 -2.46L0 0V-39.77L-3.79 -42.24Z" fill="url(#gbl)"/><path d="M0 0L4.62 -1.78V-41.55L0 -39.77Z" fill="url(#gbf)"/><path d="M0 -39.77L4.62 -41.55L0.82 -44.01L-3.79 -42.24Z" fill="#00b9c6"/></g><g transform="translate(455.92,195.04)"><path d="M-3.79 -2.46L0 0V-67.7L-3.79 -70.16Z" fill="url(#gbl)"/><path d="M0 0L4.62 -1.78V-69.47L0 -67.7Z" fill="url(#gbf)"/><path d="M0 -67.7L4.62 -69.47L0.82 -71.94L-3.79 -70.16Z" fill="#eab314"/></g><g transform="translate(418.62,194.68)"><path d="M-3.79 -2.46L0 0V-49.08L-3.79 -51.54Z" fill="url(#gbl)"/><path d="M0 0L4.62 -1.78V-50.86L0 -49.08Z" fill="url(#gbf)"/><path d="M0 -49.08L4.62 -50.86L0.82 -53.32L-3.79 -51.54Z" fill="#26c98a"/></g><g transform="translate(381.32,194.32)"><path d="M-3.79 -2.46L0 0V-24.54L-3.79 -27Z" fill="url(#gbl)"/><path d="M0 0L4.62 -1.78V-26.32L0 -24.54Z" fill="url(#gbf)"/><path d="M0 -24.54L4.62 -26.32L0.82 -28.78L-3.79 -27Z" fill="#197df6"/></g><g transform="translate(429.13,195.54)"><path d="M-3.79 -2.46L0 0V-50.77L-3.79 -53.24Z" fill="url(#gbl)"/><path d="M0 0L4.62 -1.78V-52.55L0 -50.77Z" fill="url(#gbf)"/><path d="M0 -50.77L4.62 -52.55L0.82 -55.01L-3.79 -53.24Z" fill="#34cb7c"/></g><g transform="translate(391.83,195.18)"><path d="M-3.79 -2.46L0 0V-25.39L-3.79 -27.85Z" fill="url(#gbl)"/><path d="M0 0L4.62 -1.78V-27.16L0 -25.39Z" fill="url(#gbf)"/><path d="M0 -25.39L4.62 -27.16L0.82 -29.63L-3.79 -27.85Z" fill="#1881f3"/></g><g transform="translate(439.64,196.4)"><path d="M-3.79 -2.46L0 0V-50.77L-3.79 -53.24Z" fill="url(#gbl)"/><path d="M0 0L4.62 -1.78V-52.55L0 -50.77Z" fill="url(#gbf)"/><path d="M0 -50.77L4.62 -52.55L0.82 -55.01L-3.79 -53.24Z" fill="#34cb7c"/></g><g transform="translate(402.34,196.04)"><path d="M-3.79 -2.46L0 0V-27.93L-3.79 -30.39Z" fill="url(#gbl)"/><path d="M0 0L4.62 -1.78V-29.7L0 -27.93Z" fill="url(#gbf)"/><path d="M0 -27.93L4.62 -29.7L0.82 -32.17L-3.79 -30.39Z" fill="#108bec"/></g><g transform="translate(450.15,197.26)"><path d="M-3.79 -2.46L0 0V-63.47L-3.79 -65.93Z" fill="url(#gbl)"/><path d="M0 0L4.62 -1.78V-65.24L0 -63.47Z" fill="url(#gbf)"/><path d="M0 -63.47L4.62 -65.24L0.82 -67.71L-3.79 -65.93Z" fill="#c8c011"/></g><g transform="translate(412.85,196.9)"><path d="M-3.79 -2.46L0 0V-40.62L-3.79 -43.08Z" fill="url(#gbl)"/><path d="M0 0L4.62 -1.78V-42.39L0 -40.62Z" fill="url(#gbf)"/><path d="M0 -40.62L4.62 -42.39L0.82 -44.86L-3.79 -43.08Z" fill="#00bbc2"/></g><g transform="translate(423.36,197.76)"><path d="M-3.79 -2.46L0 0V-40.62L-3.79 -43.08Z" fill="url(#gbl)"/><path d="M0 0L4.62 -1.78V-42.39L0 -40.62Z" fill="url(#gbf)"/><path d="M0 -40.62L4.62 -42.39L0.82 -44.86L-3.79 -43.08Z" fill="#00bbc2"/></g><g transform="translate(386.06,197.4)"><path d="M-3.79 -2.46L0 0V-25.39L-3.79 -27.85Z" fill="url(#gbl)"/><path d="M0 0L4.62 -1.78V-27.16L0 -25.39Z" fill="url(#gbf)"/><path d="M0 -25.39L4.62 -27.16L0.82 -29.63L-3.79 -27.85Z" fill="#1881f3"/></g><g transform="translate(433.87,198.62)"><path d="M-3.79 -2.46L0 0V-44.85L-3.79 -47.31Z" fill="url(#gbl)"/><path d="M0 0L4.62 -1.78V-46.63L0 -44.85Z" fill="url(#gbf)"/><path d="M0 -44.85L4.62 -46.63L0.82 -49.09L-3.79 -47.31Z" fill="#10c2a8"/></g><g transform="translate(396.57,198.26)"><path d="M-3.79 -2.46L0 0V-25.39L-3.79 -27.85Z" fill="url(#gbl)"/><path d="M0 0L4.62 -1.78V-27.16L0 -25.39Z" fill="url(#gbf)"/><path d="M0 -25.39L4.62 -27.16L0.82 -29.63L-3.79 -27.85Z" fill="#1881f3"/></g><g transform="translate(444.38,199.48)"><path d="M-3.79 -2.46L0 0V-58.39L-3.79 -60.85Z" fill="url(#gbl)"/><path d="M0 0L4.62 -1.78V-60.16L0 -58.39Z" fill="url(#gbf)"/><path d="M0 -58.39L4.62 -60.16L0.82 -62.63L-3.79 -60.85Z" fill="#8eca35"/></g><g transform="translate(407.08,199.12)"><path d="M-3.79 -2.46L0 0V-27.08L-3.79 -29.54Z" fill="url(#gbl)"/><path d="M0 0L4.62 -1.78V-28.85L0 -27.08Z" fill="url(#gbf)"/><path d="M0 -27.08L4.62 -28.85L0.82 -31.32L-3.79 -29.54Z" fill="#1488ee"/></g><g transform="translate(417.59,199.98)"><path d="M-3.79 -2.46L0 0V-37.23L-3.79 -39.7Z" fill="url(#gbl)"/><path d="M0 0L4.62 -1.78V-39.01L0 -37.23Z" fill="url(#gbf)"/><path d="M0 -37.23L4.62 -39.01L0.82 -41.47L-3.79 -39.7Z" fill="#00b2d2"/></g><g transform="translate(428.1,200.84)"><path d="M-3.79 -2.46L0 0V-39.77L-3.79 -42.24Z" fill="url(#gbl)"/><path d="M0 0L4.62 -1.78V-41.55L0 -39.77Z" fill="url(#gbf)"/><path d="M0 -39.77L4.62 -41.55L0.82 -44.01L-3.79 -42.24Z" fill="#00b9c6"/></g><g transform="translate(390.8,200.48)"><path d="M0 0L4.62 -1.78L0.82 -4.24L-3.79 -2.46Z" fill="#3e26a8"/></g><g transform="translate(438.61,201.7)"><path d="M-3.79 -2.46L0 0V-50.77L-3.79 -53.24Z" fill="url(#gbl)"/><path d="M0 0L4.62 -1.78V-52.55L0 -50.77Z" fill="url(#gbf)"/><path d="M0 -50.77L4.62 -52.55L0.82 -55.01L-3.79 -53.24Z" fill="#34cb7c"/></g><g transform="translate(401.31,201.34)"><path d="M0 0L4.62 -1.78L0.82 -4.24L-3.79 -2.46Z" fill="#3e26a8"/></g><g transform="translate(411.82,202.2)"><path d="M0 0L4.62 -1.78L0.82 -4.24L-3.79 -2.46Z" fill="#3e26a8"/></g><g transform="translate(422.33,203.06)"><path d="M0 0L4.62 -1.78L0.82 -4.24L-3.79 -2.46Z" fill="#3e26a8"/></g><g transform="translate(432.84,203.92)"><path d="M0 0L4.62 -1.78L0.82 -4.24L-3.79 -2.46Z" fill="#3e26a8"/></g><g transform="translate(395.54,203.56)"><path d="M0 0L4.62 -1.78L0.82 -4.24L-3.79 -2.46Z" fill="#3e26a8"/></g><g transform="translate(406.05,204.42)"><path d="M0 0L4.62 -1.78L0.82 -4.24L-3.79 -2.46Z" fill="#3e26a8"/></g><g transform="translate(416.56,205.28)"><path d="M0 0L4.62 -1.78L0.82 -4.24L-3.79 -2.46Z" fill="#3e26a8"/></g><g transform="translate(427.07,206.14)"><path d="M0 0L4.62 -1.78L0.82 -4.24L-3.79 -2.46Z" fill="#3e26a8"/></g><g transform="translate(400.28,206.64)"><path d="M0 0L4.62 -1.78L0.82 -4.24L-3.79 -2.46Z" fill="#3e26a8"/></g><g transform="translate(410.79,207.5)"><path d="M0 0L4.62 -1.78L0.82 -4.24L-3.79 -2.46Z" fill="#3e26a8"/></g><g transform="translate(421.3,208.36)"><path d="M0 0L4.62 -1.78L0.82 -4.24L-3.79 -2.46Z" fill="#3e26a8"/></g><g transform="translate(405.02,209.72)"><path d="M0 0L4.62 -1.78L0.82 -4.24L-3.79 -2.46Z" fill="#3e26a8"/></g><g transform="translate(415.53,210.58)"><path d="M0 0L4.62 -1.78L0.82 -4.24L-3.79 -2.46Z" fill="#3e26a8"/></g><g transform="translate(409.76,212.8)"><path d="M0 0L4.62 -1.78L0.82 -4.24L-3.79 -2.46Z" fill="#3e26a8"/></g></g>
<path d="M309.6 63.7L309.6 151.3L409.14 215.98L530.31 169.36" fill="none" stroke="#9a9a9a" stroke-width="0.8"/>
<path d="M309.6 151.3h1.8M309.6 107.5h1.8M309.6 63.7h1.8" stroke="#9a9a9a" stroke-width="0.6"/>
<text x="304.1" y="150.5" font-size="7.2" text-anchor="end" fill="#333333" >0</text>
<text x="304.1" y="106.7" font-size="7.2" text-anchor="end" fill="#333333" >0.5</text>
<text x="304.1" y="62.9" font-size="7.2" text-anchor="end" fill="#333333" >1</text>
<text x="303.8" y="161.1" font-size="7.2" text-anchor="end" fill="#333333" >0</text>
<text x="414.54" y="227.08" font-size="7.2" text-anchor="start" fill="#333333" >0</text>
<text x="327.5" y="176.5" font-size="7.2" text-anchor="end" fill="#333333" >5</text>
<text x="443.39" y="215.98" font-size="7.2" text-anchor="start" fill="#333333" >5</text>
<text x="351.2" y="191.9" font-size="7.2" text-anchor="end" fill="#333333" >10</text>
<text x="472.24" y="204.88" font-size="7.2" text-anchor="start" fill="#333333" >10</text>
<text x="374.9" y="207.3" font-size="7.2" text-anchor="end" fill="#333333" >15</text>
<text x="501.09" y="193.78" font-size="7.2" text-anchor="start" fill="#333333" >15</text>
<text x="398.6" y="222.7" font-size="7.2" text-anchor="end" fill="#333333" >20</text>
<text x="529.94" y="182.68" font-size="7.2" text-anchor="start" fill="#333333" >20</text>
<text x="288.6" y="51.2" font-size="8.5" fill="#333333">×10<tspan font-size="6" dy="-3.6">-3</tspan></text>
<text x="0" y="0" font-size="9.2" text-anchor="middle" fill="#333333" transform="translate(288.7,108.5) rotate(-90)">Sy</text>
<text x="351" y="222.5" font-size="9.2" text-anchor="middle" fill="#333333" >Rows</text>
<text x="477.3" y="227.2" font-size="9.2" text-anchor="middle" fill="#333333" >Columns</text>
<text x="295.2" y="264.6" font-size="12.4" text-anchor="middle" fill="#1a1a1a" >(<tspan font-weight="bold">b</tspan>)</text>
<g stroke="#000" stroke-opacity="0.45" stroke-width="0.5"><rect x="35.79" y="306.39" width="7.05" height="7.45" fill="#3e26a8"/><rect x="44.6" y="306.39" width="7.05" height="7.45" fill="#3e26a8"/><rect x="53.42" y="306.39" width="7.05" height="7.45" fill="#3e26a8"/><rect x="62.23" y="306.39" width="7.05" height="7.45" fill="#3e26a8"/><rect x="71.05" y="306.39" width="7.05" height="7.45" fill="#3e26a8"/><rect x="79.86" y="306.39" width="7.05" height="7.45" fill="#3560fe"/><rect x="88.67" y="306.39" width="7.05" height="7.45" fill="#226ffd"/><rect x="97.49" y="306.39" width="7.05" height="7.45" fill="#1e73fb"/><rect x="106.3" y="306.39" width="7.05" height="7.45" fill="#1c76fa"/><rect x="115.12" y="306.39" width="7.05" height="7.45" fill="#1a7af8"/><rect x="123.93" y="306.39" width="7.05" height="7.45" fill="#1a7af8"/><rect x="132.75" y="306.39" width="7.05" height="7.45" fill="#1c76fa"/><rect x="141.56" y="306.39" width="7.05" height="7.45" fill="#1e73fb"/><rect x="150.37" y="306.39" width="7.05" height="7.45" fill="#226ffd"/><rect x="159.19" y="306.39" width="7.05" height="7.45" fill="#3560fe"/><rect x="168" y="306.39" width="7.05" height="7.45" fill="#3e26a8"/><rect x="176.82" y="306.39" width="7.05" height="7.45" fill="#3e26a8"/><rect x="185.63" y="306.39" width="7.05" height="7.45" fill="#3e26a8"/><rect x="194.45" y="306.39" width="7.05" height="7.45" fill="#3e26a8"/><rect x="203.26" y="306.39" width="7.05" height="7.45" fill="#3e26a8"/><rect x="35.79" y="315.7" width="7.05" height="7.45" fill="#3e26a8"/><rect x="44.6" y="315.7" width="7.05" height="7.45" fill="#3e26a8"/><rect x="53.42" y="315.7" width="7.05" height="7.45" fill="#3e26a8"/><rect x="62.23" y="315.7" width="7.05" height="7.45" fill="#3e26a8"/><rect x="71.05" y="315.7" width="7.05" height="7.45" fill="#3c57fb"/><rect x="79.86" y="315.7" width="7.05" height="7.45" fill="#1c76fa"/><rect x="88.67" y="315.7" width="7.05" height="7.45" fill="#1881f3"/><rect x="97.49" y="315.7" width="7.05" height="7.45" fill="#1684f0"/><rect x="106.3" y="315.7" width="7.05" height="7.45" fill="#0c92e7"/><rect x="115.12" y="315.7" width="7.05" height="7.45" fill="#0a95e6"/><rect x="123.93" y="315.7" width="7.05" height="7.45" fill="#0a95e6"/><rect x="132.75" y="315.7" width="7.05" height="7.45" fill="#0c92e7"/><rect x="141.56" y="315.7" width="7.05" height="7.45" fill="#1684f0"/><rect x="150.37" y="315.7" width="7.05" height="7.45" fill="#1881f3"/><rect x="159.19" y="315.7" width="7.05" height="7.45" fill="#1c76fa"/><rect x="168" y="315.7" width="7.05" height="7.45" fill="#3c57fb"/><rect x="176.82" y="315.7" width="7.05" height="7.45" fill="#3e26a8"/><rect x="185.63" y="315.7" width="7.05" height="7.45" fill="#3e26a8"/><rect x="194.45" y="315.7" width="7.05" height="7.45" fill="#3e26a8"/><rect x="203.26" y="315.7" width="7.05" height="7.45" fill="#3e26a8"/><rect x="35.79" y="325.02" width="7.05" height="7.45" fill="#3e26a8"/><rect x="44.6" y="325.02" width="7.05" height="7.45" fill="#3e26a8"/><rect x="53.42" y="325.02" width="7.05" height="7.45" fill="#3e26a8"/><rect x="62.23" y="325.02" width="7.05" height="7.45" fill="#385dfd"/><rect x="71.05" y="325.02" width="7.05" height="7.45" fill="#1a7af8"/><rect x="79.86" y="325.02" width="7.05" height="7.45" fill="#1881f3"/><rect x="88.67" y="325.02" width="7.05" height="7.45" fill="#108bec"/><rect x="97.49" y="325.02" width="7.05" height="7.45" fill="#0a95e6"/><rect x="106.3" y="325.02" width="7.05" height="7.45" fill="#019fe1"/><rect x="115.12" y="325.02" width="7.05" height="7.45" fill="#00a3df"/><rect x="123.93" y="325.02" width="7.05" height="7.45" fill="#00a3df"/><rect x="132.75" y="325.02" width="7.05" height="7.45" fill="#019fe1"/><rect x="141.56" y="325.02" width="7.05" height="7.45" fill="#0a95e6"/><rect x="150.37" y="325.02" width="7.05" height="7.45" fill="#108bec"/><rect x="159.19" y="325.02" width="7.05" height="7.45" fill="#1881f3"/><rect x="168" y="325.02" width="7.05" height="7.45" fill="#1a7af8"/><rect x="176.82" y="325.02" width="7.05" height="7.45" fill="#385dfd"/><rect x="185.63" y="325.02" width="7.05" height="7.45" fill="#3e26a8"/><rect x="194.45" y="325.02" width="7.05" height="7.45" fill="#3e26a8"/><rect x="203.26" y="325.02" width="7.05" height="7.45" fill="#3e26a8"/><rect x="35.79" y="334.33" width="7.05" height="7.45" fill="#3e26a8"/><rect x="44.6" y="334.33" width="7.05" height="7.45" fill="#3e26a8"/><rect x="53.42" y="334.33" width="7.05" height="7.45" fill="#385dfd"/><rect x="62.23" y="334.33" width="7.05" height="7.45" fill="#1a7af8"/><rect x="71.05" y="334.33" width="7.05" height="7.45" fill="#1881f3"/><rect x="79.86" y="334.33" width="7.05" height="7.45" fill="#059ce3"/><rect x="88.67" y="334.33" width="7.05" height="7.45" fill="#00abd9"/><rect x="97.49" y="334.33" width="7.05" height="7.45" fill="#00b9c6"/><rect x="106.3" y="334.33" width="7.05" height="7.45" fill="#00beb9"/><rect x="115.12" y="334.33" width="7.05" height="7.45" fill="#01c0b3"/><rect x="123.93" y="334.33" width="7.05" height="7.45" fill="#01c0b3"/><rect x="132.75" y="334.33" width="7.05" height="7.45" fill="#00beb9"/><rect x="141.56" y="334.33" width="7.05" height="7.45" fill="#00b9c6"/><rect x="150.37" y="334.33" width="7.05" height="7.45" fill="#00abd9"/><rect x="159.19" y="334.33" width="7.05" height="7.45" fill="#059ce3"/><rect x="168" y="334.33" width="7.05" height="7.45" fill="#1881f3"/><rect x="176.82" y="334.33" width="7.05" height="7.45" fill="#1a7af8"/><rect x="185.63" y="334.33" width="7.05" height="7.45" fill="#385dfd"/><rect x="194.45" y="334.33" width="7.05" height="7.45" fill="#3e26a8"/><rect x="203.26" y="334.33" width="7.05" height="7.45" fill="#3e26a8"/><rect x="35.79" y="343.65" width="7.05" height="7.45" fill="#3e26a8"/><rect x="44.6" y="343.65" width="7.05" height="7.45" fill="#3d54fa"/><rect x="53.42" y="343.65" width="7.05" height="7.45" fill="#226ffd"/><rect x="62.23" y="343.65" width="7.05" height="7.45" fill="#1881f3"/><rect x="71.05" y="343.65" width="7.05" height="7.45" fill="#0a95e6"/><rect x="79.86" y="343.65" width="7.05" height="7.45" fill="#00aed6"/><rect x="88.67" y="343.65" width="7.05" height="7.45" fill="#00bbc2"/><rect x="97.49" y="343.65" width="7.05" height="7.45" fill="#15c4a3"/><rect x="106.3" y="343.65" width="7.05" height="7.45" fill="#26c98a"/><rect x="115.12" y="343.65" width="7.05" height="7.45" fill="#2cca83"/><rect x="123.93" y="343.65" width="7.05" height="7.45" fill="#2cca83"/><rect x="132.75" y="343.65" width="7.05" height="7.45" fill="#26c98a"/><rect x="141.56" y="343.65" width="7.05" height="7.45" fill="#15c4a3"/><rect x="150.37" y="343.65" width="7.05" height="7.45" fill="#00bbc2"/><rect x="159.19" y="343.65" width="7.05" height="7.45" fill="#00aed6"/><rect x="168" y="343.65" width="7.05" height="7.45" fill="#0a95e6"/><rect x="176.82" y="343.65" width="7.05" height="7.45" fill="#1881f3"/><rect x="185.63" y="343.65" width="7.05" height="7.45" fill="#226ffd"/><rect x="194.45" y="343.65" width="7.05" height="7.45" fill="#3d54fa"/><rect x="203.26" y="343.65" width="7.05" height="7.45" fill="#3e26a8"/><rect x="35.79" y="352.96" width="7.05" height="7.45" fill="#226ffd"/><rect x="44.6" y="352.96" width="7.05" height="7.45" fill="#1c76fa"/><rect x="53.42" y="352.96" width="7.05" height="7.45" fill="#1881f3"/><rect x="62.23" y="352.96" width="7.05" height="7.45" fill="#0c92e7"/><rect x="71.05" y="352.96" width="7.05" height="7.45" fill="#00aed6"/><rect x="79.86" y="352.96" width="7.05" height="7.45" fill="#15c4a3"/><rect x="88.67" y="352.96" width="7.05" height="7.45" fill="#26c98a"/><rect x="97.49" y="352.96" width="7.05" height="7.45" fill="#59cd5d"/><rect x="106.3" y="352.96" width="7.05" height="7.45" fill="#99c92d"/><rect x="115.12" y="352.96" width="7.05" height="7.45" fill="#adc620"/><rect x="123.93" y="352.96" width="7.05" height="7.45" fill="#adc620"/><rect x="132.75" y="352.96" width="7.05" height="7.45" fill="#99c92d"/><rect x="141.56" y="352.96" width="7.05" height="7.45" fill="#59cd5d"/><rect x="150.37" y="352.96" width="7.05" height="7.45" fill="#26c98a"/><rect x="159.19" y="352.96" width="7.05" height="7.45" fill="#15c4a3"/><rect x="168" y="352.96" width="7.05" height="7.45" fill="#00aed6"/><rect x="176.82" y="352.96" width="7.05" height="7.45" fill="#0c92e7"/><rect x="185.63" y="352.96" width="7.05" height="7.45" fill="#1881f3"/><rect x="194.45" y="352.96" width="7.05" height="7.45" fill="#1c76fa"/><rect x="203.26" y="352.96" width="7.05" height="7.45" fill="#226ffd"/><rect x="35.79" y="362.27" width="7.05" height="7.45" fill="#1c76fa"/><rect x="44.6" y="362.27" width="7.05" height="7.45" fill="#1c76fa"/><rect x="53.42" y="362.27" width="7.05" height="7.45" fill="#1684f0"/><rect x="62.23" y="362.27" width="7.05" height="7.45" fill="#019fe1"/><rect x="71.05" y="362.27" width="7.05" height="7.45" fill="#00beb9"/><rect x="79.86" y="362.27" width="7.05" height="7.45" fill="#2cca83"/><rect x="88.67" y="362.27" width="7.05" height="7.45" fill="#84cb3d"/><rect x="97.49" y="362.27" width="7.05" height="7.45" fill="#c8c011"/><rect x="106.3" y="362.27" width="7.05" height="7.45" fill="#f0b21a"/><rect x="115.12" y="362.27" width="7.05" height="7.45" fill="#f5b11f"/><rect x="123.93" y="362.27" width="7.05" height="7.45" fill="#f5b11f"/><rect x="132.75" y="362.27" width="7.05" height="7.45" fill="#f0b21a"/><rect x="141.56" y="362.27" width="7.05" height="7.45" fill="#c8c011"/><rect x="150.37" y="362.27" width="7.05" height="7.45" fill="#84cb3d"/><rect x="159.19" y="362.27" width="7.05" height="7.45" fill="#2cca83"/><rect x="168" y="362.27" width="7.05" height="7.45" fill="#00beb9"/><rect x="176.82" y="362.27" width="7.05" height="7.45" fill="#019fe1"/><rect x="185.63" y="362.27" width="7.05" height="7.45" fill="#1684f0"/><rect x="194.45" y="362.27" width="7.05" height="7.45" fill="#1c76fa"/><rect x="203.26" y="362.27" width="7.05" height="7.45" fill="#1c76fa"/><rect x="35.79" y="371.59" width="7.05" height="7.45" fill="#1c76fa"/><rect x="44.6" y="371.59" width="7.05" height="7.45" fill="#197df6"/><rect x="53.42" y="371.59" width="7.05" height="7.45" fill="#1488ee"/><rect x="62.23" y="371.59" width="7.05" height="7.45" fill="#00a3df"/><rect x="71.05" y="371.59" width="7.05" height="7.45" fill="#01c0b3"/><rect x="79.86" y="371.59" width="7.05" height="7.45" fill="#6ecc4d"/><rect x="88.67" y="371.59" width="7.05" height="7.45" fill="#deb80e"/><rect x="97.49" y="371.59" width="7.05" height="7.45" fill="#feb320"/><rect x="106.3" y="371.59" width="7.05" height="7.45" fill="#face0f"/><rect x="115.12" y="371.59" width="7.05" height="7.45" fill="#f9d30d"/><rect x="123.93" y="371.59" width="7.05" height="7.45" fill="#f9d30d"/><rect x="132.75" y="371.59" width="7.05" height="7.45" fill="#face0f"/><rect x="141.56" y="371.59" width="7.05" height="7.45" fill="#feb320"/><rect x="150.37" y="371.59" width="7.05" height="7.45" fill="#deb80e"/><rect x="159.19" y="371.59" width="7.05" height="7.45" fill="#6ecc4d"/><rect x="168" y="371.59" width="7.05" height="7.45" fill="#01c0b3"/><rect x="176.82" y="371.59" width="7.05" height="7.45" fill="#00a3df"/><rect x="185.63" y="371.59" width="7.05" height="7.45" fill="#1488ee"/><rect x="194.45" y="371.59" width="7.05" height="7.45" fill="#197df6"/><rect x="203.26" y="371.59" width="7.05" height="7.45" fill="#1c76fa"/><rect x="35.79" y="380.9" width="7.05" height="7.45" fill="#197df6"/><rect x="44.6" y="380.9" width="7.05" height="7.45" fill="#1881f3"/><rect x="53.42" y="380.9" width="7.05" height="7.45" fill="#108bec"/><rect x="62.23" y="380.9" width="7.05" height="7.45" fill="#00b5ce"/><rect x="71.05" y="380.9" width="7.05" height="7.45" fill="#1dc697"/><rect x="79.86" y="380.9" width="7.05" height="7.45" fill="#adc620"/><rect x="88.67" y="380.9" width="7.05" height="7.45" fill="#feb320"/><rect x="97.49" y="380.9" width="7.05" height="7.45" fill="#face0f"/><rect x="106.3" y="380.9" width="7.05" height="7.45" fill="#f5e606"/><rect x="115.12" y="380.9" width="7.05" height="7.45" fill="#f6ef00"/><rect x="123.93" y="380.9" width="7.05" height="7.45" fill="#f6ef00"/><rect x="132.75" y="380.9" width="7.05" height="7.45" fill="#f5e606"/><rect x="141.56" y="380.9" width="7.05" height="7.45" fill="#face0f"/><rect x="150.37" y="380.9" width="7.05" height="7.45" fill="#feb320"/><rect x="159.19" y="380.9" width="7.05" height="7.45" fill="#adc620"/><rect x="168" y="380.9" width="7.05" height="7.45" fill="#1dc697"/><rect x="176.82" y="380.9" width="7.05" height="7.45" fill="#00b5ce"/><rect x="185.63" y="380.9" width="7.05" height="7.45" fill="#108bec"/><rect x="194.45" y="380.9" width="7.05" height="7.45" fill="#1881f3"/><rect x="203.26" y="380.9" width="7.05" height="7.45" fill="#197df6"/><rect x="35.79" y="390.22" width="7.05" height="7.45" fill="#197df6"/><rect x="44.6" y="390.22" width="7.05" height="7.45" fill="#1881f3"/><rect x="53.42" y="390.22" width="7.05" height="7.45" fill="#108bec"/><rect x="62.23" y="390.22" width="7.05" height="7.45" fill="#00b8ca"/><rect x="71.05" y="390.22" width="7.05" height="7.45" fill="#21c891"/><rect x="79.86" y="390.22" width="7.05" height="7.45" fill="#b7c41b"/><rect x="88.67" y="390.22" width="7.05" height="7.45" fill="#feb320"/><rect x="97.49" y="390.22" width="7.05" height="7.45" fill="#face0f"/><rect x="106.3" y="390.22" width="7.05" height="7.45" fill="#f6ef00"/><rect x="115.12" y="390.22" width="7.05" height="7.45" fill="#f9fb00"/><rect x="123.93" y="390.22" width="7.05" height="7.45" fill="#f9fb00"/><rect x="132.75" y="390.22" width="7.05" height="7.45" fill="#f6ef00"/><rect x="141.56" y="390.22" width="7.05" height="7.45" fill="#face0f"/><rect x="150.37" y="390.22" width="7.05" height="7.45" fill="#feb320"/><rect x="159.19" y="390.22" width="7.05" height="7.45" fill="#b7c41b"/><rect x="168" y="390.22" width="7.05" height="7.45" fill="#21c891"/><rect x="176.82" y="390.22" width="7.05" height="7.45" fill="#00b8ca"/><rect x="185.63" y="390.22" width="7.05" height="7.45" fill="#108bec"/><rect x="194.45" y="390.22" width="7.05" height="7.45" fill="#1881f3"/><rect x="203.26" y="390.22" width="7.05" height="7.45" fill="#197df6"/><rect x="35.79" y="399.53" width="7.05" height="7.45" fill="#197df6"/><rect x="44.6" y="399.53" width="7.05" height="7.45" fill="#1881f3"/><rect x="53.42" y="399.53" width="7.05" height="7.45" fill="#108bec"/><rect x="62.23" y="399.53" width="7.05" height="7.45" fill="#00b8ca"/><rect x="71.05" y="399.53" width="7.05" height="7.45" fill="#21c891"/><rect x="79.86" y="399.53" width="7.05" height="7.45" fill="#b7c41b"/><rect x="88.67" y="399.53" width="7.05" height="7.45" fill="#feb320"/><rect x="97.49" y="399.53" width="7.05" height="7.45" fill="#face0f"/><rect x="106.3" y="399.53" width="7.05" height="7.45" fill="#f6ef00"/><rect x="115.12" y="399.53" width="7.05" height="7.45" fill="#f9fb00"/><rect x="123.93" y="399.53" width="7.05" height="7.45" fill="#f9fb00"/><rect x="132.75" y="399.53" width="7.05" height="7.45" fill="#f6ef00"/><rect x="141.56" y="399.53" width="7.05" height="7.45" fill="#face0f"/><rect x="150.37" y="399.53" width="7.05" height="7.45" fill="#feb320"/><rect x="159.19" y="399.53" width="7.05" height="7.45" fill="#b7c41b"/><rect x="168" y="399.53" width="7.05" height="7.45" fill="#21c891"/><rect x="176.82" y="399.53" width="7.05" height="7.45" fill="#00b8ca"/><rect x="185.63" y="399.53" width="7.05" height="7.45" fill="#108bec"/><rect x="194.45" y="399.53" width="7.05" height="7.45" fill="#1881f3"/><rect x="203.26" y="399.53" width="7.05" height="7.45" fill="#197df6"/><rect x="35.79" y="408.85" width="7.05" height="7.45" fill="#197df6"/><rect x="44.6" y="408.85" width="7.05" height="7.45" fill="#1881f3"/><rect x="53.42" y="408.85" width="7.05" height="7.45" fill="#108bec"/><rect x="62.23" y="408.85" width="7.05" height="7.45" fill="#00b5ce"/><rect x="71.05" y="408.85" width="7.05" height="7.45" fill="#1dc697"/><rect x="79.86" y="408.85" width="7.05" height="7.45" fill="#adc620"/><rect x="88.67" y="408.85" width="7.05" height="7.45" fill="#feb320"/><rect x="97.49" y="408.85" width="7.05" height="7.45" fill="#face0f"/><rect x="106.3" y="408.85" width="7.05" height="7.45" fill="#f5e606"/><rect x="115.12" y="408.85" width="7.05" height="7.45" fill="#f6ef00"/><rect x="123.93" y="408.85" width="7.05" height="7.45" fill="#f6ef00"/><rect x="132.75" y="408.85" width="7.05" height="7.45" fill="#f5e606"/><rect x="141.56" y="408.85" width="7.05" height="7.45" fill="#face0f"/><rect x="150.37" y="408.85" width="7.05" height="7.45" fill="#feb320"/><rect x="159.19" y="408.85" width="7.05" height="7.45" fill="#adc620"/><rect x="168" y="408.85" width="7.05" height="7.45" fill="#1dc697"/><rect x="176.82" y="408.85" width="7.05" height="7.45" fill="#00b5ce"/><rect x="185.63" y="408.85" width="7.05" height="7.45" fill="#108bec"/><rect x="194.45" y="408.85" width="7.05" height="7.45" fill="#1881f3"/><rect x="203.26" y="408.85" width="7.05" height="7.45" fill="#197df6"/><rect x="35.79" y="418.16" width="7.05" height="7.45" fill="#1c76fa"/><rect x="44.6" y="418.16" width="7.05" height="7.45" fill="#197df6"/><rect x="53.42" y="418.16" width="7.05" height="7.45" fill="#1488ee"/><rect x="62.23" y="418.16" width="7.05" height="7.45" fill="#00a3df"/><rect x="71.05" y="418.16" width="7.05" height="7.45" fill="#01c0b3"/><rect x="79.86" y="418.16" width="7.05" height="7.45" fill="#6ecc4d"/><rect x="88.67" y="418.16" width="7.05" height="7.45" fill="#deb80e"/><rect x="97.49" y="418.16" width="7.05" height="7.45" fill="#feb320"/><rect x="106.3" y="418.16" width="7.05" height="7.45" fill="#face0f"/><rect x="115.12" y="418.16" width="7.05" height="7.45" fill="#f9d30d"/><rect x="123.93" y="418.16" width="7.05" height="7.45" fill="#f9d30d"/><rect x="132.75" y="418.16" width="7.05" height="7.45" fill="#face0f"/><rect x="141.56" y="418.16" width="7.05" height="7.45" fill="#feb320"/><rect x="150.37" y="418.16" width="7.05" height="7.45" fill="#deb80e"/><rect x="159.19" y="418.16" width="7.05" height="7.45" fill="#6ecc4d"/><rect x="168" y="418.16" width="7.05" height="7.45" fill="#01c0b3"/><rect x="176.82" y="418.16" width="7.05" height="7.45" fill="#00a3df"/><rect x="185.63" y="418.16" width="7.05" height="7.45" fill="#1488ee"/><rect x="194.45" y="418.16" width="7.05" height="7.45" fill="#197df6"/><rect x="203.26" y="418.16" width="7.05" height="7.45" fill="#1c76fa"/><rect x="35.79" y="427.47" width="7.05" height="7.45" fill="#1c76fa"/><rect x="44.6" y="427.47" width="7.05" height="7.45" fill="#1c76fa"/><rect x="53.42" y="427.47" width="7.05" height="7.45" fill="#1684f0"/><rect x="62.23" y="427.47" width="7.05" height="7.45" fill="#019fe1"/><rect x="71.05" y="427.47" width="7.05" height="7.45" fill="#00beb9"/><rect x="79.86" y="427.47" width="7.05" height="7.45" fill="#2cca83"/><rect x="88.67" y="427.47" width="7.05" height="7.45" fill="#84cb3d"/><rect x="97.49" y="427.47" width="7.05" height="7.45" fill="#c8c011"/><rect x="106.3" y="427.47" width="7.05" height="7.45" fill="#f0b21a"/><rect x="115.12" y="427.47" width="7.05" height="7.45" fill="#f5b11f"/><rect x="123.93" y="427.47" width="7.05" height="7.45" fill="#f5b11f"/><rect x="132.75" y="427.47" width="7.05" height="7.45" fill="#f0b21a"/><rect x="141.56" y="427.47" width="7.05" height="7.45" fill="#c8c011"/><rect x="150.37" y="427.47" width="7.05" height="7.45" fill="#84cb3d"/><rect x="159.19" y="427.47" width="7.05" height="7.45" fill="#2cca83"/><rect x="168" y="427.47" width="7.05" height="7.45" fill="#00beb9"/><rect x="176.82" y="427.47" width="7.05" height="7.45" fill="#019fe1"/><rect x="185.63" y="427.47" width="7.05" height="7.45" fill="#1684f0"/><rect x="194.45" y="427.47" width="7.05" height="7.45" fill="#1c76fa"/><rect x="203.26" y="427.47" width="7.05" height="7.45" fill="#1c76fa"/><rect x="35.79" y="436.79" width="7.05" height="7.45" fill="#226ffd"/><rect x="44.6" y="436.79" width="7.05" height="7.45" fill="#1c76fa"/><rect x="53.42" y="436.79" width="7.05" height="7.45" fill="#1881f3"/><rect x="62.23" y="436.79" width="7.05" height="7.45" fill="#0c92e7"/><rect x="71.05" y="436.79" width="7.05" height="7.45" fill="#00aed6"/><rect x="79.86" y="436.79" width="7.05" height="7.45" fill="#15c4a3"/><rect x="88.67" y="436.79" width="7.05" height="7.45" fill="#26c98a"/><rect x="97.49" y="436.79" width="7.05" height="7.45" fill="#59cd5d"/><rect x="106.3" y="436.79" width="7.05" height="7.45" fill="#99c92d"/><rect x="115.12" y="436.79" width="7.05" height="7.45" fill="#adc620"/><rect x="123.93" y="436.79" width="7.05" height="7.45" fill="#adc620"/><rect x="132.75" y="436.79" width="7.05" height="7.45" fill="#99c92d"/><rect x="141.56" y="436.79" width="7.05" height="7.45" fill="#59cd5d"/><rect x="150.37" y="436.79" width="7.05" height="7.45" fill="#26c98a"/><rect x="159.19" y="436.79" width="7.05" height="7.45" fill="#15c4a3"/><rect x="168" y="436.79" width="7.05" height="7.45" fill="#00aed6"/><rect x="176.82" y="436.79" width="7.05" height="7.45" fill="#0c92e7"/><rect x="185.63" y="436.79" width="7.05" height="7.45" fill="#1881f3"/><rect x="194.45" y="436.79" width="7.05" height="7.45" fill="#1c76fa"/><rect x="203.26" y="436.79" width="7.05" height="7.45" fill="#226ffd"/><rect x="35.79" y="446.1" width="7.05" height="7.45" fill="#3e26a8"/><rect x="44.6" y="446.1" width="7.05" height="7.45" fill="#3d54fa"/><rect x="53.42" y="446.1" width="7.05" height="7.45" fill="#226ffd"/><rect x="62.23" y="446.1" width="7.05" height="7.45" fill="#1881f3"/><rect x="71.05" y="446.1" width="7.05" height="7.45" fill="#0a95e6"/><rect x="79.86" y="446.1" width="7.05" height="7.45" fill="#00aed6"/><rect x="88.67" y="446.1" width="7.05" height="7.45" fill="#00bbc2"/><rect x="97.49" y="446.1" width="7.05" height="7.45" fill="#15c4a3"/><rect x="106.3" y="446.1" width="7.05" height="7.45" fill="#26c98a"/><rect x="115.12" y="446.1" width="7.05" height="7.45" fill="#2cca83"/><rect x="123.93" y="446.1" width="7.05" height="7.45" fill="#2cca83"/><rect x="132.75" y="446.1" width="7.05" height="7.45" fill="#26c98a"/><rect x="141.56" y="446.1" width="7.05" height="7.45" fill="#15c4a3"/><rect x="150.37" y="446.1" width="7.05" height="7.45" fill="#00bbc2"/><rect x="159.19" y="446.1" width="7.05" height="7.45" fill="#00aed6"/><rect x="168" y="446.1" width="7.05" height="7.45" fill="#0a95e6"/><rect x="176.82" y="446.1" width="7.05" height="7.45" fill="#1881f3"/><rect x="185.63" y="446.1" width="7.05" height="7.45" fill="#226ffd"/><rect x="194.45" y="446.1" width="7.05" height="7.45" fill="#3d54fa"/><rect x="203.26" y="446.1" width="7.05" height="7.45" fill="#3e26a8"/><rect x="35.79" y="455.42" width="7.05" height="7.45" fill="#3e26a8"/><rect x="44.6" y="455.42" width="7.05" height="7.45" fill="#3e26a8"/><rect x="53.42" y="455.42" width="7.05" height="7.45" fill="#385dfd"/><rect x="62.23" y="455.42" width="7.05" height="7.45" fill="#1a7af8"/><rect x="71.05" y="455.42" width="7.05" height="7.45" fill="#1881f3"/><rect x="79.86" y="455.42" width="7.05" height="7.45" fill="#059ce3"/><rect x="88.67" y="455.42" width="7.05" height="7.45" fill="#00abd9"/><rect x="97.49" y="455.42" width="7.05" height="7.45" fill="#00b9c6"/><rect x="106.3" y="455.42" width="7.05" height="7.45" fill="#00beb9"/><rect x="115.12" y="455.42" width="7.05" height="7.45" fill="#01c0b3"/><rect x="123.93" y="455.42" width="7.05" height="7.45" fill="#01c0b3"/><rect x="132.75" y="455.42" width="7.05" height="7.45" fill="#00beb9"/><rect x="141.56" y="455.42" width="7.05" height="7.45" fill="#00b9c6"/><rect x="150.37" y="455.42" width="7.05" height="7.45" fill="#00abd9"/><rect x="159.19" y="455.42" width="7.05" height="7.45" fill="#059ce3"/><rect x="168" y="455.42" width="7.05" height="7.45" fill="#1881f3"/><rect x="176.82" y="455.42" width="7.05" height="7.45" fill="#1a7af8"/><rect x="185.63" y="455.42" width="7.05" height="7.45" fill="#385dfd"/><rect x="194.45" y="455.42" width="7.05" height="7.45" fill="#3e26a8"/><rect x="203.26" y="455.42" width="7.05" height="7.45" fill="#3e26a8"/><rect x="35.79" y="464.73" width="7.05" height="7.45" fill="#3e26a8"/><rect x="44.6" y="464.73" width="7.05" height="7.45" fill="#3e26a8"/><rect x="53.42" y="464.73" width="7.05" height="7.45" fill="#3e26a8"/><rect x="62.23" y="464.73" width="7.05" height="7.45" fill="#385dfd"/><rect x="71.05" y="464.73" width="7.05" height="7.45" fill="#1a7af8"/><rect x="79.86" y="464.73" width="7.05" height="7.45" fill="#1881f3"/><rect x="88.67" y="464.73" width="7.05" height="7.45" fill="#108bec"/><rect x="97.49" y="464.73" width="7.05" height="7.45" fill="#0a95e6"/><rect x="106.3" y="464.73" width="7.05" height="7.45" fill="#019fe1"/><rect x="115.12" y="464.73" width="7.05" height="7.45" fill="#00a3df"/><rect x="123.93" y="464.73" width="7.05" height="7.45" fill="#00a3df"/><rect x="132.75" y="464.73" width="7.05" height="7.45" fill="#019fe1"/><rect x="141.56" y="464.73" width="7.05" height="7.45" fill="#0a95e6"/><rect x="150.37" y="464.73" width="7.05" height="7.45" fill="#108bec"/><rect x="159.19" y="464.73" width="7.05" height="7.45" fill="#1881f3"/><rect x="168" y="464.73" width="7.05" height="7.45" fill="#1a7af8"/><rect x="176.82" y="464.73" width="7.05" height="7.45" fill="#385dfd"/><rect x="185.63" y="464.73" width="7.05" height="7.45" fill="#3e26a8"/><rect x="194.45" y="464.73" width="7.05" height="7.45" fill="#3e26a8"/><rect x="203.26" y="464.73" width="7.05" height="7.45" fill="#3e26a8"/><rect x="35.79" y="474.05" width="7.05" height="7.45" fill="#3e26a8"/><rect x="44.6" y="474.05" width="7.05" height="7.45" fill="#3e26a8"/><rect x="53.42" y="474.05" width="7.05" height="7.45" fill="#3e26a8"/><rect x="62.23" y="474.05" width="7.05" height="7.45" fill="#3e26a8"/><rect x="71.05" y="474.05" width="7.05" height="7.45" fill="#3c57fb"/><rect x="79.86" y="474.05" width="7.05" height="7.45" fill="#1c76fa"/><rect x="88.67" y="474.05" width="7.05" height="7.45" fill="#1881f3"/><rect x="97.49" y="474.05" width="7.05" height="7.45" fill="#1684f0"/><rect x="106.3" y="474.05" width="7.05" height="7.45" fill="#0c92e7"/><rect x="115.12" y="474.05" width="7.05" height="7.45" fill="#0a95e6"/><rect x="123.93" y="474.05" width="7.05" height="7.45" fill="#0a95e6"/><rect x="132.75" y="474.05" width="7.05" height="7.45" fill="#0c92e7"/><rect x="141.56" y="474.05" width="7.05" height="7.45" fill="#1684f0"/><rect x="150.37" y="474.05" width="7.05" height="7.45" fill="#1881f3"/><rect x="159.19" y="474.05" width="7.05" height="7.45" fill="#1c76fa"/><rect x="168" y="474.05" width="7.05" height="7.45" fill="#3c57fb"/><rect x="176.82" y="474.05" width="7.05" height="7.45" fill="#3e26a8"/><rect x="185.63" y="474.05" width="7.05" height="7.45" fill="#3e26a8"/><rect x="194.45" y="474.05" width="7.05" height="7.45" fill="#3e26a8"/><rect x="203.26" y="474.05" width="7.05" height="7.45" fill="#3e26a8"/><rect x="35.79" y="483.36" width="7.05" height="7.45" fill="#3e26a8"/><rect x="44.6" y="483.36" width="7.05" height="7.45" fill="#3e26a8"/><rect x="53.42" y="483.36" width="7.05" height="7.45" fill="#3e26a8"/><rect x="62.23" y="483.36" width="7.05" height="7.45" fill="#3e26a8"/><rect x="71.05" y="483.36" width="7.05" height="7.45" fill="#3e26a8"/><rect x="79.86" y="483.36" width="7.05" height="7.45" fill="#3560fe"/><rect x="88.67" y="483.36" width="7.05" height="7.45" fill="#226ffd"/><rect x="97.49" y="483.36" width="7.05" height="7.45" fill="#1e73fb"/><rect x="106.3" y="483.36" width="7.05" height="7.45" fill="#1c76fa"/><rect x="115.12" y="483.36" width="7.05" height="7.45" fill="#1a7af8"/><rect x="123.93" y="483.36" width="7.05" height="7.45" fill="#1a7af8"/><rect x="132.75" y="483.36" width="7.05" height="7.45" fill="#1c76fa"/><rect x="141.56" y="483.36" width="7.05" height="7.45" fill="#1e73fb"/><rect x="150.37" y="483.36" width="7.05" height="7.45" fill="#226ffd"/><rect x="159.19" y="483.36" width="7.05" height="7.45" fill="#3560fe"/><rect x="168" y="483.36" width="7.05" height="7.45" fill="#3e26a8"/><rect x="176.82" y="483.36" width="7.05" height="7.45" fill="#3e26a8"/><rect x="185.63" y="483.36" width="7.05" height="7.45" fill="#3e26a8"/><rect x="194.45" y="483.36" width="7.05" height="7.45" fill="#3e26a8"/><rect x="203.26" y="483.36" width="7.05" height="7.45" fill="#3e26a8"/></g>
<path d="M30.5 300.8V496.4H215.6" fill="none" stroke="#9a9a9a" stroke-width="0.8"/>
<path d="M30.5 300.8H215.6" fill="none" stroke="#eeeeee" stroke-width="0.6"/>
<path d="M30.5 300.8h1.8M30.5 319.43h1.8M30.5 338.06h1.8M30.5 356.69h1.8M30.5 375.31h1.8M30.5 393.94h1.8M30.5 412.57h1.8M30.5 431.2h1.8M30.5 449.83h1.8M30.5 468.46h1.8M30.5 487.09h1.8M30.5 496.4v-1.8M74.57 496.4v-1.8M118.64 496.4v-1.8M162.71 496.4v-1.8M206.79 496.4v-1.8" stroke="#9a9a9a" stroke-width="0.6"/>
<text x="26.8" y="302.3" font-size="7.2" text-anchor="end" fill="#333333" >0</text>
<text x="26.8" y="320.93" font-size="7.2" text-anchor="end" fill="#333333" >2</text>
<text x="26.8" y="339.56" font-size="7.2" text-anchor="end" fill="#333333" >4</text>
<text x="26.8" y="358.19" font-size="7.2" text-anchor="end" fill="#333333" >6</text>
<text x="26.8" y="376.81" font-size="7.2" text-anchor="end" fill="#333333" >8</text>
<text x="26.8" y="395.44" font-size="7.2" text-anchor="end" fill="#333333" >10</text>
<text x="26.8" y="414.07" font-size="7.2" text-anchor="end" fill="#333333" >12</text>
<text x="26.8" y="432.7" font-size="7.2" text-anchor="end" fill="#333333" >14</text>
<text x="26.8" y="451.33" font-size="7.2" text-anchor="end" fill="#333333" >16</text>
<text x="26.8" y="469.96" font-size="7.2" text-anchor="end" fill="#333333" >18</text>
<text x="26.8" y="488.59" font-size="7.2" text-anchor="end" fill="#333333" >20</text>
<text x="30.5" y="507" font-size="7.2" text-anchor="middle" fill="#333333" >0</text>
<text x="74.57" y="507" font-size="7.2" text-anchor="middle" fill="#333333" >5</text>
<text x="118.64" y="507" font-size="7.2" text-anchor="middle" fill="#333333" >10</text>
<text x="162.71" y="507" font-size="7.2" text-anchor="middle" fill="#333333" >15</text>
<text x="206.79" y="507" font-size="7.2" text-anchor="middle" fill="#333333" >20</text>
<text x="123.05" y="519.8" font-size="9.4" text-anchor="middle" fill="#333333" >Columns</text>
<text x="0" y="0" font-size="9.4" text-anchor="middle" fill="#333333" transform="translate(13,399.4) rotate(-90)">Rows</text>
<rect x="250.2" y="301" width="12.4" height="194.6" fill="url(#cbc)" stroke="#888" stroke-width="0.3"/>
<text x="265.4" y="498.5" font-size="7.2" text-anchor="start" fill="#333333" >0</text>
<text x="265.4" y="465.4" font-size="7.2" text-anchor="start" fill="#333333" >0.01</text>
<text x="265.4" y="432.31" font-size="7.2" text-anchor="start" fill="#333333" >0.02</text>
<text x="265.4" y="399.21" font-size="7.2" text-anchor="start" fill="#333333" >0.03</text>
<text x="265.4" y="366.12" font-size="7.2" text-anchor="start" fill="#333333" >0.04</text>
<text x="265.4" y="333.02" font-size="7.2" text-anchor="start" fill="#333333" >0.05</text>
<path d="M262.6 495.6h-1.5M262.6 462.5h-1.5M262.6 429.41h-1.5M262.6 396.31h-1.5M262.6 363.22h-1.5M262.6 330.12h-1.5" stroke="#666" stroke-width="0.5"/>
<path d="M309.3 432.7L309.3 345.4M430.47 386.08L430.47 298.78M309.3 432.7L408.84 497.38M309.3 432.7L430.47 386.08M338.15 421.6L338.15 334.3M454.17 401.48L454.17 314.18M338.15 421.6L437.69 486.28M333 448.1L454.17 401.48M367 410.5L367 323.2M477.87 416.88L477.87 329.58M367 410.5L466.54 475.18M356.7 463.5L477.87 416.88M395.85 399.4L395.85 312.1M501.57 432.28L501.57 344.98M395.85 399.4L495.39 464.08M380.4 478.9L501.57 432.28M424.7 388.3L424.7 301M525.27 447.68L525.27 360.38M424.7 388.3L524.24 452.98M404.1 494.3L525.27 447.68M309.3 432.7L430.47 386.08L530.01 450.76M309.3 403.6L430.47 356.98L530.01 421.66M309.3 374.5L430.47 327.88L530.01 392.56M309.3 345.4L430.47 298.78L530.01 363.46" fill="none" stroke="#e9e9e9" stroke-width="0.6"/>
<g stroke="#000" stroke-opacity="0.3" stroke-width="0.35" stroke-linejoin="round"><g transform="translate(429.03,393.5)"><path d="M0 0L4.62 -1.78L0.82 -4.24L-3.79 -2.46Z" fill="#3e26a8"/></g><g transform="translate(423.26,395.72)"><path d="M0 0L4.62 -1.78L0.82 -4.24L-3.79 -2.46Z" fill="#3e26a8"/></g><g transform="translate(433.77,396.58)"><path d="M0 0L4.62 -1.78L0.82 -4.24L-3.79 -2.46Z" fill="#3e26a8"/></g><g transform="translate(417.49,397.94)"><path d="M0 0L4.62 -1.78L0.82 -4.24L-3.79 -2.46Z" fill="#3e26a8"/></g><g transform="translate(428,398.8)"><path d="M0 0L4.62 -1.78L0.82 -4.24L-3.79 -2.46Z" fill="#3e26a8"/></g><g transform="translate(438.51,399.66)"><path d="M0 0L4.62 -1.78L0.82 -4.24L-3.79 -2.46Z" fill="#3e26a8"/></g><g transform="translate(411.72,400.16)"><path d="M0 0L4.62 -1.78L0.82 -4.24L-3.79 -2.46Z" fill="#3e26a8"/></g><g transform="translate(422.23,401.02)"><path d="M0 0L4.62 -1.78L0.82 -4.24L-3.79 -2.46Z" fill="#3e26a8"/></g><g transform="translate(432.74,401.88)"><path d="M0 0L4.62 -1.78L0.82 -4.24L-3.79 -2.46Z" fill="#3e26a8"/></g><g transform="translate(443.25,402.74)"><path d="M0 0L4.62 -1.78L0.82 -4.24L-3.79 -2.46Z" fill="#3e26a8"/></g><g transform="translate(405.95,402.38)"><path d="M0 0L4.62 -1.78L0.82 -4.24L-3.79 -2.46Z" fill="#3e26a8"/></g><g transform="translate(416.46,403.24)"><path d="M0 0L4.62 -1.78L0.82 -4.24L-3.79 -2.46Z" fill="#3e26a8"/></g><g transform="translate(426.97,404.1)"><path d="M0 0L4.62 -1.78L0.82 -4.24L-3.79 -2.46Z" fill="#3e26a8"/></g><g transform="translate(437.48,404.96)"><path d="M0 0L4.62 -1.78L0.82 -4.24L-3.79 -2.46Z" fill="#3e26a8"/></g><g transform="translate(400.18,404.6)"><path d="M-3.79 -2.46L0 0V-17.97L-3.79 -20.43Z" fill="url(#gcl)"/><path d="M0 0L4.62 -1.78V-19.74L0 -17.97Z" fill="url(#gcf)"/><path d="M0 -17.97L4.62 -19.74L0.82 -22.21L-3.79 -20.43Z" fill="#3560fe"/></g><g transform="translate(447.99,405.82)"><path d="M0 0L4.62 -1.78L0.82 -4.24L-3.79 -2.46Z" fill="#3e26a8"/></g><g transform="translate(410.69,405.46)"><path d="M-3.79 -2.46L0 0V-15.4L-3.79 -17.86Z" fill="url(#gcl)"/><path d="M0 0L4.62 -1.78V-17.18L0 -15.4Z" fill="url(#gcf)"/><path d="M0 -15.4L4.62 -17.18L0.82 -19.64L-3.79 -17.86Z" fill="#3c57fb"/></g><g transform="translate(421.2,406.32)"><path d="M-3.79 -2.46L0 0V-17.11L-3.79 -19.57Z" fill="url(#gcl)"/><path d="M0 0L4.62 -1.78V-18.89L0 -17.11Z" fill="url(#gcf)"/><path d="M0 -17.11L4.62 -18.89L0.82 -21.35L-3.79 -19.57Z" fill="#385dfd"/></g><g transform="translate(431.71,407.18)"><path d="M-3.79 -2.46L0 0V-17.11L-3.79 -19.57Z" fill="url(#gcl)"/><path d="M0 0L4.62 -1.78V-18.89L0 -17.11Z" fill="url(#gcf)"/><path d="M0 -17.11L4.62 -18.89L0.82 -21.35L-3.79 -19.57Z" fill="#385dfd"/></g><g transform="translate(394.41,406.82)"><path d="M-3.79 -2.46L0 0V-21.39L-3.79 -23.85Z" fill="url(#gcl)"/><path d="M0 0L4.62 -1.78V-23.16L0 -21.39Z" fill="url(#gcf)"/><path d="M0 -21.39L4.62 -23.16L0.82 -25.63L-3.79 -23.85Z" fill="#226ffd"/></g><g transform="translate(442.22,408.04)"><path d="M-3.79 -2.46L0 0V-14.54L-3.79 -17.01Z" fill="url(#gcl)"/><path d="M0 0L4.62 -1.78V-16.32L0 -14.54Z" fill="url(#gcf)"/><path d="M0 -14.54L4.62 -16.32L0.82 -18.78L-3.79 -17.01Z" fill="#3d54fa"/></g><g transform="translate(404.92,407.68)"><path d="M-3.79 -2.46L0 0V-23.1L-3.79 -25.56Z" fill="url(#gcl)"/><path d="M0 0L4.62 -1.78V-24.88L0 -23.1Z" fill="url(#gcf)"/><path d="M0 -23.1L4.62 -24.88L0.82 -27.34L-3.79 -25.56Z" fill="#1c76fa"/></g><g transform="translate(452.73,408.9)"><path d="M-3.79 -2.46L0 0V-21.39L-3.79 -23.85Z" fill="url(#gcl)"/><path d="M0 0L4.62 -1.78V-23.16L0 -21.39Z" fill="url(#gcf)"/><path d="M0 -21.39L4.62 -23.16L0.82 -25.63L-3.79 -23.85Z" fill="#226ffd"/></g><g transform="translate(415.43,408.54)"><path d="M-3.79 -2.46L0 0V-23.96L-3.79 -26.42Z" fill="url(#gcl)"/><path d="M0 0L4.62 -1.78V-25.73L0 -23.96Z" fill="url(#gcf)"/><path d="M0 -23.96L4.62 -25.73L0.82 -28.2L-3.79 -26.42Z" fill="#1a7af8"/></g><g transform="translate(425.94,409.4)"><path d="M-3.79 -2.46L0 0V-23.96L-3.79 -26.42Z" fill="url(#gcl)"/><path d="M0 0L4.62 -1.78V-25.73L0 -23.96Z" fill="url(#gcf)"/><path d="M0 -23.96L4.62 -25.73L0.82 -28.2L-3.79 -26.42Z" fill="#1a7af8"/></g><g transform="translate(388.64,409.04)"><path d="M-3.79 -2.46L0 0V-22.24L-3.79 -24.71Z" fill="url(#gcl)"/><path d="M0 0L4.62 -1.78V-24.02L0 -22.24Z" fill="url(#gcf)"/><path d="M0 -22.24L4.62 -24.02L0.82 -26.48L-3.79 -24.71Z" fill="#1e73fb"/></g><g transform="translate(436.45,410.26)"><path d="M-3.79 -2.46L0 0V-21.39L-3.79 -23.85Z" fill="url(#gcl)"/><path d="M0 0L4.62 -1.78V-23.16L0 -21.39Z" fill="url(#gcf)"/><path d="M0 -21.39L4.62 -23.16L0.82 -25.63L-3.79 -23.85Z" fill="#226ffd"/></g><g transform="translate(399.15,409.9)"><path d="M-3.79 -2.46L0 0V-25.67L-3.79 -28.13Z" fill="url(#gcl)"/><path d="M0 0L4.62 -1.78V-27.44L0 -25.67Z" fill="url(#gcf)"/><path d="M0 -25.67L4.62 -27.44L0.82 -29.91L-3.79 -28.13Z" fill="#1881f3"/></g><g transform="translate(446.96,411.12)"><path d="M-3.79 -2.46L0 0V-23.1L-3.79 -25.56Z" fill="url(#gcl)"/><path d="M0 0L4.62 -1.78V-24.88L0 -23.1Z" fill="url(#gcf)"/><path d="M0 -23.1L4.62 -24.88L0.82 -27.34L-3.79 -25.56Z" fill="#1c76fa"/></g><g transform="translate(409.66,410.76)"><path d="M-3.79 -2.46L0 0V-25.67L-3.79 -28.13Z" fill="url(#gcl)"/><path d="M0 0L4.62 -1.78V-27.44L0 -25.67Z" fill="url(#gcf)"/><path d="M0 -25.67L4.62 -27.44L0.82 -29.91L-3.79 -28.13Z" fill="#1881f3"/></g><g transform="translate(457.47,411.98)"><path d="M-3.79 -2.46L0 0V-23.1L-3.79 -25.56Z" fill="url(#gcl)"/><path d="M0 0L4.62 -1.78V-24.88L0 -23.1Z" fill="url(#gcf)"/><path d="M0 -23.1L4.62 -24.88L0.82 -27.34L-3.79 -25.56Z" fill="#1c76fa"/></g><g transform="translate(420.17,411.62)"><path d="M-3.79 -2.46L0 0V-25.67L-3.79 -28.13Z" fill="url(#gcl)"/><path d="M0 0L4.62 -1.78V-27.44L0 -25.67Z" fill="url(#gcf)"/><path d="M0 -25.67L4.62 -27.44L0.82 -29.91L-3.79 -28.13Z" fill="#1881f3"/></g><g transform="translate(382.87,411.26)"><path d="M-3.79 -2.46L0 0V-23.1L-3.79 -25.56Z" fill="url(#gcl)"/><path d="M0 0L4.62 -1.78V-24.88L0 -23.1Z" fill="url(#gcf)"/><path d="M0 -23.1L4.62 -24.88L0.82 -27.34L-3.79 -25.56Z" fill="#1c76fa"/></g><g transform="translate(430.68,412.48)"><path d="M-3.79 -2.46L0 0V-25.67L-3.79 -28.13Z" fill="url(#gcl)"/><path d="M0 0L4.62 -1.78V-27.44L0 -25.67Z" fill="url(#gcf)"/><path d="M0 -25.67L4.62 -27.44L0.82 -29.91L-3.79 -28.13Z" fill="#1881f3"/></g><g transform="translate(393.38,412.12)"><path d="M-3.79 -2.46L0 0V-26.52L-3.79 -28.99Z" fill="url(#gcl)"/><path d="M0 0L4.62 -1.78V-28.3L0 -26.52Z" fill="url(#gcf)"/><path d="M0 -26.52L4.62 -28.3L0.82 -30.76L-3.79 -28.99Z" fill="#1684f0"/></g><g transform="translate(441.19,413.34)"><path d="M-3.79 -2.46L0 0V-25.67L-3.79 -28.13Z" fill="url(#gcl)"/><path d="M0 0L4.62 -1.78V-27.44L0 -25.67Z" fill="url(#gcf)"/><path d="M0 -25.67L4.62 -27.44L0.82 -29.91L-3.79 -28.13Z" fill="#1881f3"/></g><g transform="translate(403.89,412.98)"><path d="M-3.79 -2.46L0 0V-28.23L-3.79 -30.7Z" fill="url(#gcl)"/><path d="M0 0L4.62 -1.78V-30.01L0 -28.23Z" fill="url(#gcf)"/><path d="M0 -28.23L4.62 -30.01L0.82 -32.47L-3.79 -30.7Z" fill="#108bec"/></g><g transform="translate(451.7,414.2)"><path d="M-3.79 -2.46L0 0V-23.1L-3.79 -25.56Z" fill="url(#gcl)"/><path d="M0 0L4.62 -1.78V-24.88L0 -23.1Z" fill="url(#gcf)"/><path d="M0 -23.1L4.62 -24.88L0.82 -27.34L-3.79 -25.56Z" fill="#1c76fa"/></g><g transform="translate(414.4,413.84)"><path d="M-3.79 -2.46L0 0V-32.51L-3.79 -34.97Z" fill="url(#gcl)"/><path d="M0 0L4.62 -1.78V-34.29L0 -32.51Z" fill="url(#gcf)"/><path d="M0 -32.51L4.62 -34.29L0.82 -36.75L-3.79 -34.97Z" fill="#059ce3"/></g><g transform="translate(377.1,413.48)"><path d="M-3.79 -2.46L0 0V-23.96L-3.79 -26.42Z" fill="url(#gcl)"/><path d="M0 0L4.62 -1.78V-25.73L0 -23.96Z" fill="url(#gcf)"/><path d="M0 -23.96L4.62 -25.73L0.82 -28.2L-3.79 -26.42Z" fill="#1a7af8"/></g><g transform="translate(462.21,415.06)"><path d="M-3.79 -2.46L0 0V-23.1L-3.79 -25.56Z" fill="url(#gcl)"/><path d="M0 0L4.62 -1.78V-24.88L0 -23.1Z" fill="url(#gcf)"/><path d="M0 -23.1L4.62 -24.88L0.82 -27.34L-3.79 -25.56Z" fill="#1c76fa"/></g><g transform="translate(424.91,414.7)"><path d="M-3.79 -2.46L0 0V-30.8L-3.79 -33.26Z" fill="url(#gcl)"/><path d="M0 0L4.62 -1.78V-32.58L0 -30.8Z" fill="url(#gcf)"/><path d="M0 -30.8L4.62 -32.58L0.82 -35.04L-3.79 -33.26Z" fill="#0a95e6"/></g><g transform="translate(387.61,414.34)"><path d="M-3.79 -2.46L0 0V-29.94L-3.79 -32.41Z" fill="url(#gcl)"/><path d="M0 0L4.62 -1.78V-31.72L0 -29.94Z" fill="url(#gcf)"/><path d="M0 -29.94L4.62 -31.72L0.82 -34.18L-3.79 -32.41Z" fill="#0c92e7"/></g><g transform="translate(435.42,415.56)"><path d="M-3.79 -2.46L0 0V-29.94L-3.79 -32.41Z" fill="url(#gcl)"/><path d="M0 0L4.62 -1.78V-31.72L0 -29.94Z" fill="url(#gcf)"/><path d="M0 -29.94L4.62 -31.72L0.82 -34.18L-3.79 -32.41Z" fill="#0c92e7"/></g><g transform="translate(398.12,415.2)"><path d="M-3.79 -2.46L0 0V-30.8L-3.79 -33.26Z" fill="url(#gcl)"/><path d="M0 0L4.62 -1.78V-32.58L0 -30.8Z" fill="url(#gcf)"/><path d="M0 -30.8L4.62 -32.58L0.82 -35.04L-3.79 -33.26Z" fill="#0a95e6"/></g><g transform="translate(445.93,416.42)"><path d="M-3.79 -2.46L0 0V-26.52L-3.79 -28.99Z" fill="url(#gcl)"/><path d="M0 0L4.62 -1.78V-28.3L0 -26.52Z" fill="url(#gcf)"/><path d="M0 -26.52L4.62 -28.3L0.82 -30.76L-3.79 -28.99Z" fill="#1684f0"/></g><g transform="translate(408.63,416.06)"><path d="M-3.79 -2.46L0 0V-35.93L-3.79 -38.4Z" fill="url(#gcl)"/><path d="M0 0L4.62 -1.78V-37.71L0 -35.93Z" fill="url(#gcf)"/><path d="M0 -35.93L4.62 -37.71L0.82 -40.17L-3.79 -38.4Z" fill="#00abd9"/></g><g transform="translate(371.33,415.7)"><path d="M-3.79 -2.46L0 0V-23.96L-3.79 -26.42Z" fill="url(#gcl)"/><path d="M0 0L4.62 -1.78V-25.73L0 -23.96Z" fill="url(#gcf)"/><path d="M0 -23.96L4.62 -25.73L0.82 -28.2L-3.79 -26.42Z" fill="#1a7af8"/></g><g transform="translate(456.44,417.28)"><path d="M-3.79 -2.46L0 0V-24.81L-3.79 -27.27Z" fill="url(#gcl)"/><path d="M0 0L4.62 -1.78V-26.59L0 -24.81Z" fill="url(#gcf)"/><path d="M0 -24.81L4.62 -26.59L0.82 -29.05L-3.79 -27.27Z" fill="#197df6"/></g><g transform="translate(419.14,416.92)"><path d="M-3.79 -2.46L0 0V-36.79L-3.79 -39.25Z" fill="url(#gcl)"/><path d="M0 0L4.62 -1.78V-38.56L0 -36.79Z" fill="url(#gcf)"/><path d="M0 -36.79L4.62 -38.56L0.82 -41.03L-3.79 -39.25Z" fill="#00aed6"/></g><g transform="translate(381.84,416.56)"><path d="M-3.79 -2.46L0 0V-30.8L-3.79 -33.26Z" fill="url(#gcl)"/><path d="M0 0L4.62 -1.78V-32.58L0 -30.8Z" fill="url(#gcf)"/><path d="M0 -30.8L4.62 -32.58L0.82 -35.04L-3.79 -33.26Z" fill="#0a95e6"/></g><g transform="translate(466.95,418.14)"><path d="M-3.79 -2.46L0 0V-24.81L-3.79 -27.27Z" fill="url(#gcl)"/><path d="M0 0L4.62 -1.78V-26.59L0 -24.81Z" fill="url(#gcf)"/><path d="M0 -24.81L4.62 -26.59L0.82 -29.05L-3.79 -27.27Z" fill="#197df6"/></g><g transform="translate(429.65,417.78)"><path d="M-3.79 -2.46L0 0V-36.79L-3.79 -39.25Z" fill="url(#gcl)"/><path d="M0 0L4.62 -1.78V-38.56L0 -36.79Z" fill="url(#gcf)"/><path d="M0 -36.79L4.62 -38.56L0.82 -41.03L-3.79 -39.25Z" fill="#00aed6"/></g><g transform="translate(392.35,417.42)"><path d="M-3.79 -2.46L0 0V-33.37L-3.79 -35.83Z" fill="url(#gcl)"/><path d="M0 0L4.62 -1.78V-35.14L0 -33.37Z" fill="url(#gcf)"/><path d="M0 -33.37L4.62 -35.14L0.82 -37.61L-3.79 -35.83Z" fill="#019fe1"/></g><g transform="translate(440.16,418.64)"><path d="M-3.79 -2.46L0 0V-33.37L-3.79 -35.83Z" fill="url(#gcl)"/><path d="M0 0L4.62 -1.78V-35.14L0 -33.37Z" fill="url(#gcf)"/><path d="M0 -33.37L4.62 -35.14L0.82 -37.61L-3.79 -35.83Z" fill="#019fe1"/></g><g transform="translate(402.86,418.28)"><path d="M-3.79 -2.46L0 0V-40.21L-3.79 -42.67Z" fill="url(#gcl)"/><path d="M0 0L4.62 -1.78V-41.99L0 -40.21Z" fill="url(#gcf)"/><path d="M0 -40.21L4.62 -41.99L0.82 -44.45L-3.79 -42.67Z" fill="#00b9c6"/></g><g transform="translate(365.56,417.92)"><path d="M-3.79 -2.46L0 0V-23.1L-3.79 -25.56Z" fill="url(#gcl)"/><path d="M0 0L4.62 -1.78V-24.88L0 -23.1Z" fill="url(#gcf)"/><path d="M0 -23.1L4.62 -24.88L0.82 -27.34L-3.79 -25.56Z" fill="#1c76fa"/></g><g transform="translate(450.67,419.5)"><path d="M-3.79 -2.46L0 0V-27.38L-3.79 -29.84Z" fill="url(#gcl)"/><path d="M0 0L4.62 -1.78V-29.15L0 -27.38Z" fill="url(#gcf)"/><path d="M0 -27.38L4.62 -29.15L0.82 -31.62L-3.79 -29.84Z" fill="#1488ee"/></g><g transform="translate(413.37,419.14)"><path d="M-3.79 -2.46L0 0V-41.07L-3.79 -43.53Z" fill="url(#gcl)"/><path d="M0 0L4.62 -1.78V-42.84L0 -41.07Z" fill="url(#gcf)"/><path d="M0 -41.07L4.62 -42.84L0.82 -45.31L-3.79 -43.53Z" fill="#00bbc2"/></g><g transform="translate(376.07,418.78)"><path d="M-3.79 -2.46L0 0V-30.8L-3.79 -33.26Z" fill="url(#gcl)"/><path d="M0 0L4.62 -1.78V-32.58L0 -30.8Z" fill="url(#gcf)"/><path d="M0 -30.8L4.62 -32.58L0.82 -35.04L-3.79 -33.26Z" fill="#0a95e6"/></g><g transform="translate(461.18,420.36)"><path d="M-3.79 -2.46L0 0V-25.67L-3.79 -28.13Z" fill="url(#gcl)"/><path d="M0 0L4.62 -1.78V-27.44L0 -25.67Z" fill="url(#gcf)"/><path d="M0 -25.67L4.62 -27.44L0.82 -29.91L-3.79 -28.13Z" fill="#1881f3"/></g><g transform="translate(423.88,420)"><path d="M-3.79 -2.46L0 0V-46.2L-3.79 -48.66Z" fill="url(#gcl)"/><path d="M0 0L4.62 -1.78V-47.98L0 -46.2Z" fill="url(#gcf)"/><path d="M0 -46.2L4.62 -47.98L0.82 -50.44L-3.79 -48.66Z" fill="#15c4a3"/></g><g transform="translate(386.58,419.64)"><path d="M-3.79 -2.46L0 0V-34.22L-3.79 -36.69Z" fill="url(#gcl)"/><path d="M0 0L4.62 -1.78V-36L0 -34.22Z" fill="url(#gcf)"/><path d="M0 -34.22L4.62 -36L0.82 -38.46L-3.79 -36.69Z" fill="#00a3df"/></g><g transform="translate(471.69,421.22)"><path d="M-3.79 -2.46L0 0V-24.81L-3.79 -27.27Z" fill="url(#gcl)"/><path d="M0 0L4.62 -1.78V-26.59L0 -24.81Z" fill="url(#gcf)"/><path d="M0 -24.81L4.62 -26.59L0.82 -29.05L-3.79 -27.27Z" fill="#197df6"/></g><g transform="translate(434.39,420.86)"><path d="M-3.79 -2.46L0 0V-42.78L-3.79 -45.24Z" fill="url(#gcl)"/><path d="M0 0L4.62 -1.78V-44.55L0 -42.78Z" fill="url(#gcf)"/><path d="M0 -42.78L4.62 -44.55L0.82 -47.02L-3.79 -45.24Z" fill="#00beb9"/></g><g transform="translate(397.09,420.5)"><path d="M-3.79 -2.46L0 0V-42.78L-3.79 -45.24Z" fill="url(#gcl)"/><path d="M0 0L4.62 -1.78V-44.55L0 -42.78Z" fill="url(#gcf)"/><path d="M0 -42.78L4.62 -44.55L0.82 -47.02L-3.79 -45.24Z" fill="#00beb9"/></g><g transform="translate(359.79,420.14)"><path d="M-3.79 -2.46L0 0V-22.24L-3.79 -24.71Z" fill="url(#gcl)"/><path d="M0 0L4.62 -1.78V-24.02L0 -22.24Z" fill="url(#gcf)"/><path d="M0 -22.24L4.62 -24.02L0.82 -26.48L-3.79 -24.71Z" fill="#1e73fb"/></g><g transform="translate(444.9,421.72)"><path d="M-3.79 -2.46L0 0V-34.22L-3.79 -36.69Z" fill="url(#gcl)"/><path d="M0 0L4.62 -1.78V-36L0 -34.22Z" fill="url(#gcf)"/><path d="M0 -34.22L4.62 -36L0.82 -38.46L-3.79 -36.69Z" fill="#00a3df"/></g><g transform="translate(407.6,421.36)"><path d="M-3.79 -2.46L0 0V-46.2L-3.79 -48.66Z" fill="url(#gcl)"/><path d="M0 0L4.62 -1.78V-47.98L0 -46.2Z" fill="url(#gcf)"/><path d="M0 -46.2L4.62 -47.98L0.82 -50.44L-3.79 -48.66Z" fill="#15c4a3"/></g><g transform="translate(370.3,421)"><path d="M-3.79 -2.46L0 0V-29.94L-3.79 -32.41Z" fill="url(#gcl)"/><path d="M0 0L4.62 -1.78V-31.72L0 -29.94Z" fill="url(#gcf)"/><path d="M0 -29.94L4.62 -31.72L0.82 -34.18L-3.79 -32.41Z" fill="#0c92e7"/></g><g transform="translate(455.41,422.58)"><path d="M-3.79 -2.46L0 0V-28.23L-3.79 -30.7Z" fill="url(#gcl)"/><path d="M0 0L4.62 -1.78V-30.01L0 -28.23Z" fill="url(#gcf)"/><path d="M0 -28.23L4.62 -30.01L0.82 -32.47L-3.79 -30.7Z" fill="#108bec"/></g><g transform="translate(418.11,422.22)"><path d="M-3.79 -2.46L0 0V-49.62L-3.79 -52.09Z" fill="url(#gcl)"/><path d="M0 0L4.62 -1.78V-51.4L0 -49.62Z" fill="url(#gcf)"/><path d="M0 -49.62L4.62 -51.4L0.82 -53.86L-3.79 -52.09Z" fill="#26c98a"/></g><g transform="translate(380.81,421.86)"><path d="M-3.79 -2.46L0 0V-34.22L-3.79 -36.69Z" fill="url(#gcl)"/><path d="M0 0L4.62 -1.78V-36L0 -34.22Z" fill="url(#gcf)"/><path d="M0 -34.22L4.62 -36L0.82 -38.46L-3.79 -36.69Z" fill="#00a3df"/></g><g transform="translate(465.92,423.44)"><path d="M-3.79 -2.46L0 0V-25.67L-3.79 -28.13Z" fill="url(#gcl)"/><path d="M0 0L4.62 -1.78V-27.44L0 -25.67Z" fill="url(#gcf)"/><path d="M0 -25.67L4.62 -27.44L0.82 -29.91L-3.79 -28.13Z" fill="#1881f3"/></g><g transform="translate(428.62,423.08)"><path d="M-3.79 -2.46L0 0V-50.48L-3.79 -52.94Z" fill="url(#gcl)"/><path d="M0 0L4.62 -1.78V-52.25L0 -50.48Z" fill="url(#gcf)"/><path d="M0 -50.48L4.62 -52.25L0.82 -54.72L-3.79 -52.94Z" fill="#2cca83"/></g><g transform="translate(391.32,422.72)"><path d="M-3.79 -2.46L0 0V-43.63L-3.79 -46.1Z" fill="url(#gcl)"/><path d="M0 0L4.62 -1.78V-45.41L0 -43.63Z" fill="url(#gcf)"/><path d="M0 -43.63L4.62 -45.41L0.82 -47.87L-3.79 -46.1Z" fill="#01c0b3"/></g><g transform="translate(354.02,422.36)"><path d="M-3.79 -2.46L0 0V-21.39L-3.79 -23.85Z" fill="url(#gcl)"/><path d="M0 0L4.62 -1.78V-23.16L0 -21.39Z" fill="url(#gcf)"/><path d="M0 -21.39L4.62 -23.16L0.82 -25.63L-3.79 -23.85Z" fill="#226ffd"/></g><g transform="translate(476.43,424.3)"><path d="M-3.79 -2.46L0 0V-24.81L-3.79 -27.27Z" fill="url(#gcl)"/><path d="M0 0L4.62 -1.78V-26.59L0 -24.81Z" fill="url(#gcf)"/><path d="M0 -24.81L4.62 -26.59L0.82 -29.05L-3.79 -27.27Z" fill="#197df6"/></g><g transform="translate(439.13,423.94)"><path d="M-3.79 -2.46L0 0V-43.63L-3.79 -46.1Z" fill="url(#gcl)"/><path d="M0 0L4.62 -1.78V-45.41L0 -43.63Z" fill="url(#gcf)"/><path d="M0 -43.63L4.62 -45.41L0.82 -47.87L-3.79 -46.1Z" fill="#01c0b3"/></g><g transform="translate(401.83,423.58)"><path d="M-3.79 -2.46L0 0V-49.62L-3.79 -52.09Z" fill="url(#gcl)"/><path d="M0 0L4.62 -1.78V-51.4L0 -49.62Z" fill="url(#gcf)"/><path d="M0 -49.62L4.62 -51.4L0.82 -53.86L-3.79 -52.09Z" fill="#26c98a"/></g><g transform="translate(364.53,423.22)"><path d="M-3.79 -2.46L0 0V-26.52L-3.79 -28.99Z" fill="url(#gcl)"/><path d="M0 0L4.62 -1.78V-28.3L0 -26.52Z" fill="url(#gcf)"/><path d="M0 -26.52L4.62 -28.3L0.82 -30.76L-3.79 -28.99Z" fill="#1684f0"/></g><g transform="translate(449.64,424.8)"><path d="M-3.79 -2.46L0 0V-38.5L-3.79 -40.96Z" fill="url(#gcl)"/><path d="M0 0L4.62 -1.78V-40.28L0 -38.5Z" fill="url(#gcf)"/><path d="M0 -38.5L4.62 -40.28L0.82 -42.74L-3.79 -40.96Z" fill="#00b5ce"/></g><g transform="translate(412.34,424.44)"><path d="M-3.79 -2.46L0 0V-54.75L-3.79 -57.22Z" fill="url(#gcl)"/><path d="M0 0L4.62 -1.78V-56.53L0 -54.75Z" fill="url(#gcf)"/><path d="M0 -54.75L4.62 -56.53L0.82 -58.99L-3.79 -57.22Z" fill="#59cd5d"/></g><g transform="translate(375.04,424.08)"><path d="M-3.79 -2.46L0 0V-33.37L-3.79 -35.83Z" fill="url(#gcl)"/><path d="M0 0L4.62 -1.78V-35.14L0 -33.37Z" fill="url(#gcf)"/><path d="M0 -33.37L4.62 -35.14L0.82 -37.61L-3.79 -35.83Z" fill="#019fe1"/></g><g transform="translate(460.15,425.66)"><path d="M-3.79 -2.46L0 0V-28.23L-3.79 -30.7Z" fill="url(#gcl)"/><path d="M0 0L4.62 -1.78V-30.01L0 -28.23Z" fill="url(#gcf)"/><path d="M0 -28.23L4.62 -30.01L0.82 -32.47L-3.79 -30.7Z" fill="#108bec"/></g><g transform="translate(422.85,425.3)"><path d="M-3.79 -2.46L0 0V-58.18L-3.79 -60.64Z" fill="url(#gcl)"/><path d="M0 0L4.62 -1.78V-59.95L0 -58.18Z" fill="url(#gcf)"/><path d="M0 -58.18L4.62 -59.95L0.82 -62.42L-3.79 -60.64Z" fill="#84cb3d"/></g><g transform="translate(385.55,424.94)"><path d="M-3.79 -2.46L0 0V-43.63L-3.79 -46.1Z" fill="url(#gcl)"/><path d="M0 0L4.62 -1.78V-45.41L0 -43.63Z" fill="url(#gcf)"/><path d="M0 -43.63L4.62 -45.41L0.82 -47.87L-3.79 -46.1Z" fill="#01c0b3"/></g><g transform="translate(348.25,424.58)"><path d="M-3.79 -2.46L0 0V-17.97L-3.79 -20.43Z" fill="url(#gcl)"/><path d="M0 0L4.62 -1.78V-19.74L0 -17.97Z" fill="url(#gcf)"/><path d="M0 -17.97L4.62 -19.74L0.82 -22.21L-3.79 -20.43Z" fill="#3560fe"/></g><g transform="translate(470.66,426.52)"><path d="M-3.79 -2.46L0 0V-25.67L-3.79 -28.13Z" fill="url(#gcl)"/><path d="M0 0L4.62 -1.78V-27.44L0 -25.67Z" fill="url(#gcf)"/><path d="M0 -25.67L4.62 -27.44L0.82 -29.91L-3.79 -28.13Z" fill="#1881f3"/></g><g transform="translate(433.36,426.16)"><path d="M-3.79 -2.46L0 0V-56.47L-3.79 -58.93Z" fill="url(#gcl)"/><path d="M0 0L4.62 -1.78V-58.24L0 -56.47Z" fill="url(#gcf)"/><path d="M0 -56.47L4.62 -58.24L0.82 -60.71L-3.79 -58.93Z" fill="#6ecc4d"/></g><g transform="translate(396.06,425.8)"><path d="M-3.79 -2.46L0 0V-50.48L-3.79 -52.94Z" fill="url(#gcl)"/><path d="M0 0L4.62 -1.78V-52.25L0 -50.48Z" fill="url(#gcf)"/><path d="M0 -50.48L4.62 -52.25L0.82 -54.72L-3.79 -52.94Z" fill="#2cca83"/></g><g transform="translate(358.76,425.44)"><path d="M-3.79 -2.46L0 0V-25.67L-3.79 -28.13Z" fill="url(#gcl)"/><path d="M0 0L4.62 -1.78V-27.44L0 -25.67Z" fill="url(#gcf)"/><path d="M0 -25.67L4.62 -27.44L0.82 -29.91L-3.79 -28.13Z" fill="#1881f3"/></g><g transform="translate(481.17,427.38)"><path d="M-3.79 -2.46L0 0V-24.81L-3.79 -27.27Z" fill="url(#gcl)"/><path d="M0 0L4.62 -1.78V-26.59L0 -24.81Z" fill="url(#gcf)"/><path d="M0 -24.81L4.62 -26.59L0.82 -29.05L-3.79 -27.27Z" fill="#197df6"/></g><g transform="translate(443.87,427.02)"><path d="M-3.79 -2.46L0 0V-47.91L-3.79 -50.37Z" fill="url(#gcl)"/><path d="M0 0L4.62 -1.78V-49.69L0 -47.91Z" fill="url(#gcf)"/><path d="M0 -47.91L4.62 -49.69L0.82 -52.15L-3.79 -50.37Z" fill="#1dc697"/></g><g transform="translate(406.57,426.66)"><path d="M-3.79 -2.46L0 0V-59.89L-3.79 -62.35Z" fill="url(#gcl)"/><path d="M0 0L4.62 -1.78V-61.66L0 -59.89Z" fill="url(#gcf)"/><path d="M0 -59.89L4.62 -61.66L0.82 -64.13L-3.79 -62.35Z" fill="#99c92d"/></g><g transform="translate(369.27,426.3)"><path d="M-3.79 -2.46L0 0V-30.8L-3.79 -33.26Z" fill="url(#gcl)"/><path d="M0 0L4.62 -1.78V-32.58L0 -30.8Z" fill="url(#gcf)"/><path d="M0 -30.8L4.62 -32.58L0.82 -35.04L-3.79 -33.26Z" fill="#0a95e6"/></g><g transform="translate(454.38,427.88)"><path d="M-3.79 -2.46L0 0V-39.35L-3.79 -41.82Z" fill="url(#gcl)"/><path d="M0 0L4.62 -1.78V-41.13L0 -39.35Z" fill="url(#gcf)"/><path d="M0 -39.35L4.62 -41.13L0.82 -43.59L-3.79 -41.82Z" fill="#00b8ca"/></g><g transform="translate(417.08,427.52)"><path d="M-3.79 -2.46L0 0V-64.17L-3.79 -66.63Z" fill="url(#gcl)"/><path d="M0 0L4.62 -1.78V-65.94L0 -64.17Z" fill="url(#gcf)"/><path d="M0 -64.17L4.62 -65.94L0.82 -68.41L-3.79 -66.63Z" fill="#c8c011"/></g><g transform="translate(379.78,427.16)"><path d="M-3.79 -2.46L0 0V-42.78L-3.79 -45.24Z" fill="url(#gcl)"/><path d="M0 0L4.62 -1.78V-44.55L0 -42.78Z" fill="url(#gcf)"/><path d="M0 -42.78L4.62 -44.55L0.82 -47.02L-3.79 -45.24Z" fill="#00beb9"/></g><g transform="translate(342.48,426.8)"><path d="M0 0L4.62 -1.78L0.82 -4.24L-3.79 -2.46Z" fill="#3e26a8"/></g><g transform="translate(464.89,428.74)"><path d="M-3.79 -2.46L0 0V-28.23L-3.79 -30.7Z" fill="url(#gcl)"/><path d="M0 0L4.62 -1.78V-30.01L0 -28.23Z" fill="url(#gcf)"/><path d="M0 -28.23L4.62 -30.01L0.82 -32.47L-3.79 -30.7Z" fill="#108bec"/></g><g transform="translate(427.59,428.38)"><path d="M-3.79 -2.46L0 0V-66.73L-3.79 -69.2Z" fill="url(#gcl)"/><path d="M0 0L4.62 -1.78V-68.51L0 -66.73Z" fill="url(#gcf)"/><path d="M0 -66.73L4.62 -68.51L0.82 -70.97L-3.79 -69.2Z" fill="#deb80e"/></g><g transform="translate(390.29,428.02)"><path d="M-3.79 -2.46L0 0V-50.48L-3.79 -52.94Z" fill="url(#gcl)"/><path d="M0 0L4.62 -1.78V-52.25L0 -50.48Z" fill="url(#gcf)"/><path d="M0 -50.48L4.62 -52.25L0.82 -54.72L-3.79 -52.94Z" fill="#2cca83"/></g><g transform="translate(352.99,427.66)"><path d="M-3.79 -2.46L0 0V-23.1L-3.79 -25.56Z" fill="url(#gcl)"/><path d="M0 0L4.62 -1.78V-24.88L0 -23.1Z" fill="url(#gcf)"/><path d="M0 -23.1L4.62 -24.88L0.82 -27.34L-3.79 -25.56Z" fill="#1c76fa"/></g><g transform="translate(475.4,429.6)"><path d="M-3.79 -2.46L0 0V-25.67L-3.79 -28.13Z" fill="url(#gcl)"/><path d="M0 0L4.62 -1.78V-27.44L0 -25.67Z" fill="url(#gcf)"/><path d="M0 -25.67L4.62 -27.44L0.82 -29.91L-3.79 -28.13Z" fill="#1881f3"/></g><g transform="translate(438.1,429.24)"><path d="M-3.79 -2.46L0 0V-61.6L-3.79 -64.06Z" fill="url(#gcl)"/><path d="M0 0L4.62 -1.78V-63.37L0 -61.6Z" fill="url(#gcf)"/><path d="M0 -61.6L4.62 -63.37L0.82 -65.84L-3.79 -64.06Z" fill="#adc620"/></g><g transform="translate(400.8,428.88)"><path d="M-3.79 -2.46L0 0V-61.6L-3.79 -64.06Z" fill="url(#gcl)"/><path d="M0 0L4.62 -1.78V-63.37L0 -61.6Z" fill="url(#gcf)"/><path d="M0 -61.6L4.62 -63.37L0.82 -65.84L-3.79 -64.06Z" fill="#adc620"/></g><g transform="translate(363.5,428.52)"><path d="M-3.79 -2.46L0 0V-28.23L-3.79 -30.7Z" fill="url(#gcl)"/><path d="M0 0L4.62 -1.78V-30.01L0 -28.23Z" fill="url(#gcf)"/><path d="M0 -28.23L4.62 -30.01L0.82 -32.47L-3.79 -30.7Z" fill="#108bec"/></g><g transform="translate(485.91,430.46)"><path d="M-3.79 -2.46L0 0V-23.1L-3.79 -25.56Z" fill="url(#gcl)"/><path d="M0 0L4.62 -1.78V-24.88L0 -23.1Z" fill="url(#gcf)"/><path d="M0 -23.1L4.62 -24.88L0.82 -27.34L-3.79 -25.56Z" fill="#1c76fa"/></g><g transform="translate(448.61,430.1)"><path d="M-3.79 -2.46L0 0V-48.77L-3.79 -51.23Z" fill="url(#gcl)"/><path d="M0 0L4.62 -1.78V-50.54L0 -48.77Z" fill="url(#gcf)"/><path d="M0 -48.77L4.62 -50.54L0.82 -53.01L-3.79 -51.23Z" fill="#21c891"/></g><g transform="translate(411.31,429.74)"><path d="M-3.79 -2.46L0 0V-69.3L-3.79 -71.76Z" fill="url(#gcl)"/><path d="M0 0L4.62 -1.78V-71.07L0 -69.3Z" fill="url(#gcf)"/><path d="M0 -69.3L4.62 -71.07L0.82 -73.54L-3.79 -71.76Z" fill="#f0b21a"/></g><g transform="translate(374.01,429.38)"><path d="M-3.79 -2.46L0 0V-40.21L-3.79 -42.67Z" fill="url(#gcl)"/><path d="M0 0L4.62 -1.78V-41.99L0 -40.21Z" fill="url(#gcf)"/><path d="M0 -40.21L4.62 -41.99L0.82 -44.45L-3.79 -42.67Z" fill="#00b9c6"/></g><g transform="translate(336.71,429.02)"><path d="M0 0L4.62 -1.78L0.82 -4.24L-3.79 -2.46Z" fill="#3e26a8"/></g><g transform="translate(459.12,430.96)"><path d="M-3.79 -2.46L0 0V-39.35L-3.79 -41.82Z" fill="url(#gcl)"/><path d="M0 0L4.62 -1.78V-41.13L0 -39.35Z" fill="url(#gcf)"/><path d="M0 -39.35L4.62 -41.13L0.82 -43.59L-3.79 -41.82Z" fill="#00b8ca"/></g><g transform="translate(421.82,430.6)"><path d="M-3.79 -2.46L0 0V-71.87L-3.79 -74.33Z" fill="url(#gcl)"/><path d="M0 0L4.62 -1.78V-73.64L0 -71.87Z" fill="url(#gcf)"/><path d="M0 -71.87L4.62 -73.64L0.82 -76.11L-3.79 -74.33Z" fill="#feb320"/></g><g transform="translate(384.52,430.24)"><path d="M-3.79 -2.46L0 0V-49.62L-3.79 -52.09Z" fill="url(#gcl)"/><path d="M0 0L4.62 -1.78V-51.4L0 -49.62Z" fill="url(#gcf)"/><path d="M0 -49.62L4.62 -51.4L0.82 -53.86L-3.79 -52.09Z" fill="#26c98a"/></g><g transform="translate(347.22,429.88)"><path d="M-3.79 -2.46L0 0V-15.4L-3.79 -17.86Z" fill="url(#gcl)"/><path d="M0 0L4.62 -1.78V-17.18L0 -15.4Z" fill="url(#gcf)"/><path d="M0 -15.4L4.62 -17.18L0.82 -19.64L-3.79 -17.86Z" fill="#3c57fb"/></g><g transform="translate(469.63,431.82)"><path d="M-3.79 -2.46L0 0V-28.23L-3.79 -30.7Z" fill="url(#gcl)"/><path d="M0 0L4.62 -1.78V-30.01L0 -28.23Z" fill="url(#gcf)"/><path d="M0 -28.23L4.62 -30.01L0.82 -32.47L-3.79 -30.7Z" fill="#108bec"/></g><g transform="translate(432.33,431.46)"><path d="M-3.79 -2.46L0 0V-71.87L-3.79 -74.33Z" fill="url(#gcl)"/><path d="M0 0L4.62 -1.78V-73.64L0 -71.87Z" fill="url(#gcf)"/><path d="M0 -71.87L4.62 -73.64L0.82 -76.11L-3.79 -74.33Z" fill="#feb320"/></g><g transform="translate(395.03,431.1)"><path d="M-3.79 -2.46L0 0V-61.6L-3.79 -64.06Z" fill="url(#gcl)"/><path d="M0 0L4.62 -1.78V-63.37L0 -61.6Z" fill="url(#gcf)"/><path d="M0 -61.6L4.62 -63.37L0.82 -65.84L-3.79 -64.06Z" fill="#adc620"/></g><g transform="translate(357.73,430.74)"><path d="M-3.79 -2.46L0 0V-25.67L-3.79 -28.13Z" fill="url(#gcl)"/><path d="M0 0L4.62 -1.78V-27.44L0 -25.67Z" fill="url(#gcf)"/><path d="M0 -25.67L4.62 -27.44L0.82 -29.91L-3.79 -28.13Z" fill="#1881f3"/></g><g transform="translate(480.14,432.68)"><path d="M-3.79 -2.46L0 0V-24.81L-3.79 -27.27Z" fill="url(#gcl)"/><path d="M0 0L4.62 -1.78V-26.59L0 -24.81Z" fill="url(#gcf)"/><path d="M0 -24.81L4.62 -26.59L0.82 -29.05L-3.79 -27.27Z" fill="#197df6"/></g><g transform="translate(442.84,432.32)"><path d="M-3.79 -2.46L0 0V-62.45L-3.79 -64.92Z" fill="url(#gcl)"/><path d="M0 0L4.62 -1.78V-64.23L0 -62.45Z" fill="url(#gcf)"/><path d="M0 -62.45L4.62 -64.23L0.82 -66.69L-3.79 -64.92Z" fill="#b7c41b"/></g><g transform="translate(405.54,431.96)"><path d="M-3.79 -2.46L0 0V-70.15L-3.79 -72.62Z" fill="url(#gcl)"/><path d="M0 0L4.62 -1.78V-71.93L0 -70.15Z" fill="url(#gcf)"/><path d="M0 -70.15L4.62 -71.93L0.82 -74.39L-3.79 -72.62Z" fill="#f5b11f"/></g><g transform="translate(368.24,431.6)"><path d="M-3.79 -2.46L0 0V-35.93L-3.79 -38.4Z" fill="url(#gcl)"/><path d="M0 0L4.62 -1.78V-37.71L0 -35.93Z" fill="url(#gcf)"/><path d="M0 -35.93L4.62 -37.71L0.82 -40.17L-3.79 -38.4Z" fill="#00abd9"/></g><g transform="translate(490.65,433.54)"><path d="M-3.79 -2.46L0 0V-23.1L-3.79 -25.56Z" fill="url(#gcl)"/><path d="M0 0L4.62 -1.78V-24.88L0 -23.1Z" fill="url(#gcf)"/><path d="M0 -23.1L4.62 -24.88L0.82 -27.34L-3.79 -25.56Z" fill="#1c76fa"/></g><g transform="translate(330.94,431.24)"><path d="M0 0L4.62 -1.78L0.82 -4.24L-3.79 -2.46Z" fill="#3e26a8"/></g><g transform="translate(453.35,433.18)"><path d="M-3.79 -2.46L0 0V-48.77L-3.79 -51.23Z" fill="url(#gcl)"/><path d="M0 0L4.62 -1.78V-50.54L0 -48.77Z" fill="url(#gcf)"/><path d="M0 -48.77L4.62 -50.54L0.82 -53.01L-3.79 -51.23Z" fill="#21c891"/></g><g transform="translate(416.05,432.82)"><path d="M-3.79 -2.46L0 0V-77L-3.79 -79.46Z" fill="url(#gcl)"/><path d="M0 0L4.62 -1.78V-78.77L0 -77Z" fill="url(#gcf)"/><path d="M0 -77L4.62 -78.77L0.82 -81.24L-3.79 -79.46Z" fill="#face0f"/></g><g transform="translate(378.75,432.46)"><path d="M-3.79 -2.46L0 0V-46.2L-3.79 -48.66Z" fill="url(#gcl)"/><path d="M0 0L4.62 -1.78V-47.98L0 -46.2Z" fill="url(#gcf)"/><path d="M0 -46.2L4.62 -47.98L0.82 -50.44L-3.79 -48.66Z" fill="#15c4a3"/></g><g transform="translate(341.45,432.1)"><path d="M0 0L4.62 -1.78L0.82 -4.24L-3.79 -2.46Z" fill="#3e26a8"/></g><g transform="translate(463.86,434.04)"><path d="M-3.79 -2.46L0 0V-38.5L-3.79 -40.96Z" fill="url(#gcl)"/><path d="M0 0L4.62 -1.78V-40.28L0 -38.5Z" fill="url(#gcf)"/><path d="M0 -38.5L4.62 -40.28L0.82 -42.74L-3.79 -40.96Z" fill="#00b5ce"/></g><g transform="translate(426.56,433.68)"><path d="M-3.79 -2.46L0 0V-77L-3.79 -79.46Z" fill="url(#gcl)"/><path d="M0 0L4.62 -1.78V-78.77L0 -77Z" fill="url(#gcf)"/><path d="M0 -77L4.62 -78.77L0.82 -81.24L-3.79 -79.46Z" fill="#face0f"/></g><g transform="translate(389.26,433.32)"><path d="M-3.79 -2.46L0 0V-59.89L-3.79 -62.35Z" fill="url(#gcl)"/><path d="M0 0L4.62 -1.78V-61.66L0 -59.89Z" fill="url(#gcf)"/><path d="M0 -59.89L4.62 -61.66L0.82 -64.13L-3.79 -62.35Z" fill="#99c92d"/></g><g transform="translate(351.96,432.96)"><path d="M-3.79 -2.46L0 0V-23.96L-3.79 -26.42Z" fill="url(#gcl)"/><path d="M0 0L4.62 -1.78V-25.73L0 -23.96Z" fill="url(#gcf)"/><path d="M0 -23.96L4.62 -25.73L0.82 -28.2L-3.79 -26.42Z" fill="#1a7af8"/></g><g transform="translate(474.37,434.9)"><path d="M-3.79 -2.46L0 0V-27.38L-3.79 -29.84Z" fill="url(#gcl)"/><path d="M0 0L4.62 -1.78V-29.15L0 -27.38Z" fill="url(#gcf)"/><path d="M0 -27.38L4.62 -29.15L0.82 -31.62L-3.79 -29.84Z" fill="#1488ee"/></g><g transform="translate(437.07,434.54)"><path d="M-3.79 -2.46L0 0V-71.87L-3.79 -74.33Z" fill="url(#gcl)"/><path d="M0 0L4.62 -1.78V-73.64L0 -71.87Z" fill="url(#gcf)"/><path d="M0 -71.87L4.62 -73.64L0.82 -76.11L-3.79 -74.33Z" fill="#feb320"/></g><g transform="translate(399.77,434.18)"><path d="M-3.79 -2.46L0 0V-70.15L-3.79 -72.62Z" fill="url(#gcl)"/><path d="M0 0L4.62 -1.78V-71.93L0 -70.15Z" fill="url(#gcf)"/><path d="M0 -70.15L4.62 -71.93L0.82 -74.39L-3.79 -72.62Z" fill="#f5b11f"/></g><g transform="translate(362.47,433.82)"><path d="M-3.79 -2.46L0 0V-32.51L-3.79 -34.97Z" fill="url(#gcl)"/><path d="M0 0L4.62 -1.78V-34.29L0 -32.51Z" fill="url(#gcf)"/><path d="M0 -32.51L4.62 -34.29L0.82 -36.75L-3.79 -34.97Z" fill="#059ce3"/></g><g transform="translate(484.88,435.76)"><path d="M-3.79 -2.46L0 0V-23.1L-3.79 -25.56Z" fill="url(#gcl)"/><path d="M0 0L4.62 -1.78V-24.88L0 -23.1Z" fill="url(#gcf)"/><path d="M0 -23.1L4.62 -24.88L0.82 -27.34L-3.79 -25.56Z" fill="#1c76fa"/></g><g transform="translate(325.17,433.46)"><path d="M0 0L4.62 -1.78L0.82 -4.24L-3.79 -2.46Z" fill="#3e26a8"/></g><g transform="translate(447.58,435.4)"><path d="M-3.79 -2.46L0 0V-62.45L-3.79 -64.92Z" fill="url(#gcl)"/><path d="M0 0L4.62 -1.78V-64.23L0 -62.45Z" fill="url(#gcf)"/><path d="M0 -62.45L4.62 -64.23L0.82 -66.69L-3.79 -64.92Z" fill="#b7c41b"/></g><g transform="translate(410.28,435.04)"><path d="M-3.79 -2.46L0 0V-77.85L-3.79 -80.32Z" fill="url(#gcl)"/><path d="M0 0L4.62 -1.78V-79.63L0 -77.85Z" fill="url(#gcf)"/><path d="M0 -77.85L4.62 -79.63L0.82 -82.09L-3.79 -80.32Z" fill="#f9d30d"/></g><g transform="translate(372.98,434.68)"><path d="M-3.79 -2.46L0 0V-41.07L-3.79 -43.53Z" fill="url(#gcl)"/><path d="M0 0L4.62 -1.78V-42.84L0 -41.07Z" fill="url(#gcf)"/><path d="M0 -41.07L4.62 -42.84L0.82 -45.31L-3.79 -43.53Z" fill="#00bbc2"/></g><g transform="translate(495.39,436.62)"><path d="M-3.79 -2.46L0 0V-21.39L-3.79 -23.85Z" fill="url(#gcl)"/><path d="M0 0L4.62 -1.78V-23.16L0 -21.39Z" fill="url(#gcf)"/><path d="M0 -21.39L4.62 -23.16L0.82 -25.63L-3.79 -23.85Z" fill="#226ffd"/></g><g transform="translate(335.68,434.32)"><path d="M0 0L4.62 -1.78L0.82 -4.24L-3.79 -2.46Z" fill="#3e26a8"/></g><g transform="translate(458.09,436.26)"><path d="M-3.79 -2.46L0 0V-47.91L-3.79 -50.37Z" fill="url(#gcl)"/><path d="M0 0L4.62 -1.78V-49.69L0 -47.91Z" fill="url(#gcf)"/><path d="M0 -47.91L4.62 -49.69L0.82 -52.15L-3.79 -50.37Z" fill="#1dc697"/></g><g transform="translate(420.79,435.9)"><path d="M-3.79 -2.46L0 0V-81.28L-3.79 -83.74Z" fill="url(#gcl)"/><path d="M0 0L4.62 -1.78V-83.05L0 -81.28Z" fill="url(#gcf)"/><path d="M0 -81.28L4.62 -83.05L0.82 -85.52L-3.79 -83.74Z" fill="#f5e606"/></g><g transform="translate(383.49,435.54)"><path d="M-3.79 -2.46L0 0V-54.75L-3.79 -57.22Z" fill="url(#gcl)"/><path d="M0 0L4.62 -1.78V-56.53L0 -54.75Z" fill="url(#gcf)"/><path d="M0 -54.75L4.62 -56.53L0.82 -58.99L-3.79 -57.22Z" fill="#59cd5d"/></g><g transform="translate(346.19,435.18)"><path d="M-3.79 -2.46L0 0V-17.11L-3.79 -19.57Z" fill="url(#gcl)"/><path d="M0 0L4.62 -1.78V-18.89L0 -17.11Z" fill="url(#gcf)"/><path d="M0 -17.11L4.62 -18.89L0.82 -21.35L-3.79 -19.57Z" fill="#385dfd"/></g><g transform="translate(468.6,437.12)"><path d="M-3.79 -2.46L0 0V-34.22L-3.79 -36.69Z" fill="url(#gcl)"/><path d="M0 0L4.62 -1.78V-36L0 -34.22Z" fill="url(#gcf)"/><path d="M0 -34.22L4.62 -36L0.82 -38.46L-3.79 -36.69Z" fill="#00a3df"/></g><g transform="translate(431.3,436.76)"><path d="M-3.79 -2.46L0 0V-77L-3.79 -79.46Z" fill="url(#gcl)"/><path d="M0 0L4.62 -1.78V-78.77L0 -77Z" fill="url(#gcf)"/><path d="M0 -77L4.62 -78.77L0.82 -81.24L-3.79 -79.46Z" fill="#face0f"/></g><g transform="translate(394,436.4)"><path d="M-3.79 -2.46L0 0V-69.3L-3.79 -71.76Z" fill="url(#gcl)"/><path d="M0 0L4.62 -1.78V-71.07L0 -69.3Z" fill="url(#gcf)"/><path d="M0 -69.3L4.62 -71.07L0.82 -73.54L-3.79 -71.76Z" fill="#f0b21a"/></g><g transform="translate(356.7,436.04)"><path d="M-3.79 -2.46L0 0V-25.67L-3.79 -28.13Z" fill="url(#gcl)"/><path d="M0 0L4.62 -1.78V-27.44L0 -25.67Z" fill="url(#gcf)"/><path d="M0 -25.67L4.62 -27.44L0.82 -29.91L-3.79 -28.13Z" fill="#1881f3"/></g><g transform="translate(479.11,437.98)"><path d="M-3.79 -2.46L0 0V-26.52L-3.79 -28.99Z" fill="url(#gcl)"/><path d="M0 0L4.62 -1.78V-28.3L0 -26.52Z" fill="url(#gcf)"/><path d="M0 -26.52L4.62 -28.3L0.82 -30.76L-3.79 -28.99Z" fill="#1684f0"/></g><g transform="translate(319.4,435.68)"><path d="M0 0L4.62 -1.78L0.82 -4.24L-3.79 -2.46Z" fill="#3e26a8"/></g><g transform="translate(441.81,437.62)"><path d="M-3.79 -2.46L0 0V-71.87L-3.79 -74.33Z" fill="url(#gcl)"/><path d="M0 0L4.62 -1.78V-73.64L0 -71.87Z" fill="url(#gcf)"/><path d="M0 -71.87L4.62 -73.64L0.82 -76.11L-3.79 -74.33Z" fill="#feb320"/></g><g transform="translate(404.51,437.26)"><path d="M-3.79 -2.46L0 0V-77.85L-3.79 -80.32Z" fill="url(#gcl)"/><path d="M0 0L4.62 -1.78V-79.63L0 -77.85Z" fill="url(#gcf)"/><path d="M0 -77.85L4.62 -79.63L0.82 -82.09L-3.79 -80.32Z" fill="#f9d30d"/></g><g transform="translate(367.21,436.9)"><path d="M-3.79 -2.46L0 0V-36.79L-3.79 -39.25Z" fill="url(#gcl)"/><path d="M0 0L4.62 -1.78V-38.56L0 -36.79Z" fill="url(#gcf)"/><path d="M0 -36.79L4.62 -38.56L0.82 -41.03L-3.79 -39.25Z" fill="#00aed6"/></g><g transform="translate(489.62,438.84)"><path d="M-3.79 -2.46L0 0V-23.1L-3.79 -25.56Z" fill="url(#gcl)"/><path d="M0 0L4.62 -1.78V-24.88L0 -23.1Z" fill="url(#gcf)"/><path d="M0 -23.1L4.62 -24.88L0.82 -27.34L-3.79 -25.56Z" fill="#1c76fa"/></g><g transform="translate(329.91,436.54)"><path d="M0 0L4.62 -1.78L0.82 -4.24L-3.79 -2.46Z" fill="#3e26a8"/></g><g transform="translate(452.32,438.48)"><path d="M-3.79 -2.46L0 0V-61.6L-3.79 -64.06Z" fill="url(#gcl)"/><path d="M0 0L4.62 -1.78V-63.37L0 -61.6Z" fill="url(#gcf)"/><path d="M0 -61.6L4.62 -63.37L0.82 -65.84L-3.79 -64.06Z" fill="#adc620"/></g><g transform="translate(415.02,438.12)"><path d="M-3.79 -2.46L0 0V-82.99L-3.79 -85.45Z" fill="url(#gcl)"/><path d="M0 0L4.62 -1.78V-84.76L0 -82.99Z" fill="url(#gcf)"/><path d="M0 -82.99L4.62 -84.76L0.82 -87.23L-3.79 -85.45Z" fill="#f6ef00"/></g><g transform="translate(377.72,437.76)"><path d="M-3.79 -2.46L0 0V-49.62L-3.79 -52.09Z" fill="url(#gcl)"/><path d="M0 0L4.62 -1.78V-51.4L0 -49.62Z" fill="url(#gcf)"/><path d="M0 -49.62L4.62 -51.4L0.82 -53.86L-3.79 -52.09Z" fill="#26c98a"/></g><g transform="translate(500.13,439.7)"><path d="M0 0L4.62 -1.78L0.82 -4.24L-3.79 -2.46Z" fill="#3e26a8"/></g><g transform="translate(340.42,437.4)"><path d="M0 0L4.62 -1.78L0.82 -4.24L-3.79 -2.46Z" fill="#3e26a8"/></g><g transform="translate(462.83,439.34)"><path d="M-3.79 -2.46L0 0V-43.63L-3.79 -46.1Z" fill="url(#gcl)"/><path d="M0 0L4.62 -1.78V-45.41L0 -43.63Z" fill="url(#gcf)"/><path d="M0 -43.63L4.62 -45.41L0.82 -47.87L-3.79 -46.1Z" fill="#01c0b3"/></g><g transform="translate(425.53,438.98)"><path d="M-3.79 -2.46L0 0V-82.99L-3.79 -85.45Z" fill="url(#gcl)"/><path d="M0 0L4.62 -1.78V-84.76L0 -82.99Z" fill="url(#gcf)"/><path d="M0 -82.99L4.62 -84.76L0.82 -87.23L-3.79 -85.45Z" fill="#f6ef00"/></g><g transform="translate(388.23,438.62)"><path d="M-3.79 -2.46L0 0V-64.17L-3.79 -66.63Z" fill="url(#gcl)"/><path d="M0 0L4.62 -1.78V-65.94L0 -64.17Z" fill="url(#gcf)"/><path d="M0 -64.17L4.62 -65.94L0.82 -68.41L-3.79 -66.63Z" fill="#c8c011"/></g><g transform="translate(350.93,438.26)"><path d="M-3.79 -2.46L0 0V-23.96L-3.79 -26.42Z" fill="url(#gcl)"/><path d="M0 0L4.62 -1.78V-25.73L0 -23.96Z" fill="url(#gcf)"/><path d="M0 -23.96L4.62 -25.73L0.82 -28.2L-3.79 -26.42Z" fill="#1a7af8"/></g><g transform="translate(473.34,440.2)"><path d="M-3.79 -2.46L0 0V-33.37L-3.79 -35.83Z" fill="url(#gcl)"/><path d="M0 0L4.62 -1.78V-35.14L0 -33.37Z" fill="url(#gcf)"/><path d="M0 -33.37L4.62 -35.14L0.82 -37.61L-3.79 -35.83Z" fill="#019fe1"/></g><g transform="translate(436.04,439.84)"><path d="M-3.79 -2.46L0 0V-77L-3.79 -79.46Z" fill="url(#gcl)"/><path d="M0 0L4.62 -1.78V-78.77L0 -77Z" fill="url(#gcf)"/><path d="M0 -77L4.62 -78.77L0.82 -81.24L-3.79 -79.46Z" fill="#face0f"/></g><g transform="translate(398.74,439.48)"><path d="M-3.79 -2.46L0 0V-77L-3.79 -79.46Z" fill="url(#gcl)"/><path d="M0 0L4.62 -1.78V-78.77L0 -77Z" fill="url(#gcf)"/><path d="M0 -77L4.62 -78.77L0.82 -81.24L-3.79 -79.46Z" fill="#face0f"/></g><g transform="translate(361.44,439.12)"><path d="M-3.79 -2.46L0 0V-30.8L-3.79 -33.26Z" fill="url(#gcl)"/><path d="M0 0L4.62 -1.78V-32.58L0 -30.8Z" fill="url(#gcf)"/><path d="M0 -30.8L4.62 -32.58L0.82 -35.04L-3.79 -33.26Z" fill="#0a95e6"/></g><g transform="translate(483.85,441.06)"><path d="M-3.79 -2.46L0 0V-25.67L-3.79 -28.13Z" fill="url(#gcl)"/><path d="M0 0L4.62 -1.78V-27.44L0 -25.67Z" fill="url(#gcf)"/><path d="M0 -25.67L4.62 -27.44L0.82 -29.91L-3.79 -28.13Z" fill="#1881f3"/></g><g transform="translate(324.14,438.76)"><path d="M0 0L4.62 -1.78L0.82 -4.24L-3.79 -2.46Z" fill="#3e26a8"/></g><g transform="translate(446.55,440.7)"><path d="M-3.79 -2.46L0 0V-71.87L-3.79 -74.33Z" fill="url(#gcl)"/><path d="M0 0L4.62 -1.78V-73.64L0 -71.87Z" fill="url(#gcf)"/><path d="M0 -71.87L4.62 -73.64L0.82 -76.11L-3.79 -74.33Z" fill="#feb320"/></g><g transform="translate(409.25,440.34)"><path d="M-3.79 -2.46L0 0V-82.99L-3.79 -85.45Z" fill="url(#gcl)"/><path d="M0 0L4.62 -1.78V-84.76L0 -82.99Z" fill="url(#gcf)"/><path d="M0 -82.99L4.62 -84.76L0.82 -87.23L-3.79 -85.45Z" fill="#f6ef00"/></g><g transform="translate(371.95,439.98)"><path d="M-3.79 -2.46L0 0V-46.2L-3.79 -48.66Z" fill="url(#gcl)"/><path d="M0 0L4.62 -1.78V-47.98L0 -46.2Z" fill="url(#gcf)"/><path d="M0 -46.2L4.62 -47.98L0.82 -50.44L-3.79 -48.66Z" fill="#15c4a3"/></g><g transform="translate(494.36,441.92)"><path d="M-3.79 -2.46L0 0V-14.54L-3.79 -17.01Z" fill="url(#gcl)"/><path d="M0 0L4.62 -1.78V-16.32L0 -14.54Z" fill="url(#gcf)"/><path d="M0 -14.54L4.62 -16.32L0.82 -18.78L-3.79 -17.01Z" fill="#3d54fa"/></g><g transform="translate(334.65,439.62)"><path d="M0 0L4.62 -1.78L0.82 -4.24L-3.79 -2.46Z" fill="#3e26a8"/></g><g transform="translate(457.06,441.56)"><path d="M-3.79 -2.46L0 0V-56.47L-3.79 -58.93Z" fill="url(#gcl)"/><path d="M0 0L4.62 -1.78V-58.24L0 -56.47Z" fill="url(#gcf)"/><path d="M0 -56.47L4.62 -58.24L0.82 -60.71L-3.79 -58.93Z" fill="#6ecc4d"/></g><g transform="translate(419.76,441.2)"><path d="M-3.79 -2.46L0 0V-85.55L-3.79 -88.02Z" fill="url(#gcl)"/><path d="M0 0L4.62 -1.78V-87.33L0 -85.55Z" fill="url(#gcf)"/><path d="M0 -85.55L4.62 -87.33L0.82 -89.79L-3.79 -88.02Z" fill="#f9fb00"/></g><g transform="translate(382.46,440.84)"><path d="M-3.79 -2.46L0 0V-58.18L-3.79 -60.64Z" fill="url(#gcl)"/><path d="M0 0L4.62 -1.78V-59.95L0 -58.18Z" fill="url(#gcf)"/><path d="M0 -58.18L4.62 -59.95L0.82 -62.42L-3.79 -60.64Z" fill="#84cb3d"/></g><g transform="translate(504.87,442.78)"><path d="M0 0L4.62 -1.78L0.82 -4.24L-3.79 -2.46Z" fill="#3e26a8"/></g><g transform="translate(345.16,440.48)"><path d="M-3.79 -2.46L0 0V-17.11L-3.79 -19.57Z" fill="url(#gcl)"/><path d="M0 0L4.62 -1.78V-18.89L0 -17.11Z" fill="url(#gcf)"/><path d="M0 -17.11L4.62 -18.89L0.82 -21.35L-3.79 -19.57Z" fill="#385dfd"/></g><g transform="translate(467.57,442.42)"><path d="M-3.79 -2.46L0 0V-42.78L-3.79 -45.24Z" fill="url(#gcl)"/><path d="M0 0L4.62 -1.78V-44.55L0 -42.78Z" fill="url(#gcf)"/><path d="M0 -42.78L4.62 -44.55L0.82 -47.02L-3.79 -45.24Z" fill="#00beb9"/></g><g transform="translate(430.27,442.06)"><path d="M-3.79 -2.46L0 0V-82.99L-3.79 -85.45Z" fill="url(#gcl)"/><path d="M0 0L4.62 -1.78V-84.76L0 -82.99Z" fill="url(#gcf)"/><path d="M0 -82.99L4.62 -84.76L0.82 -87.23L-3.79 -85.45Z" fill="#f6ef00"/></g><g transform="translate(392.97,441.7)"><path d="M-3.79 -2.46L0 0V-71.87L-3.79 -74.33Z" fill="url(#gcl)"/><path d="M0 0L4.62 -1.78V-73.64L0 -71.87Z" fill="url(#gcf)"/><path d="M0 -71.87L4.62 -73.64L0.82 -76.11L-3.79 -74.33Z" fill="#feb320"/></g><g transform="translate(355.67,441.34)"><path d="M-3.79 -2.46L0 0V-25.67L-3.79 -28.13Z" fill="url(#gcl)"/><path d="M0 0L4.62 -1.78V-27.44L0 -25.67Z" fill="url(#gcf)"/><path d="M0 -25.67L4.62 -27.44L0.82 -29.91L-3.79 -28.13Z" fill="#1881f3"/></g><g transform="translate(478.08,443.28)"><path d="M-3.79 -2.46L0 0V-29.94L-3.79 -32.41Z" fill="url(#gcl)"/><path d="M0 0L4.62 -1.78V-31.72L0 -29.94Z" fill="url(#gcf)"/><path d="M0 -29.94L4.62 -31.72L0.82 -34.18L-3.79 -32.41Z" fill="#0c92e7"/></g><g transform="translate(440.78,442.92)"><path d="M-3.79 -2.46L0 0V-77L-3.79 -79.46Z" fill="url(#gcl)"/><path d="M0 0L4.62 -1.78V-78.77L0 -77Z" fill="url(#gcf)"/><path d="M0 -77L4.62 -78.77L0.82 -81.24L-3.79 -79.46Z" fill="#face0f"/></g><g transform="translate(403.48,442.56)"><path d="M-3.79 -2.46L0 0V-81.28L-3.79 -83.74Z" fill="url(#gcl)"/><path d="M0 0L4.62 -1.78V-83.05L0 -81.28Z" fill="url(#gcf)"/><path d="M0 -81.28L4.62 -83.05L0.82 -85.52L-3.79 -83.74Z" fill="#f5e606"/></g><g transform="translate(366.18,442.2)"><path d="M-3.79 -2.46L0 0V-36.79L-3.79 -39.25Z" fill="url(#gcl)"/><path d="M0 0L4.62 -1.78V-38.56L0 -36.79Z" fill="url(#gcf)"/><path d="M0 -36.79L4.62 -38.56L0.82 -41.03L-3.79 -39.25Z" fill="#00aed6"/></g><g transform="translate(488.59,444.14)"><path d="M-3.79 -2.46L0 0V-21.39L-3.79 -23.85Z" fill="url(#gcl)"/><path d="M0 0L4.62 -1.78V-23.16L0 -21.39Z" fill="url(#gcf)"/><path d="M0 -21.39L4.62 -23.16L0.82 -25.63L-3.79 -23.85Z" fill="#226ffd"/></g><g transform="translate(328.88,441.84)"><path d="M0 0L4.62 -1.78L0.82 -4.24L-3.79 -2.46Z" fill="#3e26a8"/></g><g transform="translate(451.29,443.78)"><path d="M-3.79 -2.46L0 0V-66.73L-3.79 -69.2Z" fill="url(#gcl)"/><path d="M0 0L4.62 -1.78V-68.51L0 -66.73Z" fill="url(#gcf)"/><path d="M0 -66.73L4.62 -68.51L0.82 -70.97L-3.79 -69.2Z" fill="#deb80e"/></g><g transform="translate(413.99,443.42)"><path d="M-3.79 -2.46L0 0V-85.55L-3.79 -88.02Z" fill="url(#gcl)"/><path d="M0 0L4.62 -1.78V-87.33L0 -85.55Z" fill="url(#gcf)"/><path d="M0 -85.55L4.62 -87.33L0.82 -89.79L-3.79 -88.02Z" fill="#f9fb00"/></g><g transform="translate(376.69,443.06)"><path d="M-3.79 -2.46L0 0V-50.48L-3.79 -52.94Z" fill="url(#gcl)"/><path d="M0 0L4.62 -1.78V-52.25L0 -50.48Z" fill="url(#gcf)"/><path d="M0 -50.48L4.62 -52.25L0.82 -54.72L-3.79 -52.94Z" fill="#2cca83"/></g><g transform="translate(499.1,445)"><path d="M0 0L4.62 -1.78L0.82 -4.24L-3.79 -2.46Z" fill="#3e26a8"/></g><g transform="translate(339.39,442.7)"><path d="M0 0L4.62 -1.78L0.82 -4.24L-3.79 -2.46Z" fill="#3e26a8"/></g><g transform="translate(461.8,444.64)"><path d="M-3.79 -2.46L0 0V-50.48L-3.79 -52.94Z" fill="url(#gcl)"/><path d="M0 0L4.62 -1.78V-52.25L0 -50.48Z" fill="url(#gcf)"/><path d="M0 -50.48L4.62 -52.25L0.82 -54.72L-3.79 -52.94Z" fill="#2cca83"/></g><g transform="translate(424.5,444.28)"><path d="M-3.79 -2.46L0 0V-85.55L-3.79 -88.02Z" fill="url(#gcl)"/><path d="M0 0L4.62 -1.78V-87.33L0 -85.55Z" fill="url(#gcf)"/><path d="M0 -85.55L4.62 -87.33L0.82 -89.79L-3.79 -88.02Z" fill="#f9fb00"/></g><g transform="translate(387.2,443.92)"><path d="M-3.79 -2.46L0 0V-66.73L-3.79 -69.2Z" fill="url(#gcl)"/><path d="M0 0L4.62 -1.78V-68.51L0 -66.73Z" fill="url(#gcf)"/><path d="M0 -66.73L4.62 -68.51L0.82 -70.97L-3.79 -69.2Z" fill="#deb80e"/></g><g transform="translate(509.61,445.86)"><path d="M0 0L4.62 -1.78L0.82 -4.24L-3.79 -2.46Z" fill="#3e26a8"/></g><g transform="translate(349.9,443.56)"><path d="M-3.79 -2.46L0 0V-21.39L-3.79 -23.85Z" fill="url(#gcl)"/><path d="M0 0L4.62 -1.78V-23.16L0 -21.39Z" fill="url(#gcf)"/><path d="M0 -21.39L4.62 -23.16L0.82 -25.63L-3.79 -23.85Z" fill="#226ffd"/></g><g transform="translate(472.31,445.5)"><path d="M-3.79 -2.46L0 0V-36.79L-3.79 -39.25Z" fill="url(#gcl)"/><path d="M0 0L4.62 -1.78V-38.56L0 -36.79Z" fill="url(#gcf)"/><path d="M0 -36.79L4.62 -38.56L0.82 -41.03L-3.79 -39.25Z" fill="#00aed6"/></g><g transform="translate(435.01,445.14)"><path d="M-3.79 -2.46L0 0V-81.28L-3.79 -83.74Z" fill="url(#gcl)"/><path d="M0 0L4.62 -1.78V-83.05L0 -81.28Z" fill="url(#gcf)"/><path d="M0 -81.28L4.62 -83.05L0.82 -85.52L-3.79 -83.74Z" fill="#f5e606"/></g><g transform="translate(397.71,444.78)"><path d="M-3.79 -2.46L0 0V-77L-3.79 -79.46Z" fill="url(#gcl)"/><path d="M0 0L4.62 -1.78V-78.77L0 -77Z" fill="url(#gcf)"/><path d="M0 -77L4.62 -78.77L0.82 -81.24L-3.79 -79.46Z" fill="#face0f"/></g><g transform="translate(360.41,444.42)"><path d="M-3.79 -2.46L0 0V-29.94L-3.79 -32.41Z" fill="url(#gcl)"/><path d="M0 0L4.62 -1.78V-31.72L0 -29.94Z" fill="url(#gcf)"/><path d="M0 -29.94L4.62 -31.72L0.82 -34.18L-3.79 -32.41Z" fill="#0c92e7"/></g><g transform="translate(482.82,446.36)"><path d="M-3.79 -2.46L0 0V-25.67L-3.79 -28.13Z" fill="url(#gcl)"/><path d="M0 0L4.62 -1.78V-27.44L0 -25.67Z" fill="url(#gcf)"/><path d="M0 -25.67L4.62 -27.44L0.82 -29.91L-3.79 -28.13Z" fill="#1881f3"/></g><g transform="translate(445.52,446)"><path d="M-3.79 -2.46L0 0V-71.87L-3.79 -74.33Z" fill="url(#gcl)"/><path d="M0 0L4.62 -1.78V-73.64L0 -71.87Z" fill="url(#gcf)"/><path d="M0 -71.87L4.62 -73.64L0.82 -76.11L-3.79 -74.33Z" fill="#feb320"/></g><g transform="translate(408.22,445.64)"><path d="M-3.79 -2.46L0 0V-82.99L-3.79 -85.45Z" fill="url(#gcl)"/><path d="M0 0L4.62 -1.78V-84.76L0 -82.99Z" fill="url(#gcf)"/><path d="M0 -82.99L4.62 -84.76L0.82 -87.23L-3.79 -85.45Z" fill="#f6ef00"/></g><g transform="translate(370.92,445.28)"><path d="M-3.79 -2.46L0 0V-42.78L-3.79 -45.24Z" fill="url(#gcl)"/><path d="M0 0L4.62 -1.78V-44.55L0 -42.78Z" fill="url(#gcf)"/><path d="M0 -42.78L4.62 -44.55L0.82 -47.02L-3.79 -45.24Z" fill="#00beb9"/></g><g transform="translate(493.33,447.22)"><path d="M-3.79 -2.46L0 0V-17.11L-3.79 -19.57Z" fill="url(#gcl)"/><path d="M0 0L4.62 -1.78V-18.89L0 -17.11Z" fill="url(#gcf)"/><path d="M0 -17.11L4.62 -18.89L0.82 -21.35L-3.79 -19.57Z" fill="#385dfd"/></g><g transform="translate(333.62,444.92)"><path d="M0 0L4.62 -1.78L0.82 -4.24L-3.79 -2.46Z" fill="#3e26a8"/></g><g transform="translate(456.03,446.86)"><path d="M-3.79 -2.46L0 0V-58.18L-3.79 -60.64Z" fill="url(#gcl)"/><path d="M0 0L4.62 -1.78V-59.95L0 -58.18Z" fill="url(#gcf)"/><path d="M0 -58.18L4.62 -59.95L0.82 -62.42L-3.79 -60.64Z" fill="#84cb3d"/></g><g transform="translate(418.73,446.5)"><path d="M-3.79 -2.46L0 0V-85.55L-3.79 -88.02Z" fill="url(#gcl)"/><path d="M0 0L4.62 -1.78V-87.33L0 -85.55Z" fill="url(#gcf)"/><path d="M0 -85.55L4.62 -87.33L0.82 -89.79L-3.79 -88.02Z" fill="#f9fb00"/></g><g transform="translate(381.43,446.14)"><path d="M-3.79 -2.46L0 0V-56.47L-3.79 -58.93Z" fill="url(#gcl)"/><path d="M0 0L4.62 -1.78V-58.24L0 -56.47Z" fill="url(#gcf)"/><path d="M0 -56.47L4.62 -58.24L0.82 -60.71L-3.79 -58.93Z" fill="#6ecc4d"/></g><g transform="translate(503.84,448.08)"><path d="M0 0L4.62 -1.78L0.82 -4.24L-3.79 -2.46Z" fill="#3e26a8"/></g><g transform="translate(344.13,445.78)"><path d="M-3.79 -2.46L0 0V-14.54L-3.79 -17.01Z" fill="url(#gcl)"/><path d="M0 0L4.62 -1.78V-16.32L0 -14.54Z" fill="url(#gcf)"/><path d="M0 -14.54L4.62 -16.32L0.82 -18.78L-3.79 -17.01Z" fill="#3d54fa"/></g><g transform="translate(466.54,447.72)"><path d="M-3.79 -2.46L0 0V-46.2L-3.79 -48.66Z" fill="url(#gcl)"/><path d="M0 0L4.62 -1.78V-47.98L0 -46.2Z" fill="url(#gcf)"/><path d="M0 -46.2L4.62 -47.98L0.82 -50.44L-3.79 -48.66Z" fill="#15c4a3"/></g><g transform="translate(429.24,447.36)"><path d="M-3.79 -2.46L0 0V-82.99L-3.79 -85.45Z" fill="url(#gcl)"/><path d="M0 0L4.62 -1.78V-84.76L0 -82.99Z" fill="url(#gcf)"/><path d="M0 -82.99L4.62 -84.76L0.82 -87.23L-3.79 -85.45Z" fill="#f6ef00"/></g><g transform="translate(391.94,447)"><path d="M-3.79 -2.46L0 0V-71.87L-3.79 -74.33Z" fill="url(#gcl)"/><path d="M0 0L4.62 -1.78V-73.64L0 -71.87Z" fill="url(#gcf)"/><path d="M0 -71.87L4.62 -73.64L0.82 -76.11L-3.79 -74.33Z" fill="#feb320"/></g><g transform="translate(514.35,448.94)"><path d="M0 0L4.62 -1.78L0.82 -4.24L-3.79 -2.46Z" fill="#3e26a8"/></g><g transform="translate(354.64,446.64)"><path d="M-3.79 -2.46L0 0V-25.67L-3.79 -28.13Z" fill="url(#gcl)"/><path d="M0 0L4.62 -1.78V-27.44L0 -25.67Z" fill="url(#gcf)"/><path d="M0 -25.67L4.62 -27.44L0.82 -29.91L-3.79 -28.13Z" fill="#1881f3"/></g><g transform="translate(477.05,448.58)"><path d="M-3.79 -2.46L0 0V-30.8L-3.79 -33.26Z" fill="url(#gcl)"/><path d="M0 0L4.62 -1.78V-32.58L0 -30.8Z" fill="url(#gcf)"/><path d="M0 -30.8L4.62 -32.58L0.82 -35.04L-3.79 -33.26Z" fill="#0a95e6"/></g><g transform="translate(439.75,448.22)"><path d="M-3.79 -2.46L0 0V-77L-3.79 -79.46Z" fill="url(#gcl)"/><path d="M0 0L4.62 -1.78V-78.77L0 -77Z" fill="url(#gcf)"/><path d="M0 -77L4.62 -78.77L0.82 -81.24L-3.79 -79.46Z" fill="#face0f"/></g><g transform="translate(402.45,447.86)"><path d="M-3.79 -2.46L0 0V-77L-3.79 -79.46Z" fill="url(#gcl)"/><path d="M0 0L4.62 -1.78V-78.77L0 -77Z" fill="url(#gcf)"/><path d="M0 -77L4.62 -78.77L0.82 -81.24L-3.79 -79.46Z" fill="#face0f"/></g><g transform="translate(365.15,447.5)"><path d="M-3.79 -2.46L0 0V-33.37L-3.79 -35.83Z" fill="url(#gcl)"/><path d="M0 0L4.62 -1.78V-35.14L0 -33.37Z" fill="url(#gcf)"/><path d="M0 -33.37L4.62 -35.14L0.82 -37.61L-3.79 -35.83Z" fill="#019fe1"/></g><g transform="translate(487.56,449.44)"><path d="M-3.79 -2.46L0 0V-23.96L-3.79 -26.42Z" fill="url(#gcl)"/><path d="M0 0L4.62 -1.78V-25.73L0 -23.96Z" fill="url(#gcf)"/><path d="M0 -23.96L4.62 -25.73L0.82 -28.2L-3.79 -26.42Z" fill="#1a7af8"/></g><g transform="translate(450.26,449.08)"><path d="M-3.79 -2.46L0 0V-64.17L-3.79 -66.63Z" fill="url(#gcl)"/><path d="M0 0L4.62 -1.78V-65.94L0 -64.17Z" fill="url(#gcf)"/><path d="M0 -64.17L4.62 -65.94L0.82 -68.41L-3.79 -66.63Z" fill="#c8c011"/></g><g transform="translate(412.96,448.72)"><path d="M-3.79 -2.46L0 0V-82.99L-3.79 -85.45Z" fill="url(#gcl)"/><path d="M0 0L4.62 -1.78V-84.76L0 -82.99Z" fill="url(#gcf)"/><path d="M0 -82.99L4.62 -84.76L0.82 -87.23L-3.79 -85.45Z" fill="#f6ef00"/></g><g transform="translate(375.66,448.36)"><path d="M-3.79 -2.46L0 0V-43.63L-3.79 -46.1Z" fill="url(#gcl)"/><path d="M0 0L4.62 -1.78V-45.41L0 -43.63Z" fill="url(#gcf)"/><path d="M0 -43.63L4.62 -45.41L0.82 -47.87L-3.79 -46.1Z" fill="#01c0b3"/></g><g transform="translate(498.07,450.3)"><path d="M0 0L4.62 -1.78L0.82 -4.24L-3.79 -2.46Z" fill="#3e26a8"/></g><g transform="translate(338.36,448)"><path d="M0 0L4.62 -1.78L0.82 -4.24L-3.79 -2.46Z" fill="#3e26a8"/></g><g transform="translate(460.77,449.94)"><path d="M-3.79 -2.46L0 0V-49.62L-3.79 -52.09Z" fill="url(#gcl)"/><path d="M0 0L4.62 -1.78V-51.4L0 -49.62Z" fill="url(#gcf)"/><path d="M0 -49.62L4.62 -51.4L0.82 -53.86L-3.79 -52.09Z" fill="#26c98a"/></g><g transform="translate(423.47,449.58)"><path d="M-3.79 -2.46L0 0V-82.99L-3.79 -85.45Z" fill="url(#gcl)"/><path d="M0 0L4.62 -1.78V-84.76L0 -82.99Z" fill="url(#gcf)"/><path d="M0 -82.99L4.62 -84.76L0.82 -87.23L-3.79 -85.45Z" fill="#f6ef00"/></g><g transform="translate(386.17,449.22)"><path d="M-3.79 -2.46L0 0V-61.6L-3.79 -64.06Z" fill="url(#gcl)"/><path d="M0 0L4.62 -1.78V-63.37L0 -61.6Z" fill="url(#gcf)"/><path d="M0 -61.6L4.62 -63.37L0.82 -65.84L-3.79 -64.06Z" fill="#adc620"/></g><g transform="translate(508.58,451.16)"><path d="M0 0L4.62 -1.78L0.82 -4.24L-3.79 -2.46Z" fill="#3e26a8"/></g><g transform="translate(348.87,448.86)"><path d="M-3.79 -2.46L0 0V-23.1L-3.79 -25.56Z" fill="url(#gcl)"/><path d="M0 0L4.62 -1.78V-24.88L0 -23.1Z" fill="url(#gcf)"/><path d="M0 -23.1L4.62 -24.88L0.82 -27.34L-3.79 -25.56Z" fill="#1c76fa"/></g><g transform="translate(471.28,450.8)"><path d="M-3.79 -2.46L0 0V-36.79L-3.79 -39.25Z" fill="url(#gcl)"/><path d="M0 0L4.62 -1.78V-38.56L0 -36.79Z" fill="url(#gcf)"/><path d="M0 -36.79L4.62 -38.56L0.82 -41.03L-3.79 -39.25Z" fill="#00aed6"/></g><g transform="translate(433.98,450.44)"><path d="M-3.79 -2.46L0 0V-77.85L-3.79 -80.32Z" fill="url(#gcl)"/><path d="M0 0L4.62 -1.78V-79.63L0 -77.85Z" fill="url(#gcf)"/><path d="M0 -77.85L4.62 -79.63L0.82 -82.09L-3.79 -80.32Z" fill="#f9d30d"/></g><g transform="translate(396.68,450.08)"><path d="M-3.79 -2.46L0 0V-71.87L-3.79 -74.33Z" fill="url(#gcl)"/><path d="M0 0L4.62 -1.78V-73.64L0 -71.87Z" fill="url(#gcf)"/><path d="M0 -71.87L4.62 -73.64L0.82 -76.11L-3.79 -74.33Z" fill="#feb320"/></g><g transform="translate(519.09,452.02)"><path d="M0 0L4.62 -1.78L0.82 -4.24L-3.79 -2.46Z" fill="#3e26a8"/></g><g transform="translate(359.38,449.72)"><path d="M-3.79 -2.46L0 0V-26.52L-3.79 -28.99Z" fill="url(#gcl)"/><path d="M0 0L4.62 -1.78V-28.3L0 -26.52Z" fill="url(#gcf)"/><path d="M0 -26.52L4.62 -28.3L0.82 -30.76L-3.79 -28.99Z" fill="#1684f0"/></g><g transform="translate(481.79,451.66)"><path d="M-3.79 -2.46L0 0V-25.67L-3.79 -28.13Z" fill="url(#gcl)"/><path d="M0 0L4.62 -1.78V-27.44L0 -25.67Z" fill="url(#gcf)"/><path d="M0 -25.67L4.62 -27.44L0.82 -29.91L-3.79 -28.13Z" fill="#1881f3"/></g><g transform="translate(444.49,451.3)"><path d="M-3.79 -2.46L0 0V-69.3L-3.79 -71.76Z" fill="url(#gcl)"/><path d="M0 0L4.62 -1.78V-71.07L0 -69.3Z" fill="url(#gcf)"/><path d="M0 -69.3L4.62 -71.07L0.82 -73.54L-3.79 -71.76Z" fill="#f0b21a"/></g><g transform="translate(407.19,450.94)"><path d="M-3.79 -2.46L0 0V-77L-3.79 -79.46Z" fill="url(#gcl)"/><path d="M0 0L4.62 -1.78V-78.77L0 -77Z" fill="url(#gcf)"/><path d="M0 -77L4.62 -78.77L0.82 -81.24L-3.79 -79.46Z" fill="#face0f"/></g><g transform="translate(369.89,450.58)"><path d="M-3.79 -2.46L0 0V-34.22L-3.79 -36.69Z" fill="url(#gcl)"/><path d="M0 0L4.62 -1.78V-36L0 -34.22Z" fill="url(#gcf)"/><path d="M0 -34.22L4.62 -36L0.82 -38.46L-3.79 -36.69Z" fill="#00a3df"/></g><g transform="translate(492.3,452.52)"><path d="M-3.79 -2.46L0 0V-17.11L-3.79 -19.57Z" fill="url(#gcl)"/><path d="M0 0L4.62 -1.78V-18.89L0 -17.11Z" fill="url(#gcf)"/><path d="M0 -17.11L4.62 -18.89L0.82 -21.35L-3.79 -19.57Z" fill="#385dfd"/></g><g transform="translate(455,452.16)"><path d="M-3.79 -2.46L0 0V-54.75L-3.79 -57.22Z" fill="url(#gcl)"/><path d="M0 0L4.62 -1.78V-56.53L0 -54.75Z" fill="url(#gcf)"/><path d="M0 -54.75L4.62 -56.53L0.82 -58.99L-3.79 -57.22Z" fill="#59cd5d"/></g><g transform="translate(417.7,451.8)"><path d="M-3.79 -2.46L0 0V-81.28L-3.79 -83.74Z" fill="url(#gcl)"/><path d="M0 0L4.62 -1.78V-83.05L0 -81.28Z" fill="url(#gcf)"/><path d="M0 -81.28L4.62 -83.05L0.82 -85.52L-3.79 -83.74Z" fill="#f5e606"/></g><g transform="translate(380.4,451.44)"><path d="M-3.79 -2.46L0 0V-47.91L-3.79 -50.37Z" fill="url(#gcl)"/><path d="M0 0L4.62 -1.78V-49.69L0 -47.91Z" fill="url(#gcf)"/><path d="M0 -47.91L4.62 -49.69L0.82 -52.15L-3.79 -50.37Z" fill="#1dc697"/></g><g transform="translate(502.81,453.38)"><path d="M0 0L4.62 -1.78L0.82 -4.24L-3.79 -2.46Z" fill="#3e26a8"/></g><g transform="translate(343.1,451.08)"><path d="M-3.79 -2.46L0 0V-21.39L-3.79 -23.85Z" fill="url(#gcl)"/><path d="M0 0L4.62 -1.78V-23.16L0 -21.39Z" fill="url(#gcf)"/><path d="M0 -21.39L4.62 -23.16L0.82 -25.63L-3.79 -23.85Z" fill="#226ffd"/></g><g transform="translate(465.51,453.02)"><path d="M-3.79 -2.46L0 0V-41.07L-3.79 -43.53Z" fill="url(#gcl)"/><path d="M0 0L4.62 -1.78V-42.84L0 -41.07Z" fill="url(#gcf)"/><path d="M0 -41.07L4.62 -42.84L0.82 -45.31L-3.79 -43.53Z" fill="#00bbc2"/></g><g transform="translate(428.21,452.66)"><path d="M-3.79 -2.46L0 0V-77.85L-3.79 -80.32Z" fill="url(#gcl)"/><path d="M0 0L4.62 -1.78V-79.63L0 -77.85Z" fill="url(#gcf)"/><path d="M0 -77.85L4.62 -79.63L0.82 -82.09L-3.79 -80.32Z" fill="#f9d30d"/></g><g transform="translate(390.91,452.3)"><path d="M-3.79 -2.46L0 0V-62.45L-3.79 -64.92Z" fill="url(#gcl)"/><path d="M0 0L4.62 -1.78V-64.23L0 -62.45Z" fill="url(#gcf)"/><path d="M0 -62.45L4.62 -64.23L0.82 -66.69L-3.79 -64.92Z" fill="#b7c41b"/></g><g transform="translate(513.32,454.24)"><path d="M0 0L4.62 -1.78L0.82 -4.24L-3.79 -2.46Z" fill="#3e26a8"/></g><g transform="translate(353.61,451.94)"><path d="M-3.79 -2.46L0 0V-23.1L-3.79 -25.56Z" fill="url(#gcl)"/><path d="M0 0L4.62 -1.78V-24.88L0 -23.1Z" fill="url(#gcf)"/><path d="M0 -23.1L4.62 -24.88L0.82 -27.34L-3.79 -25.56Z" fill="#1c76fa"/></g><g transform="translate(476.02,453.88)"><path d="M-3.79 -2.46L0 0V-32.51L-3.79 -34.97Z" fill="url(#gcl)"/><path d="M0 0L4.62 -1.78V-34.29L0 -32.51Z" fill="url(#gcf)"/><path d="M0 -32.51L4.62 -34.29L0.82 -36.75L-3.79 -34.97Z" fill="#059ce3"/></g><g transform="translate(438.72,453.52)"><path d="M-3.79 -2.46L0 0V-70.15L-3.79 -72.62Z" fill="url(#gcl)"/><path d="M0 0L4.62 -1.78V-71.93L0 -70.15Z" fill="url(#gcf)"/><path d="M0 -70.15L4.62 -71.93L0.82 -74.39L-3.79 -72.62Z" fill="#f5b11f"/></g><g transform="translate(401.42,453.16)"><path d="M-3.79 -2.46L0 0V-71.87L-3.79 -74.33Z" fill="url(#gcl)"/><path d="M0 0L4.62 -1.78V-73.64L0 -71.87Z" fill="url(#gcf)"/><path d="M0 -71.87L4.62 -73.64L0.82 -76.11L-3.79 -74.33Z" fill="#feb320"/></g><g transform="translate(364.12,452.8)"><path d="M-3.79 -2.46L0 0V-27.38L-3.79 -29.84Z" fill="url(#gcl)"/><path d="M0 0L4.62 -1.78V-29.15L0 -27.38Z" fill="url(#gcf)"/><path d="M0 -27.38L4.62 -29.15L0.82 -31.62L-3.79 -29.84Z" fill="#1488ee"/></g><g transform="translate(486.53,454.74)"><path d="M-3.79 -2.46L0 0V-23.96L-3.79 -26.42Z" fill="url(#gcl)"/><path d="M0 0L4.62 -1.78V-25.73L0 -23.96Z" fill="url(#gcf)"/><path d="M0 -23.96L4.62 -25.73L0.82 -28.2L-3.79 -26.42Z" fill="#1a7af8"/></g><g transform="translate(449.23,454.38)"><path d="M-3.79 -2.46L0 0V-59.89L-3.79 -62.35Z" fill="url(#gcl)"/><path d="M0 0L4.62 -1.78V-61.66L0 -59.89Z" fill="url(#gcf)"/><path d="M0 -59.89L4.62 -61.66L0.82 -64.13L-3.79 -62.35Z" fill="#99c92d"/></g><g transform="translate(411.93,454.02)"><path d="M-3.79 -2.46L0 0V-77L-3.79 -79.46Z" fill="url(#gcl)"/><path d="M0 0L4.62 -1.78V-78.77L0 -77Z" fill="url(#gcf)"/><path d="M0 -77L4.62 -78.77L0.82 -81.24L-3.79 -79.46Z" fill="#face0f"/></g><g transform="translate(374.63,453.66)"><path d="M-3.79 -2.46L0 0V-38.5L-3.79 -40.96Z" fill="url(#gcl)"/><path d="M0 0L4.62 -1.78V-40.28L0 -38.5Z" fill="url(#gcf)"/><path d="M0 -38.5L4.62 -40.28L0.82 -42.74L-3.79 -40.96Z" fill="#00b5ce"/></g><g transform="translate(497.04,455.6)"><path d="M0 0L4.62 -1.78L0.82 -4.24L-3.79 -2.46Z" fill="#3e26a8"/></g><g transform="translate(459.74,455.24)"><path d="M-3.79 -2.46L0 0V-46.2L-3.79 -48.66Z" fill="url(#gcl)"/><path d="M0 0L4.62 -1.78V-47.98L0 -46.2Z" fill="url(#gcf)"/><path d="M0 -46.2L4.62 -47.98L0.82 -50.44L-3.79 -48.66Z" fill="#15c4a3"/></g><g transform="translate(422.44,454.88)"><path d="M-3.79 -2.46L0 0V-77L-3.79 -79.46Z" fill="url(#gcl)"/><path d="M0 0L4.62 -1.78V-78.77L0 -77Z" fill="url(#gcf)"/><path d="M0 -77L4.62 -78.77L0.82 -81.24L-3.79 -79.46Z" fill="#face0f"/></g><g transform="translate(385.14,454.52)"><path d="M-3.79 -2.46L0 0V-48.77L-3.79 -51.23Z" fill="url(#gcl)"/><path d="M0 0L4.62 -1.78V-50.54L0 -48.77Z" fill="url(#gcf)"/><path d="M0 -48.77L4.62 -50.54L0.82 -53.01L-3.79 -51.23Z" fill="#21c891"/></g><g transform="translate(507.55,456.46)"><path d="M0 0L4.62 -1.78L0.82 -4.24L-3.79 -2.46Z" fill="#3e26a8"/></g><g transform="translate(347.84,454.16)"><path d="M-3.79 -2.46L0 0V-23.1L-3.79 -25.56Z" fill="url(#gcl)"/><path d="M0 0L4.62 -1.78V-24.88L0 -23.1Z" fill="url(#gcf)"/><path d="M0 -23.1L4.62 -24.88L0.82 -27.34L-3.79 -25.56Z" fill="#1c76fa"/></g><g transform="translate(470.25,456.1)"><path d="M-3.79 -2.46L0 0V-35.93L-3.79 -38.4Z" fill="url(#gcl)"/><path d="M0 0L4.62 -1.78V-37.71L0 -35.93Z" fill="url(#gcf)"/><path d="M0 -35.93L4.62 -37.71L0.82 -40.17L-3.79 -38.4Z" fill="#00abd9"/></g><g transform="translate(432.95,455.74)"><path d="M-3.79 -2.46L0 0V-70.15L-3.79 -72.62Z" fill="url(#gcl)"/><path d="M0 0L4.62 -1.78V-71.93L0 -70.15Z" fill="url(#gcf)"/><path d="M0 -70.15L4.62 -71.93L0.82 -74.39L-3.79 -72.62Z" fill="#f5b11f"/></g><g transform="translate(395.65,455.38)"><path d="M-3.79 -2.46L0 0V-62.45L-3.79 -64.92Z" fill="url(#gcl)"/><path d="M0 0L4.62 -1.78V-64.23L0 -62.45Z" fill="url(#gcf)"/><path d="M0 -62.45L4.62 -64.23L0.82 -66.69L-3.79 -64.92Z" fill="#b7c41b"/></g><g transform="translate(358.35,455.02)"><path d="M-3.79 -2.46L0 0V-24.81L-3.79 -27.27Z" fill="url(#gcl)"/><path d="M0 0L4.62 -1.78V-26.59L0 -24.81Z" fill="url(#gcf)"/><path d="M0 -24.81L4.62 -26.59L0.82 -29.05L-3.79 -27.27Z" fill="#197df6"/></g><g transform="translate(480.76,456.96)"><path d="M-3.79 -2.46L0 0V-25.67L-3.79 -28.13Z" fill="url(#gcl)"/><path d="M0 0L4.62 -1.78V-27.44L0 -25.67Z" fill="url(#gcf)"/><path d="M0 -25.67L4.62 -27.44L0.82 -29.91L-3.79 -28.13Z" fill="#1881f3"/></g><g transform="translate(443.46,456.6)"><path d="M-3.79 -2.46L0 0V-61.6L-3.79 -64.06Z" fill="url(#gcl)"/><path d="M0 0L4.62 -1.78V-63.37L0 -61.6Z" fill="url(#gcf)"/><path d="M0 -61.6L4.62 -63.37L0.82 -65.84L-3.79 -64.06Z" fill="#adc620"/></g><g transform="translate(406.16,456.24)"><path d="M-3.79 -2.46L0 0V-71.87L-3.79 -74.33Z" fill="url(#gcl)"/><path d="M0 0L4.62 -1.78V-73.64L0 -71.87Z" fill="url(#gcf)"/><path d="M0 -71.87L4.62 -73.64L0.82 -76.11L-3.79 -74.33Z" fill="#feb320"/></g><g transform="translate(368.86,455.88)"><path d="M-3.79 -2.46L0 0V-28.23L-3.79 -30.7Z" fill="url(#gcl)"/><path d="M0 0L4.62 -1.78V-30.01L0 -28.23Z" fill="url(#gcf)"/><path d="M0 -28.23L4.62 -30.01L0.82 -32.47L-3.79 -30.7Z" fill="#108bec"/></g><g transform="translate(491.27,457.82)"><path d="M-3.79 -2.46L0 0V-15.4L-3.79 -17.86Z" fill="url(#gcl)"/><path d="M0 0L4.62 -1.78V-17.18L0 -15.4Z" fill="url(#gcf)"/><path d="M0 -15.4L4.62 -17.18L0.82 -19.64L-3.79 -17.86Z" fill="#3c57fb"/></g><g transform="translate(453.97,457.46)"><path d="M-3.79 -2.46L0 0V-49.62L-3.79 -52.09Z" fill="url(#gcl)"/><path d="M0 0L4.62 -1.78V-51.4L0 -49.62Z" fill="url(#gcf)"/><path d="M0 -49.62L4.62 -51.4L0.82 -53.86L-3.79 -52.09Z" fill="#26c98a"/></g><g transform="translate(416.67,457.1)"><path d="M-3.79 -2.46L0 0V-71.87L-3.79 -74.33Z" fill="url(#gcl)"/><path d="M0 0L4.62 -1.78V-73.64L0 -71.87Z" fill="url(#gcf)"/><path d="M0 -71.87L4.62 -73.64L0.82 -76.11L-3.79 -74.33Z" fill="#feb320"/></g><g transform="translate(379.37,456.74)"><path d="M-3.79 -2.46L0 0V-39.35L-3.79 -41.82Z" fill="url(#gcl)"/><path d="M0 0L4.62 -1.78V-41.13L0 -39.35Z" fill="url(#gcf)"/><path d="M0 -39.35L4.62 -41.13L0.82 -43.59L-3.79 -41.82Z" fill="#00b8ca"/></g><g transform="translate(501.78,458.68)"><path d="M0 0L4.62 -1.78L0.82 -4.24L-3.79 -2.46Z" fill="#3e26a8"/></g><g transform="translate(464.48,458.32)"><path d="M-3.79 -2.46L0 0V-40.21L-3.79 -42.67Z" fill="url(#gcl)"/><path d="M0 0L4.62 -1.78V-41.99L0 -40.21Z" fill="url(#gcf)"/><path d="M0 -40.21L4.62 -41.99L0.82 -44.45L-3.79 -42.67Z" fill="#00b9c6"/></g><g transform="translate(427.18,457.96)"><path d="M-3.79 -2.46L0 0V-69.3L-3.79 -71.76Z" fill="url(#gcl)"/><path d="M0 0L4.62 -1.78V-71.07L0 -69.3Z" fill="url(#gcf)"/><path d="M0 -69.3L4.62 -71.07L0.82 -73.54L-3.79 -71.76Z" fill="#f0b21a"/></g><g transform="translate(389.88,457.6)"><path d="M-3.79 -2.46L0 0V-48.77L-3.79 -51.23Z" fill="url(#gcl)"/><path d="M0 0L4.62 -1.78V-50.54L0 -48.77Z" fill="url(#gcf)"/><path d="M0 -48.77L4.62 -50.54L0.82 -53.01L-3.79 -51.23Z" fill="#21c891"/></g><g transform="translate(352.58,457.24)"><path d="M-3.79 -2.46L0 0V-23.1L-3.79 -25.56Z" fill="url(#gcl)"/><path d="M0 0L4.62 -1.78V-24.88L0 -23.1Z" fill="url(#gcf)"/><path d="M0 -23.1L4.62 -24.88L0.82 -27.34L-3.79 -25.56Z" fill="#1c76fa"/></g><g transform="translate(474.99,459.18)"><path d="M-3.79 -2.46L0 0V-28.23L-3.79 -30.7Z" fill="url(#gcl)"/><path d="M0 0L4.62 -1.78V-30.01L0 -28.23Z" fill="url(#gcf)"/><path d="M0 -28.23L4.62 -30.01L0.82 -32.47L-3.79 -30.7Z" fill="#108bec"/></g><g transform="translate(437.69,458.82)"><path d="M-3.79 -2.46L0 0V-61.6L-3.79 -64.06Z" fill="url(#gcl)"/><path d="M0 0L4.62 -1.78V-63.37L0 -61.6Z" fill="url(#gcf)"/><path d="M0 -61.6L4.62 -63.37L0.82 -65.84L-3.79 -64.06Z" fill="#adc620"/></g><g transform="translate(400.39,458.46)"><path d="M-3.79 -2.46L0 0V-61.6L-3.79 -64.06Z" fill="url(#gcl)"/><path d="M0 0L4.62 -1.78V-63.37L0 -61.6Z" fill="url(#gcf)"/><path d="M0 -61.6L4.62 -63.37L0.82 -65.84L-3.79 -64.06Z" fill="#adc620"/></g><g transform="translate(363.09,458.1)"><path d="M-3.79 -2.46L0 0V-25.67L-3.79 -28.13Z" fill="url(#gcl)"/><path d="M0 0L4.62 -1.78V-27.44L0 -25.67Z" fill="url(#gcf)"/><path d="M0 -25.67L4.62 -27.44L0.82 -29.91L-3.79 -28.13Z" fill="#1881f3"/></g><g transform="translate(485.5,460.04)"><path d="M-3.79 -2.46L0 0V-23.1L-3.79 -25.56Z" fill="url(#gcl)"/><path d="M0 0L4.62 -1.78V-24.88L0 -23.1Z" fill="url(#gcf)"/><path d="M0 -23.1L4.62 -24.88L0.82 -27.34L-3.79 -25.56Z" fill="#1c76fa"/></g><g transform="translate(448.2,459.68)"><path d="M-3.79 -2.46L0 0V-50.48L-3.79 -52.94Z" fill="url(#gcl)"/><path d="M0 0L4.62 -1.78V-52.25L0 -50.48Z" fill="url(#gcf)"/><path d="M0 -50.48L4.62 -52.25L0.82 -54.72L-3.79 -52.94Z" fill="#2cca83"/></g><g transform="translate(410.9,459.32)"><path d="M-3.79 -2.46L0 0V-66.73L-3.79 -69.2Z" fill="url(#gcl)"/><path d="M0 0L4.62 -1.78V-68.51L0 -66.73Z" fill="url(#gcf)"/><path d="M0 -66.73L4.62 -68.51L0.82 -70.97L-3.79 -69.2Z" fill="#deb80e"/></g><g transform="translate(373.6,458.96)"><path d="M-3.79 -2.46L0 0V-28.23L-3.79 -30.7Z" fill="url(#gcl)"/><path d="M0 0L4.62 -1.78V-30.01L0 -28.23Z" fill="url(#gcf)"/><path d="M0 -28.23L4.62 -30.01L0.82 -32.47L-3.79 -30.7Z" fill="#108bec"/></g><g transform="translate(496.01,460.9)"><path d="M0 0L4.62 -1.78L0.82 -4.24L-3.79 -2.46Z" fill="#3e26a8"/></g><g transform="translate(458.71,460.54)"><path d="M-3.79 -2.46L0 0V-42.78L-3.79 -45.24Z" fill="url(#gcl)"/><path d="M0 0L4.62 -1.78V-44.55L0 -42.78Z" fill="url(#gcf)"/><path d="M0 -42.78L4.62 -44.55L0.82 -47.02L-3.79 -45.24Z" fill="#00beb9"/></g><g transform="translate(421.41,460.18)"><path d="M-3.79 -2.46L0 0V-64.17L-3.79 -66.63Z" fill="url(#gcl)"/><path d="M0 0L4.62 -1.78V-65.94L0 -64.17Z" fill="url(#gcf)"/><path d="M0 -64.17L4.62 -65.94L0.82 -68.41L-3.79 -66.63Z" fill="#c8c011"/></g><g transform="translate(384.11,459.82)"><path d="M-3.79 -2.46L0 0V-39.35L-3.79 -41.82Z" fill="url(#gcl)"/><path d="M0 0L4.62 -1.78V-41.13L0 -39.35Z" fill="url(#gcf)"/><path d="M0 -39.35L4.62 -41.13L0.82 -43.59L-3.79 -41.82Z" fill="#00b8ca"/></g><g transform="translate(469.22,461.4)"><path d="M-3.79 -2.46L0 0V-30.8L-3.79 -33.26Z" fill="url(#gcl)"/><path d="M0 0L4.62 -1.78V-32.58L0 -30.8Z" fill="url(#gcf)"/><path d="M0 -30.8L4.62 -32.58L0.82 -35.04L-3.79 -33.26Z" fill="#0a95e6"/></g><g transform="translate(431.92,461.04)"><path d="M-3.79 -2.46L0 0V-59.89L-3.79 -62.35Z" fill="url(#gcl)"/><path d="M0 0L4.62 -1.78V-61.66L0 -59.89Z" fill="url(#gcf)"/><path d="M0 -59.89L4.62 -61.66L0.82 -64.13L-3.79 -62.35Z" fill="#99c92d"/></g><g transform="translate(394.62,460.68)"><path d="M-3.79 -2.46L0 0V-47.91L-3.79 -50.37Z" fill="url(#gcl)"/><path d="M0 0L4.62 -1.78V-49.69L0 -47.91Z" fill="url(#gcf)"/><path d="M0 -47.91L4.62 -49.69L0.82 -52.15L-3.79 -50.37Z" fill="#1dc697"/></g><g transform="translate(357.32,460.32)"><path d="M-3.79 -2.46L0 0V-24.81L-3.79 -27.27Z" fill="url(#gcl)"/><path d="M0 0L4.62 -1.78V-26.59L0 -24.81Z" fill="url(#gcf)"/><path d="M0 -24.81L4.62 -26.59L0.82 -29.05L-3.79 -27.27Z" fill="#197df6"/></g><g transform="translate(479.73,462.26)"><path d="M-3.79 -2.46L0 0V-25.67L-3.79 -28.13Z" fill="url(#gcl)"/><path d="M0 0L4.62 -1.78V-27.44L0 -25.67Z" fill="url(#gcf)"/><path d="M0 -25.67L4.62 -27.44L0.82 -29.91L-3.79 -28.13Z" fill="#1881f3"/></g><g transform="translate(442.43,461.9)"><path d="M-3.79 -2.46L0 0V-50.48L-3.79 -52.94Z" fill="url(#gcl)"/><path d="M0 0L4.62 -1.78V-52.25L0 -50.48Z" fill="url(#gcf)"/><path d="M0 -50.48L4.62 -52.25L0.82 -54.72L-3.79 -52.94Z" fill="#2cca83"/></g><g transform="translate(405.13,461.54)"><path d="M-3.79 -2.46L0 0V-56.47L-3.79 -58.93Z" fill="url(#gcl)"/><path d="M0 0L4.62 -1.78V-58.24L0 -56.47Z" fill="url(#gcf)"/><path d="M0 -56.47L4.62 -58.24L0.82 -60.71L-3.79 -58.93Z" fill="#6ecc4d"/></g><g transform="translate(367.83,461.18)"><path d="M-3.79 -2.46L0 0V-25.67L-3.79 -28.13Z" fill="url(#gcl)"/><path d="M0 0L4.62 -1.78V-27.44L0 -25.67Z" fill="url(#gcf)"/><path d="M0 -25.67L4.62 -27.44L0.82 -29.91L-3.79 -28.13Z" fill="#1881f3"/></g><g transform="translate(490.24,463.12)"><path d="M-3.79 -2.46L0 0V-17.97L-3.79 -20.43Z" fill="url(#gcl)"/><path d="M0 0L4.62 -1.78V-19.74L0 -17.97Z" fill="url(#gcf)"/><path d="M0 -17.97L4.62 -19.74L0.82 -22.21L-3.79 -20.43Z" fill="#3560fe"/></g><g transform="translate(452.94,462.76)"><path d="M-3.79 -2.46L0 0V-43.63L-3.79 -46.1Z" fill="url(#gcl)"/><path d="M0 0L4.62 -1.78V-45.41L0 -43.63Z" fill="url(#gcf)"/><path d="M0 -43.63L4.62 -45.41L0.82 -47.87L-3.79 -46.1Z" fill="#01c0b3"/></g><g transform="translate(415.64,462.4)"><path d="M-3.79 -2.46L0 0V-58.18L-3.79 -60.64Z" fill="url(#gcl)"/><path d="M0 0L4.62 -1.78V-59.95L0 -58.18Z" fill="url(#gcf)"/><path d="M0 -58.18L4.62 -59.95L0.82 -62.42L-3.79 -60.64Z" fill="#84cb3d"/></g><g transform="translate(378.34,462.04)"><path d="M-3.79 -2.46L0 0V-28.23L-3.79 -30.7Z" fill="url(#gcl)"/><path d="M0 0L4.62 -1.78V-30.01L0 -28.23Z" fill="url(#gcf)"/><path d="M0 -28.23L4.62 -30.01L0.82 -32.47L-3.79 -30.7Z" fill="#108bec"/></g><g transform="translate(463.45,463.62)"><path d="M-3.79 -2.46L0 0V-33.37L-3.79 -35.83Z" fill="url(#gcl)"/><path d="M0 0L4.62 -1.78V-35.14L0 -33.37Z" fill="url(#gcf)"/><path d="M0 -33.37L4.62 -35.14L0.82 -37.61L-3.79 -35.83Z" fill="#019fe1"/></g><g transform="translate(426.15,463.26)"><path d="M-3.79 -2.46L0 0V-54.75L-3.79 -57.22Z" fill="url(#gcl)"/><path d="M0 0L4.62 -1.78V-56.53L0 -54.75Z" fill="url(#gcf)"/><path d="M0 -54.75L4.62 -56.53L0.82 -58.99L-3.79 -57.22Z" fill="#59cd5d"/></g><g transform="translate(388.85,462.9)"><path d="M-3.79 -2.46L0 0V-38.5L-3.79 -40.96Z" fill="url(#gcl)"/><path d="M0 0L4.62 -1.78V-40.28L0 -38.5Z" fill="url(#gcf)"/><path d="M0 -38.5L4.62 -40.28L0.82 -42.74L-3.79 -40.96Z" fill="#00b5ce"/></g><g transform="translate(473.96,464.48)"><path d="M-3.79 -2.46L0 0V-26.52L-3.79 -28.99Z" fill="url(#gcl)"/><path d="M0 0L4.62 -1.78V-28.3L0 -26.52Z" fill="url(#gcf)"/><path d="M0 -26.52L4.62 -28.3L0.82 -30.76L-3.79 -28.99Z" fill="#1684f0"/></g><g transform="translate(436.66,464.12)"><path d="M-3.79 -2.46L0 0V-49.62L-3.79 -52.09Z" fill="url(#gcl)"/><path d="M0 0L4.62 -1.78V-51.4L0 -49.62Z" fill="url(#gcf)"/><path d="M0 -49.62L4.62 -51.4L0.82 -53.86L-3.79 -52.09Z" fill="#26c98a"/></g><g transform="translate(399.36,463.76)"><path d="M-3.79 -2.46L0 0V-43.63L-3.79 -46.1Z" fill="url(#gcl)"/><path d="M0 0L4.62 -1.78V-45.41L0 -43.63Z" fill="url(#gcf)"/><path d="M0 -43.63L4.62 -45.41L0.82 -47.87L-3.79 -46.1Z" fill="#01c0b3"/></g><g transform="translate(362.06,463.4)"><path d="M-3.79 -2.46L0 0V-24.81L-3.79 -27.27Z" fill="url(#gcl)"/><path d="M0 0L4.62 -1.78V-26.59L0 -24.81Z" fill="url(#gcf)"/><path d="M0 -24.81L4.62 -26.59L0.82 -29.05L-3.79 -27.27Z" fill="#197df6"/></g><g transform="translate(484.47,465.34)"><path d="M-3.79 -2.46L0 0V-21.39L-3.79 -23.85Z" fill="url(#gcl)"/><path d="M0 0L4.62 -1.78V-23.16L0 -21.39Z" fill="url(#gcf)"/><path d="M0 -21.39L4.62 -23.16L0.82 -25.63L-3.79 -23.85Z" fill="#226ffd"/></g><g transform="translate(447.17,464.98)"><path d="M-3.79 -2.46L0 0V-43.63L-3.79 -46.1Z" fill="url(#gcl)"/><path d="M0 0L4.62 -1.78V-45.41L0 -43.63Z" fill="url(#gcf)"/><path d="M0 -43.63L4.62 -45.41L0.82 -47.87L-3.79 -46.1Z" fill="#01c0b3"/></g><g transform="translate(409.87,464.62)"><path d="M-3.79 -2.46L0 0V-50.48L-3.79 -52.94Z" fill="url(#gcl)"/><path d="M0 0L4.62 -1.78V-52.25L0 -50.48Z" fill="url(#gcf)"/><path d="M0 -50.48L4.62 -52.25L0.82 -54.72L-3.79 -52.94Z" fill="#2cca83"/></g><g transform="translate(372.57,464.26)"><path d="M-3.79 -2.46L0 0V-25.67L-3.79 -28.13Z" fill="url(#gcl)"/><path d="M0 0L4.62 -1.78V-27.44L0 -25.67Z" fill="url(#gcf)"/><path d="M0 -25.67L4.62 -27.44L0.82 -29.91L-3.79 -28.13Z" fill="#1881f3"/></g><g transform="translate(457.68,465.84)"><path d="M-3.79 -2.46L0 0V-34.22L-3.79 -36.69Z" fill="url(#gcl)"/><path d="M0 0L4.62 -1.78V-36L0 -34.22Z" fill="url(#gcf)"/><path d="M0 -34.22L4.62 -36L0.82 -38.46L-3.79 -36.69Z" fill="#00a3df"/></g><g transform="translate(420.38,465.48)"><path d="M-3.79 -2.46L0 0V-49.62L-3.79 -52.09Z" fill="url(#gcl)"/><path d="M0 0L4.62 -1.78V-51.4L0 -49.62Z" fill="url(#gcf)"/><path d="M0 -49.62L4.62 -51.4L0.82 -53.86L-3.79 -52.09Z" fill="#26c98a"/></g><g transform="translate(383.08,465.12)"><path d="M-3.79 -2.46L0 0V-28.23L-3.79 -30.7Z" fill="url(#gcl)"/><path d="M0 0L4.62 -1.78V-30.01L0 -28.23Z" fill="url(#gcf)"/><path d="M0 -28.23L4.62 -30.01L0.82 -32.47L-3.79 -30.7Z" fill="#108bec"/></g><g transform="translate(468.19,466.7)"><path d="M-3.79 -2.46L0 0V-29.94L-3.79 -32.41Z" fill="url(#gcl)"/><path d="M0 0L4.62 -1.78V-31.72L0 -29.94Z" fill="url(#gcf)"/><path d="M0 -29.94L4.62 -31.72L0.82 -34.18L-3.79 -32.41Z" fill="#0c92e7"/></g><g transform="translate(430.89,466.34)"><path d="M-3.79 -2.46L0 0V-46.2L-3.79 -48.66Z" fill="url(#gcl)"/><path d="M0 0L4.62 -1.78V-47.98L0 -46.2Z" fill="url(#gcf)"/><path d="M0 -46.2L4.62 -47.98L0.82 -50.44L-3.79 -48.66Z" fill="#15c4a3"/></g><g transform="translate(393.59,465.98)"><path d="M-3.79 -2.46L0 0V-34.22L-3.79 -36.69Z" fill="url(#gcl)"/><path d="M0 0L4.62 -1.78V-36L0 -34.22Z" fill="url(#gcf)"/><path d="M0 -34.22L4.62 -36L0.82 -38.46L-3.79 -36.69Z" fill="#00a3df"/></g><g transform="translate(478.7,467.56)"><path d="M-3.79 -2.46L0 0V-22.24L-3.79 -24.71Z" fill="url(#gcl)"/><path d="M0 0L4.62 -1.78V-24.02L0 -22.24Z" fill="url(#gcf)"/><path d="M0 -22.24L4.62 -24.02L0.82 -26.48L-3.79 -24.71Z" fill="#1e73fb"/></g><g transform="translate(441.4,467.2)"><path d="M-3.79 -2.46L0 0V-42.78L-3.79 -45.24Z" fill="url(#gcl)"/><path d="M0 0L4.62 -1.78V-44.55L0 -42.78Z" fill="url(#gcf)"/><path d="M0 -42.78L4.62 -44.55L0.82 -47.02L-3.79 -45.24Z" fill="#00beb9"/></g><g transform="translate(404.1,466.84)"><path d="M-3.79 -2.46L0 0V-42.78L-3.79 -45.24Z" fill="url(#gcl)"/><path d="M0 0L4.62 -1.78V-44.55L0 -42.78Z" fill="url(#gcf)"/><path d="M0 -42.78L4.62 -44.55L0.82 -47.02L-3.79 -45.24Z" fill="#00beb9"/></g><g transform="translate(366.8,466.48)"><path d="M-3.79 -2.46L0 0V-24.81L-3.79 -27.27Z" fill="url(#gcl)"/><path d="M0 0L4.62 -1.78V-26.59L0 -24.81Z" fill="url(#gcf)"/><path d="M0 -24.81L4.62 -26.59L0.82 -29.05L-3.79 -27.27Z" fill="#197df6"/></g><g transform="translate(451.91,468.06)"><path d="M-3.79 -2.46L0 0V-34.22L-3.79 -36.69Z" fill="url(#gcl)"/><path d="M0 0L4.62 -1.78V-36L0 -34.22Z" fill="url(#gcf)"/><path d="M0 -34.22L4.62 -36L0.82 -38.46L-3.79 -36.69Z" fill="#00a3df"/></g><g transform="translate(414.61,467.7)"><path d="M-3.79 -2.46L0 0V-46.2L-3.79 -48.66Z" fill="url(#gcl)"/><path d="M0 0L4.62 -1.78V-47.98L0 -46.2Z" fill="url(#gcf)"/><path d="M0 -46.2L4.62 -47.98L0.82 -50.44L-3.79 -48.66Z" fill="#15c4a3"/></g><g transform="translate(377.31,467.34)"><path d="M-3.79 -2.46L0 0V-25.67L-3.79 -28.13Z" fill="url(#gcl)"/><path d="M0 0L4.62 -1.78V-27.44L0 -25.67Z" fill="url(#gcf)"/><path d="M0 -25.67L4.62 -27.44L0.82 -29.91L-3.79 -28.13Z" fill="#1881f3"/></g><g transform="translate(462.42,468.92)"><path d="M-3.79 -2.46L0 0V-30.8L-3.79 -33.26Z" fill="url(#gcl)"/><path d="M0 0L4.62 -1.78V-32.58L0 -30.8Z" fill="url(#gcf)"/><path d="M0 -30.8L4.62 -32.58L0.82 -35.04L-3.79 -33.26Z" fill="#0a95e6"/></g><g transform="translate(425.12,468.56)"><path d="M-3.79 -2.46L0 0V-41.07L-3.79 -43.53Z" fill="url(#gcl)"/><path d="M0 0L4.62 -1.78V-42.84L0 -41.07Z" fill="url(#gcf)"/><path d="M0 -41.07L4.62 -42.84L0.82 -45.31L-3.79 -43.53Z" fill="#00bbc2"/></g><g transform="translate(387.82,468.2)"><path d="M-3.79 -2.46L0 0V-27.38L-3.79 -29.84Z" fill="url(#gcl)"/><path d="M0 0L4.62 -1.78V-29.15L0 -27.38Z" fill="url(#gcf)"/><path d="M0 -27.38L4.62 -29.15L0.82 -31.62L-3.79 -29.84Z" fill="#1488ee"/></g><g transform="translate(472.93,469.78)"><path d="M-3.79 -2.46L0 0V-23.1L-3.79 -25.56Z" fill="url(#gcl)"/><path d="M0 0L4.62 -1.78V-24.88L0 -23.1Z" fill="url(#gcf)"/><path d="M0 -23.1L4.62 -24.88L0.82 -27.34L-3.79 -25.56Z" fill="#1c76fa"/></g><g transform="translate(435.63,469.42)"><path d="M-3.79 -2.46L0 0V-40.21L-3.79 -42.67Z" fill="url(#gcl)"/><path d="M0 0L4.62 -1.78V-41.99L0 -40.21Z" fill="url(#gcf)"/><path d="M0 -40.21L4.62 -41.99L0.82 -44.45L-3.79 -42.67Z" fill="#00b9c6"/></g><g transform="translate(398.33,469.06)"><path d="M-3.79 -2.46L0 0V-33.37L-3.79 -35.83Z" fill="url(#gcl)"/><path d="M0 0L4.62 -1.78V-35.14L0 -33.37Z" fill="url(#gcf)"/><path d="M0 -33.37L4.62 -35.14L0.82 -37.61L-3.79 -35.83Z" fill="#019fe1"/></g><g transform="translate(446.14,470.28)"><path d="M-3.79 -2.46L0 0V-33.37L-3.79 -35.83Z" fill="url(#gcl)"/><path d="M0 0L4.62 -1.78V-35.14L0 -33.37Z" fill="url(#gcf)"/><path d="M0 -33.37L4.62 -35.14L0.82 -37.61L-3.79 -35.83Z" fill="#019fe1"/></g><g transform="translate(408.84,469.92)"><path d="M-3.79 -2.46L0 0V-36.79L-3.79 -39.25Z" fill="url(#gcl)"/><path d="M0 0L4.62 -1.78V-38.56L0 -36.79Z" fill="url(#gcf)"/><path d="M0 -36.79L4.62 -38.56L0.82 -41.03L-3.79 -39.25Z" fill="#00aed6"/></g><g transform="translate(371.54,469.56)"><path d="M-3.79 -2.46L0 0V-24.81L-3.79 -27.27Z" fill="url(#gcl)"/><path d="M0 0L4.62 -1.78V-26.59L0 -24.81Z" fill="url(#gcf)"/><path d="M0 -24.81L4.62 -26.59L0.82 -29.05L-3.79 -27.27Z" fill="#197df6"/></g><g transform="translate(456.65,471.14)"><path d="M-3.79 -2.46L0 0V-30.8L-3.79 -33.26Z" fill="url(#gcl)"/><path d="M0 0L4.62 -1.78V-32.58L0 -30.8Z" fill="url(#gcf)"/><path d="M0 -30.8L4.62 -32.58L0.82 -35.04L-3.79 -33.26Z" fill="#0a95e6"/></g><g transform="translate(419.35,470.78)"><path d="M-3.79 -2.46L0 0V-36.79L-3.79 -39.25Z" fill="url(#gcl)"/><path d="M0 0L4.62 -1.78V-38.56L0 -36.79Z" fill="url(#gcf)"/><path d="M0 -36.79L4.62 -38.56L0.82 -41.03L-3.79 -39.25Z" fill="#00aed6"/></g><g transform="translate(382.05,470.42)"><path d="M-3.79 -2.46L0 0V-24.81L-3.79 -27.27Z" fill="url(#gcl)"/><path d="M0 0L4.62 -1.78V-26.59L0 -24.81Z" fill="url(#gcf)"/><path d="M0 -24.81L4.62 -26.59L0.82 -29.05L-3.79 -27.27Z" fill="#197df6"/></g><g transform="translate(467.16,472)"><path d="M-3.79 -2.46L0 0V-23.96L-3.79 -26.42Z" fill="url(#gcl)"/><path d="M0 0L4.62 -1.78V-25.73L0 -23.96Z" fill="url(#gcf)"/><path d="M0 -23.96L4.62 -25.73L0.82 -28.2L-3.79 -26.42Z" fill="#1a7af8"/></g><g transform="translate(429.86,471.64)"><path d="M-3.79 -2.46L0 0V-35.93L-3.79 -38.4Z" fill="url(#gcl)"/><path d="M0 0L4.62 -1.78V-37.71L0 -35.93Z" fill="url(#gcf)"/><path d="M0 -35.93L4.62 -37.71L0.82 -40.17L-3.79 -38.4Z" fill="#00abd9"/></g><g transform="translate(392.56,471.28)"><path d="M-3.79 -2.46L0 0V-26.52L-3.79 -28.99Z" fill="url(#gcl)"/><path d="M0 0L4.62 -1.78V-28.3L0 -26.52Z" fill="url(#gcf)"/><path d="M0 -26.52L4.62 -28.3L0.82 -30.76L-3.79 -28.99Z" fill="#1684f0"/></g><g transform="translate(440.37,472.5)"><path d="M-3.79 -2.46L0 0V-30.8L-3.79 -33.26Z" fill="url(#gcl)"/><path d="M0 0L4.62 -1.78V-32.58L0 -30.8Z" fill="url(#gcf)"/><path d="M0 -30.8L4.62 -32.58L0.82 -35.04L-3.79 -33.26Z" fill="#0a95e6"/></g><g transform="translate(403.07,472.14)"><path d="M-3.79 -2.46L0 0V-29.94L-3.79 -32.41Z" fill="url(#gcl)"/><path d="M0 0L4.62 -1.78V-31.72L0 -29.94Z" fill="url(#gcf)"/><path d="M0 -29.94L4.62 -31.72L0.82 -34.18L-3.79 -32.41Z" fill="#0c92e7"/></g><g transform="translate(450.88,473.36)"><path d="M-3.79 -2.46L0 0V-29.94L-3.79 -32.41Z" fill="url(#gcl)"/><path d="M0 0L4.62 -1.78V-31.72L0 -29.94Z" fill="url(#gcf)"/><path d="M0 -29.94L4.62 -31.72L0.82 -34.18L-3.79 -32.41Z" fill="#0c92e7"/></g><g transform="translate(413.58,473)"><path d="M-3.79 -2.46L0 0V-30.8L-3.79 -33.26Z" fill="url(#gcl)"/><path d="M0 0L4.62 -1.78V-32.58L0 -30.8Z" fill="url(#gcf)"/><path d="M0 -30.8L4.62 -32.58L0.82 -35.04L-3.79 -33.26Z" fill="#0a95e6"/></g><g transform="translate(376.28,472.64)"><path d="M-3.79 -2.46L0 0V-23.1L-3.79 -25.56Z" fill="url(#gcl)"/><path d="M0 0L4.62 -1.78V-24.88L0 -23.1Z" fill="url(#gcf)"/><path d="M0 -23.1L4.62 -24.88L0.82 -27.34L-3.79 -25.56Z" fill="#1c76fa"/></g><g transform="translate(461.39,474.22)"><path d="M-3.79 -2.46L0 0V-23.96L-3.79 -26.42Z" fill="url(#gcl)"/><path d="M0 0L4.62 -1.78V-25.73L0 -23.96Z" fill="url(#gcf)"/><path d="M0 -23.96L4.62 -25.73L0.82 -28.2L-3.79 -26.42Z" fill="#1a7af8"/></g><g transform="translate(424.09,473.86)"><path d="M-3.79 -2.46L0 0V-32.51L-3.79 -34.97Z" fill="url(#gcl)"/><path d="M0 0L4.62 -1.78V-34.29L0 -32.51Z" fill="url(#gcf)"/><path d="M0 -32.51L4.62 -34.29L0.82 -36.75L-3.79 -34.97Z" fill="#059ce3"/></g><g transform="translate(386.79,473.5)"><path d="M-3.79 -2.46L0 0V-23.1L-3.79 -25.56Z" fill="url(#gcl)"/><path d="M0 0L4.62 -1.78V-24.88L0 -23.1Z" fill="url(#gcf)"/><path d="M0 -23.1L4.62 -24.88L0.82 -27.34L-3.79 -25.56Z" fill="#1c76fa"/></g><g transform="translate(434.6,474.72)"><path d="M-3.79 -2.46L0 0V-28.23L-3.79 -30.7Z" fill="url(#gcl)"/><path d="M0 0L4.62 -1.78V-30.01L0 -28.23Z" fill="url(#gcf)"/><path d="M0 -28.23L4.62 -30.01L0.82 -32.47L-3.79 -30.7Z" fill="#108bec"/></g><g transform="translate(397.3,474.36)"><path d="M-3.79 -2.46L0 0V-25.67L-3.79 -28.13Z" fill="url(#gcl)"/><path d="M0 0L4.62 -1.78V-27.44L0 -25.67Z" fill="url(#gcf)"/><path d="M0 -25.67L4.62 -27.44L0.82 -29.91L-3.79 -28.13Z" fill="#1881f3"/></g><g transform="translate(445.11,475.58)"><path d="M-3.79 -2.46L0 0V-26.52L-3.79 -28.99Z" fill="url(#gcl)"/><path d="M0 0L4.62 -1.78V-28.3L0 -26.52Z" fill="url(#gcf)"/><path d="M0 -26.52L4.62 -28.3L0.82 -30.76L-3.79 -28.99Z" fill="#1684f0"/></g><g transform="translate(407.81,475.22)"><path d="M-3.79 -2.46L0 0V-25.67L-3.79 -28.13Z" fill="url(#gcl)"/><path d="M0 0L4.62 -1.78V-27.44L0 -25.67Z" fill="url(#gcf)"/><path d="M0 -25.67L4.62 -27.44L0.82 -29.91L-3.79 -28.13Z" fill="#1881f3"/></g><g transform="translate(455.62,476.44)"><path d="M-3.79 -2.46L0 0V-23.1L-3.79 -25.56Z" fill="url(#gcl)"/><path d="M0 0L4.62 -1.78V-24.88L0 -23.1Z" fill="url(#gcf)"/><path d="M0 -23.1L4.62 -24.88L0.82 -27.34L-3.79 -25.56Z" fill="#1c76fa"/></g><g transform="translate(418.32,476.08)"><path d="M-3.79 -2.46L0 0V-25.67L-3.79 -28.13Z" fill="url(#gcl)"/><path d="M0 0L4.62 -1.78V-27.44L0 -25.67Z" fill="url(#gcf)"/><path d="M0 -25.67L4.62 -27.44L0.82 -29.91L-3.79 -28.13Z" fill="#1881f3"/></g><g transform="translate(381.02,475.72)"><path d="M-3.79 -2.46L0 0V-23.1L-3.79 -25.56Z" fill="url(#gcl)"/><path d="M0 0L4.62 -1.78V-24.88L0 -23.1Z" fill="url(#gcf)"/><path d="M0 -23.1L4.62 -24.88L0.82 -27.34L-3.79 -25.56Z" fill="#1c76fa"/></g><g transform="translate(428.83,476.94)"><path d="M-3.79 -2.46L0 0V-25.67L-3.79 -28.13Z" fill="url(#gcl)"/><path d="M0 0L4.62 -1.78V-27.44L0 -25.67Z" fill="url(#gcf)"/><path d="M0 -25.67L4.62 -27.44L0.82 -29.91L-3.79 -28.13Z" fill="#1881f3"/></g><g transform="translate(391.53,476.58)"><path d="M-3.79 -2.46L0 0V-23.1L-3.79 -25.56Z" fill="url(#gcl)"/><path d="M0 0L4.62 -1.78V-24.88L0 -23.1Z" fill="url(#gcf)"/><path d="M0 -23.1L4.62 -24.88L0.82 -27.34L-3.79 -25.56Z" fill="#1c76fa"/></g><g transform="translate(439.34,477.8)"><path d="M-3.79 -2.46L0 0V-25.67L-3.79 -28.13Z" fill="url(#gcl)"/><path d="M0 0L4.62 -1.78V-27.44L0 -25.67Z" fill="url(#gcf)"/><path d="M0 -25.67L4.62 -27.44L0.82 -29.91L-3.79 -28.13Z" fill="#1881f3"/></g><g transform="translate(402.04,477.44)"><path d="M-3.79 -2.46L0 0V-21.39L-3.79 -23.85Z" fill="url(#gcl)"/><path d="M0 0L4.62 -1.78V-23.16L0 -21.39Z" fill="url(#gcf)"/><path d="M0 -21.39L4.62 -23.16L0.82 -25.63L-3.79 -23.85Z" fill="#226ffd"/></g><g transform="translate(449.85,478.66)"><path d="M-3.79 -2.46L0 0V-22.24L-3.79 -24.71Z" fill="url(#gcl)"/><path d="M0 0L4.62 -1.78V-24.02L0 -22.24Z" fill="url(#gcf)"/><path d="M0 -22.24L4.62 -24.02L0.82 -26.48L-3.79 -24.71Z" fill="#1e73fb"/></g><g transform="translate(412.55,478.3)"><path d="M-3.79 -2.46L0 0V-23.96L-3.79 -26.42Z" fill="url(#gcl)"/><path d="M0 0L4.62 -1.78V-25.73L0 -23.96Z" fill="url(#gcf)"/><path d="M0 -23.96L4.62 -25.73L0.82 -28.2L-3.79 -26.42Z" fill="#1a7af8"/></g><g transform="translate(423.06,479.16)"><path d="M-3.79 -2.46L0 0V-23.96L-3.79 -26.42Z" fill="url(#gcl)"/><path d="M0 0L4.62 -1.78V-25.73L0 -23.96Z" fill="url(#gcf)"/><path d="M0 -23.96L4.62 -25.73L0.82 -28.2L-3.79 -26.42Z" fill="#1a7af8"/></g><g transform="translate(385.76,478.8)"><path d="M-3.79 -2.46L0 0V-21.39L-3.79 -23.85Z" fill="url(#gcl)"/><path d="M0 0L4.62 -1.78V-23.16L0 -21.39Z" fill="url(#gcf)"/><path d="M0 -21.39L4.62 -23.16L0.82 -25.63L-3.79 -23.85Z" fill="#226ffd"/></g><g transform="translate(433.57,480.02)"><path d="M-3.79 -2.46L0 0V-23.1L-3.79 -25.56Z" fill="url(#gcl)"/><path d="M0 0L4.62 -1.78V-24.88L0 -23.1Z" fill="url(#gcf)"/><path d="M0 -23.1L4.62 -24.88L0.82 -27.34L-3.79 -25.56Z" fill="#1c76fa"/></g><g transform="translate(396.27,479.66)"><path d="M-3.79 -2.46L0 0V-14.54L-3.79 -17.01Z" fill="url(#gcl)"/><path d="M0 0L4.62 -1.78V-16.32L0 -14.54Z" fill="url(#gcf)"/><path d="M0 -14.54L4.62 -16.32L0.82 -18.78L-3.79 -17.01Z" fill="#3d54fa"/></g><g transform="translate(444.08,480.88)"><path d="M-3.79 -2.46L0 0V-21.39L-3.79 -23.85Z" fill="url(#gcl)"/><path d="M0 0L4.62 -1.78V-23.16L0 -21.39Z" fill="url(#gcf)"/><path d="M0 -21.39L4.62 -23.16L0.82 -25.63L-3.79 -23.85Z" fill="#226ffd"/></g><g transform="translate(406.78,480.52)"><path d="M-3.79 -2.46L0 0V-17.11L-3.79 -19.57Z" fill="url(#gcl)"/><path d="M0 0L4.62 -1.78V-18.89L0 -17.11Z" fill="url(#gcf)"/><path d="M0 -17.11L4.62 -18.89L0.82 -21.35L-3.79 -19.57Z" fill="#385dfd"/></g><g transform="translate(417.29,481.38)"><path d="M-3.79 -2.46L0 0V-17.11L-3.79 -19.57Z" fill="url(#gcl)"/><path d="M0 0L4.62 -1.78V-18.89L0 -17.11Z" fill="url(#gcf)"/><path d="M0 -17.11L4.62 -18.89L0.82 -21.35L-3.79 -19.57Z" fill="#385dfd"/></g><g transform="translate(427.8,482.24)"><path d="M-3.79 -2.46L0 0V-15.4L-3.79 -17.86Z" fill="url(#gcl)"/><path d="M0 0L4.62 -1.78V-17.18L0 -15.4Z" fill="url(#gcf)"/><path d="M0 -15.4L4.62 -17.18L0.82 -19.64L-3.79 -17.86Z" fill="#3c57fb"/></g><g transform="translate(390.5,481.88)"><path d="M0 0L4.62 -1.78L0.82 -4.24L-3.79 -2.46Z" fill="#3e26a8"/></g><g transform="translate(438.31,483.1)"><path d="M-3.79 -2.46L0 0V-17.97L-3.79 -20.43Z" fill="url(#gcl)"/><path d="M0 0L4.62 -1.78V-19.74L0 -17.97Z" fill="url(#gcf)"/><path d="M0 -17.97L4.62 -19.74L0.82 -22.21L-3.79 -20.43Z" fill="#3560fe"/></g><g transform="translate(401.01,482.74)"><path d="M0 0L4.62 -1.78L0.82 -4.24L-3.79 -2.46Z" fill="#3e26a8"/></g><g transform="translate(411.52,483.6)"><path d="M0 0L4.62 -1.78L0.82 -4.24L-3.79 -2.46Z" fill="#3e26a8"/></g><g transform="translate(422.03,484.46)"><path d="M0 0L4.62 -1.78L0.82 -4.24L-3.79 -2.46Z" fill="#3e26a8"/></g><g transform="translate(432.54,485.32)"><path d="M0 0L4.62 -1.78L0.82 -4.24L-3.79 -2.46Z" fill="#3e26a8"/></g><g transform="translate(395.24,484.96)"><path d="M0 0L4.62 -1.78L0.82 -4.24L-3.79 -2.46Z" fill="#3e26a8"/></g><g transform="translate(405.75,485.82)"><path d="M0 0L4.62 -1.78L0.82 -4.24L-3.79 -2.46Z" fill="#3e26a8"/></g><g transform="translate(416.26,486.68)"><path d="M0 0L4.62 -1.78L0.82 -4.24L-3.79 -2.46Z" fill="#3e26a8"/></g><g transform="translate(426.77,487.54)"><path d="M0 0L4.62 -1.78L0.82 -4.24L-3.79 -2.46Z" fill="#3e26a8"/></g><g transform="translate(399.98,488.04)"><path d="M0 0L4.62 -1.78L0.82 -4.24L-3.79 -2.46Z" fill="#3e26a8"/></g><g transform="translate(410.49,488.9)"><path d="M0 0L4.62 -1.78L0.82 -4.24L-3.79 -2.46Z" fill="#3e26a8"/></g><g transform="translate(421,489.76)"><path d="M0 0L4.62 -1.78L0.82 -4.24L-3.79 -2.46Z" fill="#3e26a8"/></g><g transform="translate(404.72,491.12)"><path d="M0 0L4.62 -1.78L0.82 -4.24L-3.79 -2.46Z" fill="#3e26a8"/></g><g transform="translate(415.23,491.98)"><path d="M0 0L4.62 -1.78L0.82 -4.24L-3.79 -2.46Z" fill="#3e26a8"/></g><g transform="translate(409.46,494.2)"><path d="M0 0L4.62 -1.78L0.82 -4.24L-3.79 -2.46Z" fill="#3e26a8"/></g></g>
<path d="M309.3 345.4L309.3 432.7L408.84 497.38L530.01 450.76" fill="none" stroke="#9a9a9a" stroke-width="0.8"/>
<path d="M309.3 432.7h1.8M309.3 403.6h1.8M309.3 374.5h1.8M309.3 345.4h1.8" stroke="#9a9a9a" stroke-width="0.6"/>
<text x="303.8" y="431.9" font-size="7.2" text-anchor="end" fill="#333333" >0</text>
<text x="303.8" y="402.8" font-size="7.2" text-anchor="end" fill="#333333" >0.02</text>
<text x="303.8" y="373.7" font-size="7.2" text-anchor="end" fill="#333333" >0.04</text>
<text x="303.8" y="344.6" font-size="7.2" text-anchor="end" fill="#333333" >0.06</text>
<text x="303.5" y="442.5" font-size="7.2" text-anchor="end" fill="#333333" >0</text>
<text x="414.24" y="508.48" font-size="7.2" text-anchor="start" fill="#333333" >0</text>
<text x="327.2" y="457.9" font-size="7.2" text-anchor="end" fill="#333333" >5</text>
<text x="443.09" y="497.38" font-size="7.2" text-anchor="start" fill="#333333" >5</text>
<text x="350.9" y="473.3" font-size="7.2" text-anchor="end" fill="#333333" >10</text>
<text x="471.94" y="486.28" font-size="7.2" text-anchor="start" fill="#333333" >10</text>
<text x="374.6" y="488.7" font-size="7.2" text-anchor="end" fill="#333333" >15</text>
<text x="500.79" y="475.18" font-size="7.2" text-anchor="start" fill="#333333" >15</text>
<text x="398.3" y="504.1" font-size="7.2" text-anchor="end" fill="#333333" >20</text>
<text x="529.64" y="464.08" font-size="7.2" text-anchor="start" fill="#333333" >20</text>
<text x="0" y="0" font-size="9.2" text-anchor="middle" fill="#333333" transform="translate(283.5,390) rotate(-90)">Sz</text>
<text x="351" y="503.6" font-size="9.2" text-anchor="middle" fill="#333333" >Rows</text>
<text x="476" y="507.6" font-size="9.2" text-anchor="middle" fill="#333333" >Columns</text>
<text x="295.2" y="545" font-size="12.4" text-anchor="middle" fill="#1a1a1a" >(<tspan font-weight="bold">c</tspan>)</text></svg></body></html>
